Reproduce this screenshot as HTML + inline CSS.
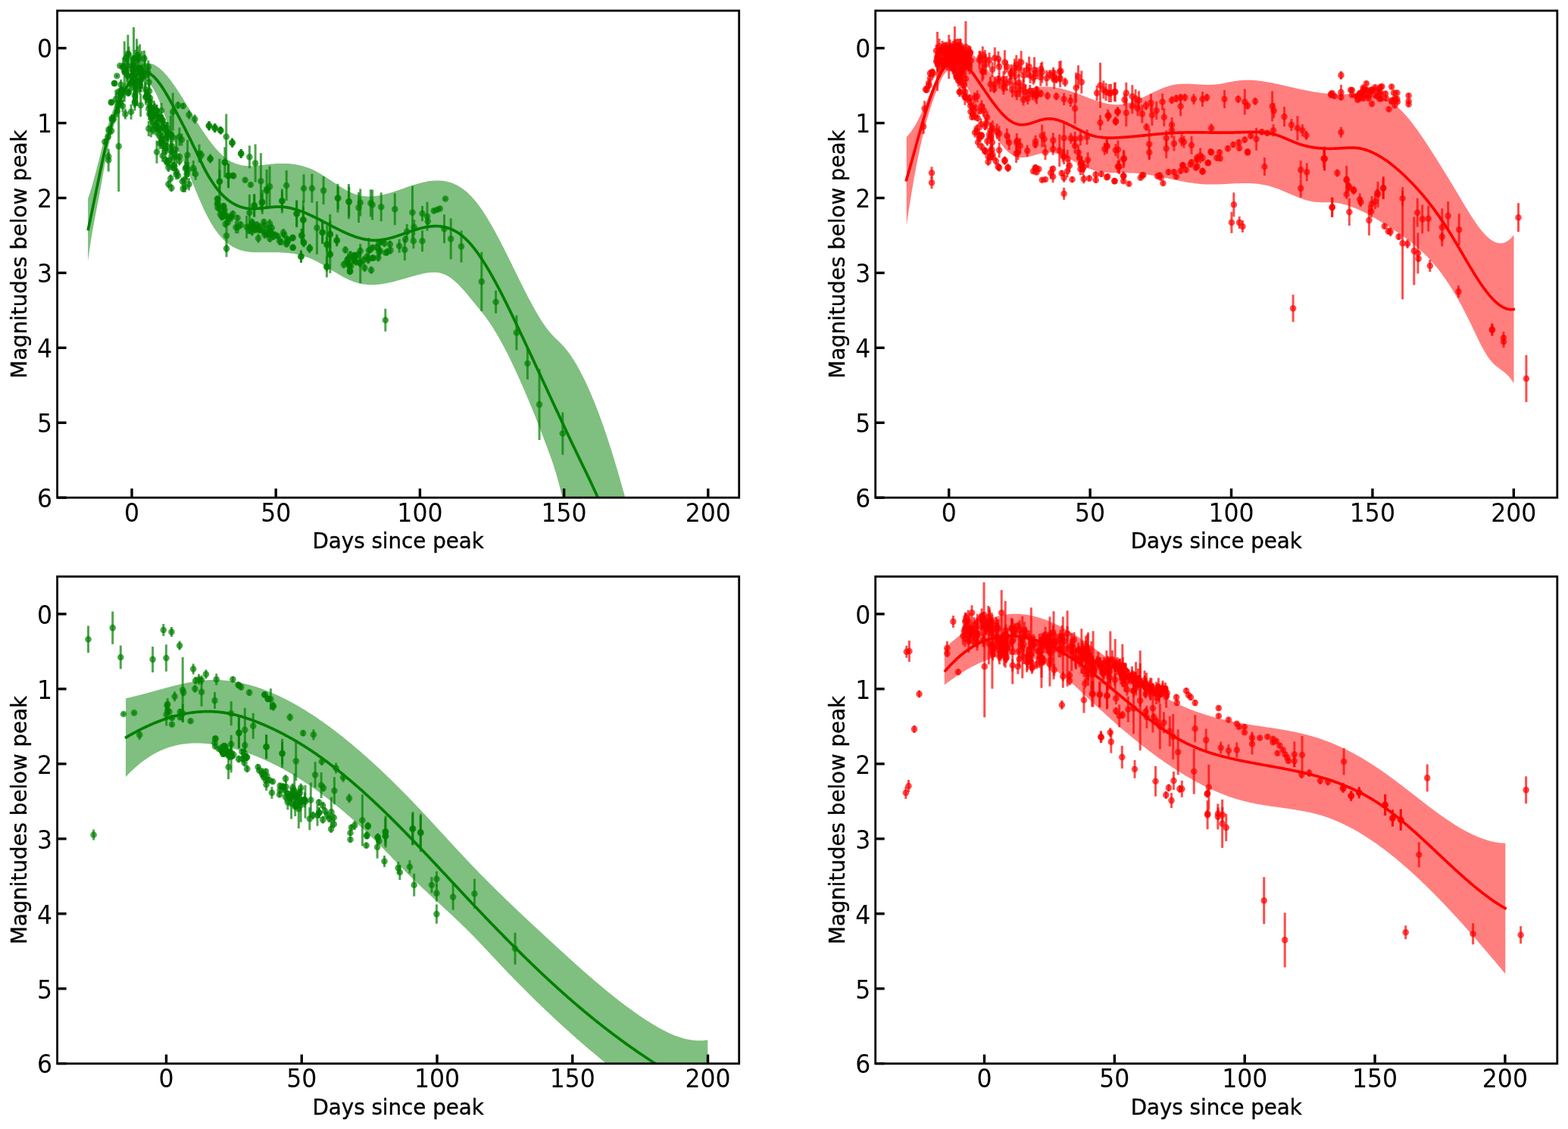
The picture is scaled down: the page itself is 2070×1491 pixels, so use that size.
<!DOCTYPE html>
<html><head><meta charset="utf-8"><title>Light curves</title>
<style>html,body{margin:0;padding:0;background:#fff;}svg{display:block;}text{font-family:"DejaVu Sans","Liberation Sans",sans-serif;fill:#000;}.eg{stroke:#008000;stroke-width:3;stroke-opacity:.7}.er{stroke:#f00;stroke-width:3;stroke-opacity:.7}.mg{fill:#008000;fill-opacity:.7}.mr{fill:#f00;fill-opacity:.7}</style>
</head><body>
<svg width="2070" height="1491" viewBox="0 0 2070 1491">
<rect width="100%" height="100%" fill="#fff"/>
<defs>
<clipPath id="c1"><rect x="75.6" y="14.1" width="900.1" height="643.1"/></clipPath>
<clipPath id="c2"><rect x="1155.7" y="14.1" width="900.1" height="643.1"/></clipPath>
<clipPath id="c3"><rect x="75.6" y="761.4" width="900.1" height="643.2"/></clipPath>
<clipPath id="c4"><rect x="1155.7" y="761.4" width="900.1" height="643.2"/></clipPath>
</defs>
<g clip-path="url(#c1)">
<path d="M116.1,262.3 L117.6,258.04 L119.1,253.45 L120.6,248.58 L122.1,243.45 L123.6,238.11 L125.1,232.57 L126.6,226.87 L128.1,221.05 L129.6,215.13 L131.1,209.15 L132.6,203.13 L134.1,197.11 L135.6,191.15 L137.1,185.28 L138.6,179.55 L140.1,174.01 L141.6,168.71 L143.1,163.63 L144.6,158.76 L146.1,154.11 L147.6,149.66 L149.1,145.4 L150.6,141.33 L152.1,137.42 L153.6,133.68 L155.1,130.1 L156.6,126.67 L158.1,123.37 L159.6,120.2 L161.1,117.15 L162.6,114.22 L164.1,111.41 L165.6,108.72 L167.1,106.15 L168.6,103.71 L170.1,101.4 L171.6,99.21 L173.1,97.16 L174.6,95.25 L176.1,93.47 L177.6,91.82 L179.1,90.32 L180.6,88.97 L182.1,87.75 L183.6,86.69 L185.1,85.78 L186.6,85.01 L188.1,84.38 L189.6,83.9 L191.1,83.55 L192.6,83.34 L194.1,83.26 L195.6,83.3 L197.1,83.47 L198.6,83.77 L200.1,84.18 L201.6,84.72 L203.1,85.36 L204.6,86.12 L206.1,86.98 L207.6,87.95 L209.1,89.02 L210.6,90.19 L212.1,91.45 L213.6,92.81 L215.1,94.26 L216.6,95.78 L218.1,97.4 L219.6,99.08 L221.1,100.85 L222.6,102.68 L224.1,104.58 L225.6,106.54 L227.1,108.56 L228.6,110.64 L230.1,112.77 L231.6,114.96 L233.1,117.18 L234.6,119.45 L236.1,121.76 L237.6,124.1 L239.1,126.47 L240.6,128.87 L242.1,131.3 L243.6,133.74 L245.1,136.21 L246.6,138.68 L248.1,141.17 L249.6,143.67 L251.1,146.16 L252.6,148.66 L254.1,151.15 L255.6,153.63 L257.1,156.11 L258.6,158.56 L260.1,161 L261.6,163.42 L263.1,165.81 L264.6,168.17 L266.1,170.51 L267.6,172.8 L269.1,175.06 L270.6,177.28 L272.1,179.46 L273.6,181.6 L275.1,183.69 L276.6,185.74 L278.1,187.74 L279.6,189.69 L281.1,191.58 L282.6,193.43 L284.1,195.21 L285.6,196.94 L287.1,198.62 L288.6,200.23 L290.1,201.77 L291.6,203.25 L293.1,204.67 L294.6,206.01 L296.1,207.29 L297.6,208.49 L299.1,209.62 L300.6,210.67 L302.1,211.65 L303.6,212.55 L305.1,213.39 L306.6,214.16 L308.1,214.87 L309.6,215.51 L311.1,216.09 L312.6,216.62 L314.1,217.09 L315.6,217.5 L317.1,217.87 L318.6,218.18 L320.1,218.45 L321.6,218.67 L323.1,218.86 L324.6,219 L326.1,219.11 L327.6,219.18 L329.1,219.21 L330.6,219.22 L332.1,219.2 L333.6,219.15 L335.1,219.08 L336.6,218.98 L338.1,218.87 L339.6,218.74 L341.1,218.6 L342.6,218.44 L344.1,218.28 L345.6,218.1 L347.1,217.92 L348.6,217.74 L350.1,217.55 L351.6,217.37 L353.1,217.19 L354.6,217.01 L356.1,216.85 L357.6,216.69 L359.1,216.55 L360.6,216.42 L362.1,216.3 L363.6,216.19 L365.1,216.1 L366.6,216.03 L368.1,215.97 L369.6,215.92 L371.1,215.9 L372.6,215.89 L374.1,215.89 L375.6,215.92 L377.1,215.96 L378.6,216.03 L380.1,216.11 L381.6,216.22 L383.1,216.35 L384.6,216.5 L386.1,216.67 L387.6,216.86 L389.1,217.08 L390.6,217.32 L392.1,217.59 L393.6,217.88 L395.1,218.2 L396.6,218.55 L398.1,218.92 L399.6,219.32 L401.1,219.75 L402.6,220.21 L404.1,220.7 L405.6,221.22 L407.1,221.77 L408.6,222.35 L410.1,222.96 L411.6,223.61 L413.1,224.28 L414.6,225 L416.1,225.74 L417.6,226.52 L419.1,227.33 L420.6,228.17 L422.1,229.03 L423.6,229.92 L425.1,230.83 L426.6,231.76 L428.1,232.7 L429.6,233.66 L431.1,234.63 L432.6,235.62 L434.1,236.61 L435.6,237.6 L437.1,238.6 L438.6,239.6 L440.1,240.6 L441.6,241.59 L443.1,242.58 L444.6,243.56 L446.1,244.53 L447.6,245.49 L449.1,246.44 L450.6,247.37 L452.1,248.27 L453.6,249.16 L455.1,250.02 L456.6,250.86 L458.1,251.67 L459.6,252.45 L461.1,253.19 L462.6,253.9 L464.1,254.57 L465.6,255.21 L467.1,255.8 L468.6,256.35 L470.1,256.85 L471.6,257.3 L473.1,257.71 L474.6,258.07 L476.1,258.38 L477.6,258.65 L479.1,258.88 L480.6,259.07 L482.1,259.22 L483.6,259.33 L485.1,259.4 L486.6,259.43 L488.1,259.43 L489.6,259.39 L491.1,259.33 L492.6,259.22 L494.1,259.09 L495.6,258.93 L497.1,258.74 L498.6,258.52 L500.1,258.28 L501.6,258.01 L503.1,257.72 L504.6,257.4 L506.1,257.07 L507.6,256.71 L509.1,256.33 L510.6,255.94 L512.1,255.53 L513.6,255.1 L515.1,254.66 L516.6,254.21 L518.1,253.74 L519.6,253.26 L521.1,252.77 L522.6,252.28 L524.1,251.77 L525.6,251.26 L527.1,250.75 L528.6,250.23 L530.1,249.7 L531.6,249.18 L533.1,248.65 L534.6,248.13 L536.1,247.61 L537.6,247.09 L539.1,246.57 L540.6,246.06 L542.1,245.56 L543.6,245.06 L545.1,244.58 L546.6,244.1 L548.1,243.63 L549.6,243.18 L551.1,242.74 L552.6,242.31 L554.1,241.9 L555.6,241.51 L557.1,241.13 L558.6,240.78 L560.1,240.44 L561.6,240.13 L563.1,239.84 L564.6,239.57 L566.1,239.33 L567.6,239.11 L569.1,238.93 L570.6,238.77 L572.1,238.64 L573.6,238.54 L575.1,238.47 L576.6,238.44 L578.1,238.44 L579.6,238.48 L581.1,238.55 L582.6,238.66 L584.1,238.81 L585.6,239 L587.1,239.23 L588.6,239.51 L590.1,239.83 L591.6,240.19 L593.1,240.6 L594.6,241.06 L596.1,241.56 L597.6,242.12 L599.1,242.72 L600.6,243.38 L602.1,244.09 L603.6,244.85 L605.1,245.67 L606.6,246.55 L608.1,247.49 L609.6,248.48 L611.1,249.53 L612.6,250.65 L614.1,251.82 L615.6,253.07 L617.1,254.37 L618.6,255.74 L620.1,257.18 L621.6,258.69 L623.1,260.26 L624.6,261.91 L626.1,263.63 L627.6,265.42 L629.1,267.28 L630.6,269.21 L632.1,271.21 L633.6,273.28 L635.1,275.4 L636.6,277.59 L638.1,279.84 L639.6,282.15 L641.1,284.5 L642.6,286.92 L644.1,289.38 L645.6,291.89 L647.1,294.45 L648.6,297.05 L650.1,299.69 L651.6,302.38 L653.1,305.1 L654.6,307.86 L656.1,310.65 L657.6,313.48 L659.1,316.33 L660.6,319.21 L662.1,322.12 L663.6,325.05 L665.1,328 L666.6,330.97 L668.1,333.96 L669.6,336.97 L671.1,339.98 L672.6,343.01 L674.1,346.05 L675.6,349.09 L677.1,352.14 L678.6,355.19 L680.1,358.25 L681.6,361.3 L683.1,364.34 L684.6,367.38 L686.1,370.42 L687.6,373.44 L689.1,376.45 L690.6,379.45 L692.1,382.43 L693.6,385.39 L695.1,388.33 L696.6,391.25 L698.1,394.13 L699.6,396.99 L701.1,399.81 L702.6,402.59 L704.1,405.33 L705.6,408.03 L707.1,410.68 L708.6,413.28 L710.1,415.83 L711.6,418.33 L713.1,420.76 L714.6,423.14 L716.1,425.44 L717.6,427.69 L719.1,429.86 L720.6,431.95 L722.1,433.97 L723.6,435.91 L725.1,437.77 L726.6,439.54 L728.1,441.23 L729.6,442.85 L731.1,444.4 L732.6,445.91 L734.1,447.4 L735.6,448.86 L737.1,450.32 L738.6,451.8 L740.1,453.3 L741.6,454.84 L743.1,456.43 L744.6,458.09 L746.1,459.83 L747.6,461.65 L749.1,463.55 L750.6,465.54 L752.1,467.6 L753.6,469.74 L755.1,471.95 L756.6,474.25 L758.1,476.62 L759.6,479.08 L761.1,481.61 L762.6,484.21 L764.1,486.89 L765.6,489.65 L767.1,492.49 L768.6,495.4 L770.1,498.38 L771.6,501.44 L773.1,504.58 L774.6,507.79 L776.1,511.07 L777.6,514.42 L779.1,517.85 L780.6,521.35 L782.1,524.92 L783.6,528.57 L785.1,532.29 L786.6,536.07 L788.1,539.93 L789.6,543.86 L791.1,547.86 L792.6,551.93 L794.1,556.06 L795.6,560.27 L797.1,564.55 L798.6,568.89 L800.1,573.3 L801.6,577.78 L803.1,582.32 L804.6,586.94 L806.1,591.61 L807.6,596.36 L809.1,601.17 L810.6,606.05 L812.1,610.99 L813.6,615.99 L815.1,621.06 L816.6,626.19 L818.1,631.39 L819.6,636.65 L821.1,641.97 L822.6,647.36 L824.1,652.81 L825.6,658.32 L827.1,663.89 L828.6,669.52 L830,674.83 L745,670.41 L744.6,668.4 L743.1,661.13 L741.6,654.29 L740.1,647.83 L738.6,641.74 L737.1,635.98 L735.6,630.53 L734.1,625.35 L732.6,620.42 L731.1,615.71 L729.6,611.18 L728.1,606.82 L726.6,602.58 L725.1,598.45 L723.6,594.39 L722.1,590.37 L720.6,586.38 L719.1,582.41 L717.6,578.47 L716.1,574.55 L714.6,570.65 L713.1,566.78 L711.6,562.93 L710.1,559.1 L708.6,555.31 L707.1,551.53 L705.6,547.79 L704.1,544.07 L702.6,540.37 L701.1,536.7 L699.6,533.06 L698.1,529.45 L696.6,525.87 L695.1,522.31 L693.6,518.78 L692.1,515.28 L690.6,511.81 L689.1,508.37 L687.6,504.96 L686.1,501.58 L684.6,498.23 L683.1,494.91 L681.6,491.62 L680.1,488.37 L678.6,485.15 L677.1,481.96 L675.6,478.81 L674.1,475.7 L672.6,472.62 L671.1,469.58 L669.6,466.59 L668.1,463.64 L666.6,460.73 L665.1,457.86 L663.6,455.04 L662.1,452.26 L660.6,449.53 L659.1,446.85 L657.6,444.22 L656.1,441.64 L654.6,439.1 L653.1,436.63 L651.6,434.2 L650.1,431.83 L648.6,429.52 L647.1,427.26 L645.6,425.06 L644.1,422.93 L642.6,420.85 L641.1,418.82 L639.6,416.85 L638.1,414.91 L636.6,413.02 L635.1,411.14 L633.6,409.29 L632.1,407.45 L630.6,405.62 L629.1,403.78 L627.6,401.94 L626.1,400.09 L624.6,398.24 L623.1,396.39 L621.6,394.55 L620.1,392.72 L618.6,390.9 L617.1,389.11 L615.6,387.33 L614.1,385.58 L612.6,383.85 L611.1,382.16 L609.6,380.51 L608.1,378.89 L606.6,377.32 L605.1,375.79 L603.6,374.32 L602.1,372.9 L600.6,371.54 L599.1,370.24 L597.6,369.01 L596.1,367.84 L594.6,366.75 L593.1,365.73 L591.6,364.8 L590.1,363.95 L588.6,363.18 L587.1,362.5 L585.6,361.9 L584.1,361.38 L582.6,360.94 L581.1,360.56 L579.6,360.26 L578.1,360.02 L576.6,359.84 L575.1,359.72 L573.6,359.65 L572.1,359.64 L570.6,359.68 L569.1,359.76 L567.6,359.89 L566.1,360.06 L564.6,360.26 L563.1,360.49 L561.6,360.76 L560.1,361.05 L558.6,361.37 L557.1,361.7 L555.6,362.06 L554.1,362.42 L552.6,362.8 L551.1,363.19 L549.6,363.58 L548.1,363.99 L546.6,364.4 L545.1,364.82 L543.6,365.24 L542.1,365.66 L540.6,366.09 L539.1,366.52 L537.6,366.95 L536.1,367.39 L534.6,367.82 L533.1,368.25 L531.6,368.68 L530.1,369.1 L528.6,369.53 L527.1,369.94 L525.6,370.35 L524.1,370.76 L522.6,371.15 L521.1,371.54 L519.6,371.92 L518.1,372.29 L516.6,372.64 L515.1,372.99 L513.6,373.32 L512.1,373.63 L510.6,373.94 L509.1,374.22 L507.6,374.49 L506.1,374.74 L504.6,374.97 L503.1,375.19 L501.6,375.38 L500.1,375.55 L498.6,375.7 L497.1,375.83 L495.6,375.93 L494.1,376.01 L492.6,376.06 L491.1,376.09 L489.6,376.08 L488.1,376.05 L486.6,375.99 L485.1,375.9 L483.6,375.78 L482.1,375.62 L480.6,375.43 L479.1,375.21 L477.6,374.96 L476.1,374.66 L474.6,374.33 L473.1,373.97 L471.6,373.56 L470.1,373.12 L468.6,372.63 L467.1,372.11 L465.6,371.55 L464.1,370.96 L462.6,370.33 L461.1,369.67 L459.6,368.98 L458.1,368.26 L456.6,367.52 L455.1,366.75 L453.6,365.96 L452.1,365.15 L450.6,364.32 L449.1,363.47 L447.6,362.61 L446.1,361.74 L444.6,360.85 L443.1,359.95 L441.6,359.05 L440.1,358.14 L438.6,357.23 L437.1,356.31 L435.6,355.39 L434.1,354.48 L432.6,353.56 L431.1,352.66 L429.6,351.75 L428.1,350.86 L426.6,349.98 L425.1,349.11 L423.6,348.25 L422.1,347.41 L420.6,346.58 L419.1,345.78 L417.6,345 L416.1,344.24 L414.6,343.5 L413.1,342.79 L411.6,342.11 L410.1,341.46 L408.6,340.84 L407.1,340.25 L405.6,339.7 L404.1,339.17 L402.6,338.67 L401.1,338.2 L399.6,337.75 L398.1,337.34 L396.6,336.95 L395.1,336.58 L393.6,336.24 L392.1,335.92 L390.6,335.62 L389.1,335.35 L387.6,335.09 L386.1,334.86 L384.6,334.65 L383.1,334.45 L381.6,334.27 L380.1,334.11 L378.6,333.97 L377.1,333.84 L375.6,333.73 L374.1,333.63 L372.6,333.54 L371.1,333.47 L369.6,333.4 L368.1,333.35 L366.6,333.31 L365.1,333.28 L363.6,333.25 L362.1,333.23 L360.6,333.22 L359.1,333.22 L357.6,333.22 L356.1,333.23 L354.6,333.24 L353.1,333.25 L351.6,333.26 L350.1,333.28 L348.6,333.3 L347.1,333.31 L345.6,333.33 L344.1,333.34 L342.6,333.34 L341.1,333.34 L339.6,333.33 L338.1,333.3 L336.6,333.26 L335.1,333.2 L333.6,333.12 L332.1,333.01 L330.6,332.88 L329.1,332.72 L327.6,332.54 L326.1,332.32 L324.6,332.06 L323.1,331.77 L321.6,331.44 L320.1,331.06 L318.6,330.65 L317.1,330.18 L315.6,329.67 L314.1,329.1 L312.6,328.48 L311.1,327.8 L309.6,327.07 L308.1,326.27 L306.6,325.41 L305.1,324.48 L303.6,323.49 L302.1,322.42 L300.6,321.28 L299.1,320.06 L297.6,318.77 L296.1,317.39 L294.6,315.94 L293.1,314.39 L291.6,312.76 L290.1,311.04 L288.6,309.23 L287.1,307.32 L285.6,305.31 L284.1,303.21 L282.6,301 L281.1,298.68 L279.6,296.26 L278.1,293.74 L276.6,291.1 L275.1,288.35 L273.6,285.5 L272.1,282.54 L270.6,279.48 L269.1,276.32 L267.6,273.05 L266.1,269.7 L264.6,266.28 L263.1,262.79 L261.6,259.25 L260.1,255.67 L258.6,252.06 L257.1,248.43 L255.6,244.79 L254.1,241.15 L252.6,237.53 L251.1,233.94 L249.6,230.38 L248.1,226.87 L246.6,223.42 L245.1,220.05 L243.6,216.75 L242.1,213.5 L240.6,210.29 L239.1,207.09 L237.6,203.87 L236.1,200.61 L234.6,197.28 L233.1,193.86 L231.6,190.32 L230.1,186.63 L228.6,182.81 L227.1,178.87 L225.6,174.84 L224.1,170.73 L222.6,166.58 L221.1,162.4 L219.6,158.22 L218.1,154.06 L216.6,149.94 L215.1,145.88 L213.6,141.9 L212.1,138.04 L210.6,134.31 L209.1,130.73 L207.6,127.32 L206.1,124.11 L204.6,121.13 L203.1,118.38 L201.6,115.89 L200.1,113.65 L198.6,111.66 L197.1,109.92 L195.6,108.43 L194.1,107.19 L192.6,106.2 L191.1,105.46 L189.6,104.97 L188.1,104.73 L186.6,104.74 L185.1,104.99 L183.6,105.5 L182.1,106.25 L180.6,107.24 L179.1,108.46 L177.6,109.91 L176.1,111.56 L174.6,113.42 L173.1,115.47 L171.6,117.71 L170.1,120.12 L168.6,122.7 L167.1,125.43 L165.6,128.31 L164.1,131.33 L162.6,134.48 L161.1,137.74 L159.6,141.11 L158.1,144.61 L156.6,148.26 L155.1,152.1 L153.6,156.16 L152.1,160.47 L150.6,165.06 L149.1,169.97 L147.6,175.24 L146.1,180.88 L144.6,186.93 L143.1,193.44 L141.6,200.42 L140.1,207.91 L138.6,215.92 L137.1,224.3 L135.6,232.86 L134.1,241.43 L132.6,249.81 L131.1,257.86 L129.6,265.64 L128.1,273.28 L126.6,280.92 L125.1,288.67 L123.6,296.67 L122.1,305.04 L120.6,313.92 L119.1,323.43 L117.6,333.69 L116.1,344.84 Z" fill="#008000" fill-opacity="0.5"/>
<path class="eg" d="M158.4,85.4V88.4"/><circle class="mg" cx="158.4" cy="86.9" r="4.3"/><path class="eg" d="M154.4,98.8V101.8"/><circle class="mg" cx="154.4" cy="100.3" r="4.3"/><path class="eg" d="M151.2,108.6V111.6"/><circle class="mg" cx="151.2" cy="110.1" r="4.3"/><path class="eg" d="M146.8,133.6V136.6"/><circle class="mg" cx="146.8" cy="135.1" r="4.3"/><path class="eg" d="M168.9,45.9V95.9"/><circle class="mg" cx="168.9" cy="70.9" r="4.3"/><path class="eg" d="M164.3,54.5V134.5"/><circle class="mg" cx="164.3" cy="94.5" r="4.3"/><path class="eg" d="M166.0,72.1V82.1"/><circle class="mg" cx="166.0" cy="77.1" r="4.3"/><path class="eg" d="M176.5,36.1V134.1"/><circle class="mg" cx="176.5" cy="85.1" r="4.3"/><path class="eg" d="M180.5,51.2V131.2"/><circle class="mg" cx="180.5" cy="91.2" r="4.3"/><path class="eg" d="M184.5,58.6V124.6"/><circle class="mg" cx="184.5" cy="91.6" r="4.3"/><path class="eg" d="M187.4,67.3V117.3"/><circle class="mg" cx="187.4" cy="92.3" r="4.3"/><path class="eg" d="M191.4,72.3V128.3"/><circle class="mg" cx="191.4" cy="100.3" r="4.3"/><path class="eg" d="M183.0,85.1V95.1"/><circle class="mg" cx="183.0" cy="90.1" r="4.3"/><path class="eg" d="M185.2,105.3V121.3"/><circle class="mg" cx="185.2" cy="113.3" r="4.3"/><path class="eg" d="M192.5,119.8V135.8"/><circle class="mg" cx="192.5" cy="127.8" r="4.3"/><path class="eg" d="M194.6,120.4V132.4"/><circle class="mg" cx="194.6" cy="126.4" r="4.3"/><path class="eg" d="M170.0,117.0V127.0"/><circle class="mg" cx="170.0" cy="122.0" r="4.3"/><path class="eg" d="M160.6,114.1V124.1"/><circle class="mg" cx="160.6" cy="119.1" r="4.3"/><path class="eg" d="M178.0,126.3V142.3"/><circle class="mg" cx="178.0" cy="134.3" r="4.3"/><path class="eg" d="M197.5,130.0V150.0"/><circle class="mg" cx="197.5" cy="140.0" r="4.3"/><path class="eg" d="M203.3,133.0V157.0"/><circle class="mg" cx="203.3" cy="145.0" r="4.3"/><path class="eg" d="M165.7,88.0V98.0"/><circle class="mg" cx="165.7" cy="93.0" r="4.3"/><path class="eg" d="M174.0,80.0V120.0"/><circle class="mg" cx="174.0" cy="100.0" r="4.3"/><path class="eg" d="M178.0,83.0V133.0"/><circle class="mg" cx="178.0" cy="108.0" r="4.3"/><path class="eg" d="M181.0,96.0V140.0"/><circle class="mg" cx="181.0" cy="118.0" r="4.3"/><path class="eg" d="M186.0,86.0V122.0"/><circle class="mg" cx="186.0" cy="104.0" r="4.3"/><path class="eg" d="M188.0,86.0V106.0"/><circle class="mg" cx="188.0" cy="96.0" r="4.3"/><path class="eg" d="M172.0,98.0V122.0"/><circle class="mg" cx="172.0" cy="110.0" r="4.3"/><path class="eg" d="M176.0,84.0V104.0"/><circle class="mg" cx="176.0" cy="94.0" r="4.3"/><path class="eg" d="M150.9,107.0V113.0"/><circle class="mg" cx="150.9" cy="110.0" r="4.3"/><path class="eg" d="M147.1,132.1V138.1"/><circle class="mg" cx="147.1" cy="135.1" r="4.3"/><path class="eg" d="M160.6,113.7V123.7"/><circle class="mg" cx="160.6" cy="118.7" r="4.3"/><path class="eg" d="M169.3,117.6V127.6"/><circle class="mg" cx="169.3" cy="122.6" r="4.3"/><path class="eg" d="M154.8,138.7V154.7"/><circle class="mg" cx="154.8" cy="146.7" r="4.3"/><path class="eg" d="M165.4,143.6V157.6"/><circle class="mg" cx="165.4" cy="150.6" r="4.3"/><path class="eg" d="M173.1,137.7V157.7"/><circle class="mg" cx="173.1" cy="147.7" r="4.3"/><path class="eg" d="M178.0,114.4V138.4"/><circle class="mg" cx="178.0" cy="126.4" r="4.3"/><path class="eg" d="M178.0,126.1V146.1"/><circle class="mg" cx="178.0" cy="136.1" r="4.3"/><path class="eg" d="M185.7,124.0V154.0"/><circle class="mg" cx="185.7" cy="139.0" r="4.3"/><path class="eg" d="M192.5,118.4V138.4"/><circle class="mg" cx="192.5" cy="128.4" r="4.3"/><path class="eg" d="M195.4,119.4V135.4"/><circle class="mg" cx="195.4" cy="127.4" r="4.3"/><path class="eg" d="M204.1,135.9V147.9"/><circle class="mg" cx="204.1" cy="141.9" r="4.3"/><path class="eg" d="M196.3,133.8V153.8"/><circle class="mg" cx="196.3" cy="143.8" r="4.3"/><path class="eg" d="M197.3,142.6V158.6"/><circle class="mg" cx="197.3" cy="150.6" r="4.3"/><path class="eg" d="M203.1,148.5V158.5"/><circle class="mg" cx="203.1" cy="153.5" r="4.3"/><path class="eg" d="M211.8,149.4V161.4"/><circle class="mg" cx="211.8" cy="155.4" r="4.3"/><path class="eg" d="M216.6,158.1V170.1"/><circle class="mg" cx="216.6" cy="164.1" r="4.3"/><path class="eg" d="M207.0,154.2V170.2"/><circle class="mg" cx="207.0" cy="162.2" r="4.3"/><path class="eg" d="M196.3,159.9V179.9"/><circle class="mg" cx="196.3" cy="169.9" r="4.3"/><path class="eg" d="M202.1,165.8V177.8"/><circle class="mg" cx="202.1" cy="171.8" r="4.3"/><path class="eg" d="M207.9,162.0V174.0"/><circle class="mg" cx="207.9" cy="168.0" r="4.3"/><path class="eg" d="M207.9,169.7V181.7"/><circle class="mg" cx="207.9" cy="175.7" r="4.3"/><path class="eg" d="M211.8,173.5V189.5"/><circle class="mg" cx="211.8" cy="181.5" r="4.3"/><path class="eg" d="M210.8,181.2V197.2"/><circle class="mg" cx="210.8" cy="189.2" r="4.3"/><path class="eg" d="M215.7,187.1V199.1"/><circle class="mg" cx="215.7" cy="193.1" r="4.3"/><path class="eg" d="M220.5,188.1V200.1"/><circle class="mg" cx="220.5" cy="194.1" r="4.3"/><path class="eg" d="M207.0,185.8V215.8"/><circle class="mg" cx="207.0" cy="200.8" r="4.3"/><path class="eg" d="M214.7,197.7V213.7"/><circle class="mg" cx="214.7" cy="205.7" r="4.3"/><path class="eg" d="M218.6,205.4V217.4"/><circle class="mg" cx="218.6" cy="211.4" r="4.3"/><path class="eg" d="M220.5,208.3V220.3"/><circle class="mg" cx="220.5" cy="214.3" r="4.3"/><path class="eg" d="M222.4,215.1V227.1"/><circle class="mg" cx="222.4" cy="221.1" r="4.3"/><path class="eg" d="M228.2,216.1V226.1"/><circle class="mg" cx="228.2" cy="221.1" r="4.3"/><path class="eg" d="M233.0,221.9V231.9"/><circle class="mg" cx="233.0" cy="226.9" r="4.3"/><path class="eg" d="M235.0,226.7V236.7"/><circle class="mg" cx="235.0" cy="231.7" r="4.3"/><path class="eg" d="M225.3,230.6V240.6"/><circle class="mg" cx="225.3" cy="235.6" r="4.3"/><path class="eg" d="M222.4,238.3V248.3"/><circle class="mg" cx="222.4" cy="243.3" r="4.3"/><path class="eg" d="M226.3,243.2V253.2"/><circle class="mg" cx="226.3" cy="248.2" r="4.3"/><path class="eg" d="M240.8,234.5V244.5"/><circle class="mg" cx="240.8" cy="239.5" r="4.3"/><path class="eg" d="M241.7,244.1V254.1"/><circle class="mg" cx="241.7" cy="249.1" r="4.3"/><path class="eg" d="M221.4,161.7V191.7"/><circle class="mg" cx="221.4" cy="176.7" r="4.3"/><path class="eg" d="M225.3,152.6V202.6"/><circle class="mg" cx="225.3" cy="177.6" r="4.3"/><path class="eg" d="M236.9,168.5V192.5"/><circle class="mg" cx="236.9" cy="180.5" r="4.3"/><path class="eg" d="M239.8,176.4V192.4"/><circle class="mg" cx="239.8" cy="184.4" r="4.3"/><path class="eg" d="M236.9,206.4V218.4"/><circle class="mg" cx="236.9" cy="212.4" r="4.3"/><path class="eg" d="M247.5,184.7V224.7"/><circle class="mg" cx="247.5" cy="204.7" r="4.3"/><path class="eg" d="M245.6,206.1V236.1"/><circle class="mg" cx="245.6" cy="221.1" r="4.3"/><path class="eg" d="M248.5,214.0V234.0"/><circle class="mg" cx="248.5" cy="224.0" r="4.3"/><path class="eg" d="M255.3,212.1V232.1"/><circle class="mg" cx="255.3" cy="222.1" r="4.3"/><path class="eg" d="M258.2,221.8V237.8"/><circle class="mg" cx="258.2" cy="229.8" r="4.3"/><path class="eg" d="M246.6,221.8V237.8"/><circle class="mg" cx="246.6" cy="229.8" r="4.3"/><path class="eg" d="M249.5,235.3V251.3"/><circle class="mg" cx="249.5" cy="243.3" r="4.3"/><path class="eg" d="M228.2,122.7V172.7"/><circle class="mg" cx="228.2" cy="147.7" r="4.3"/><path class="eg" d="M235.0,134.0V144.0"/><circle class="mg" cx="235.0" cy="139.0" r="4.3"/><path class="eg" d="M241.7,136.0V144.0"/><circle class="mg" cx="241.7" cy="140.0" r="4.3"/><path class="eg" d="M249.5,145.5V157.5"/><circle class="mg" cx="249.5" cy="151.5" r="4.3"/><path class="eg" d="M257.2,151.3V163.3"/><circle class="mg" cx="257.2" cy="157.3" r="4.3"/><path class="eg" d="M275.6,160.0V172.0"/><circle class="mg" cx="275.6" cy="166.0" r="4.3"/><path class="eg" d="M283.3,162.9V174.9"/><circle class="mg" cx="283.3" cy="168.9" r="4.3"/><path class="eg" d="M291.0,166.8V176.8"/><circle class="mg" cx="291.0" cy="171.8" r="4.3"/><path class="eg" d="M298.7,150.5V210.5"/><circle class="mg" cx="298.7" cy="180.5" r="4.3"/><path class="eg" d="M306.5,182.3V194.3"/><circle class="mg" cx="306.5" cy="188.3" r="4.3"/><path class="eg" d="M318.1,196.8V208.8"/><circle class="mg" cx="318.1" cy="202.8" r="4.3"/><path class="eg" d="M263.0,190.8V214.8"/><circle class="mg" cx="263.0" cy="202.8" r="4.3"/><path class="eg" d="M265.9,198.7V210.7"/><circle class="mg" cx="265.9" cy="204.7" r="4.3"/><path class="eg" d="M277.5,203.5V215.5"/><circle class="mg" cx="277.5" cy="209.5" r="4.3"/><path class="eg" d="M296.8,194.3V234.3"/><circle class="mg" cx="296.8" cy="214.3" r="4.3"/><path class="eg" d="M290.0,224.5V254.5"/><circle class="mg" cx="290.0" cy="239.5" r="4.3"/><path class="eg" d="M301.6,215.7V247.7"/><circle class="mg" cx="301.6" cy="231.7" r="4.3"/><path class="eg" d="M307.4,228.7V234.7"/><circle class="mg" cx="307.4" cy="231.7" r="4.3"/><path class="eg" d="M138.4,183.3V191.3"/><circle class="mg" cx="138.4" cy="187.3" r="4.3"/><path class="eg" d="M143.2,200.6V212.6"/><circle class="mg" cx="143.2" cy="206.6" r="4.3"/><path class="eg" d="M143.2,196.4V226.4"/><circle class="mg" cx="143.2" cy="211.4" r="4.3"/><path class="eg" d="M156.7,133.1V253.1"/><circle class="mg" cx="156.7" cy="193.1" r="4.3"/><path class="eg" d="M147.1,167.8V177.8"/><circle class="mg" cx="147.1" cy="172.8" r="4.3"/><path class="eg" d="M150.0,152.3V162.3"/><circle class="mg" cx="150.0" cy="157.3" r="4.3"/><path class="eg" d="M158.0,132.0V138.0"/><circle class="mg" cx="158.0" cy="135.0" r="4.3"/><path class="eg" d="M162.0,132.0V148.0"/><circle class="mg" cx="162.0" cy="140.0" r="4.3"/><path class="eg" d="M213.0,136.0V156.0"/><circle class="mg" cx="213.0" cy="146.0" r="4.3"/><path class="eg" d="M226.0,185.0V215.0"/><circle class="mg" cx="226.0" cy="200.0" r="4.3"/><path class="eg" d="M230.0,200.0V216.0"/><circle class="mg" cx="230.0" cy="208.0" r="4.3"/><path class="eg" d="M212.0,160.0V180.0"/><circle class="mg" cx="212.0" cy="170.0" r="4.3"/><path class="eg" d="M218.0,173.0V193.0"/><circle class="mg" cx="218.0" cy="183.0" r="4.3"/><path class="eg" d="M276.3,159.9V172.5"/><circle class="mg" cx="276.3" cy="166.2" r="4.3"/><path class="eg" d="M284.0,163.1V175.1"/><circle class="mg" cx="284.0" cy="169.1" r="4.3"/><path class="eg" d="M291.4,167.5V177.5"/><circle class="mg" cx="291.4" cy="172.5" r="4.3"/><path class="eg" d="M306.7,182.9V194.9"/><circle class="mg" cx="306.7" cy="188.9" r="4.3"/><path class="eg" d="M318.3,196.9V208.9"/><circle class="mg" cx="318.3" cy="202.9" r="4.3"/><path class="eg" d="M329.4,192.3V222.3"/><circle class="mg" cx="329.4" cy="207.3" r="4.3"/><path class="eg" d="M337.1,190.5V240.5"/><circle class="mg" cx="337.1" cy="215.5" r="4.3"/><path class="eg" d="M277.7,204.7V214.7"/><circle class="mg" cx="277.7" cy="209.7" r="4.3"/><path class="eg" d="M296.9,210.5V218.5"/><circle class="mg" cx="296.9" cy="214.5" r="4.3"/><path class="eg" d="M289.8,209.7V269.7"/><circle class="mg" cx="289.8" cy="239.7" r="4.3"/><path class="eg" d="M301.4,216.4V248.4"/><circle class="mg" cx="301.4" cy="232.4" r="4.3"/><path class="eg" d="M308.2,229.4V235.4"/><circle class="mg" cx="308.2" cy="232.4" r="4.3"/><path class="eg" d="M323.6,234.7V240.7"/><circle class="mg" cx="323.6" cy="237.7" r="4.3"/><path class="eg" d="M330.9,241.0V247.0"/><circle class="mg" cx="330.9" cy="244.0" r="4.3"/><path class="eg" d="M344.4,202.2V276.2"/><circle class="mg" cx="344.4" cy="239.2" r="4.3"/><path class="eg" d="M352.1,223.8V275.8"/><circle class="mg" cx="352.1" cy="249.8" r="4.3"/><path class="eg" d="M356.0,219.4V273.4"/><circle class="mg" cx="356.0" cy="246.4" r="4.3"/><path class="eg" d="M378.2,225.0V265.0"/><circle class="mg" cx="378.2" cy="245.0" r="4.3"/><path class="eg" d="M372.4,252.3V278.3"/><circle class="mg" cx="372.4" cy="265.3" r="4.3"/><path class="eg" d="M287.4,259.3V267.3"/><circle class="mg" cx="287.4" cy="263.3" r="4.3"/><path class="eg" d="M287.4,265.1V273.1"/><circle class="mg" cx="287.4" cy="269.1" r="4.3"/><path class="eg" d="M295.1,268.0V276.0"/><circle class="mg" cx="295.1" cy="272.0" r="4.3"/><path class="eg" d="M335.7,256.1V286.1"/><circle class="mg" cx="335.7" cy="271.1" r="4.3"/><path class="eg" d="M345.8,255.2V279.2"/><circle class="mg" cx="345.8" cy="267.2" r="4.3"/><path class="eg" d="M286.9,258.6V266.6"/><circle class="mg" cx="286.9" cy="262.6" r="4.3"/><path class="eg" d="M286.9,265.3V273.3"/><circle class="mg" cx="286.9" cy="269.3" r="4.3"/><path class="eg" d="M287.4,270.2V278.2"/><circle class="mg" cx="287.4" cy="274.2" r="4.3"/><path class="eg" d="M295.1,268.2V276.2"/><circle class="mg" cx="295.1" cy="272.2" r="4.3"/><path class="eg" d="M290.8,278.9V286.9"/><circle class="mg" cx="290.8" cy="282.9" r="4.3"/><path class="eg" d="M295.6,275.0V283.0"/><circle class="mg" cx="295.6" cy="279.0" r="4.3"/><path class="eg" d="M299.0,280.8V288.8"/><circle class="mg" cx="299.0" cy="284.8" r="4.3"/><path class="eg" d="M301.9,284.6V292.6"/><circle class="mg" cx="301.9" cy="288.6" r="4.3"/><path class="eg" d="M305.7,280.7V292.7"/><circle class="mg" cx="305.7" cy="286.7" r="4.3"/><path class="eg" d="M300.9,289.5V297.5"/><circle class="mg" cx="300.9" cy="293.5" r="4.3"/><path class="eg" d="M299.0,283.4V339.4"/><circle class="mg" cx="299.0" cy="311.4" r="4.3"/><path class="eg" d="M299.0,323.3V333.3"/><circle class="mg" cx="299.0" cy="328.3" r="4.3"/><path class="eg" d="M311.5,292.2V308.2"/><circle class="mg" cx="311.5" cy="300.2" r="4.3"/><path class="eg" d="M314.0,292.2V308.2"/><circle class="mg" cx="314.0" cy="300.2" r="4.3"/><path class="eg" d="M325.6,284.8V314.8"/><circle class="mg" cx="325.6" cy="299.8" r="4.3"/><path class="eg" d="M329.4,256.9V304.9"/><circle class="mg" cx="329.4" cy="280.9" r="4.3"/><path class="eg" d="M328.9,299.1V309.1"/><circle class="mg" cx="328.9" cy="304.1" r="4.3"/><path class="eg" d="M332.8,288.5V298.5"/><circle class="mg" cx="332.8" cy="293.5" r="4.3"/><path class="eg" d="M335.7,295.2V305.2"/><circle class="mg" cx="335.7" cy="300.2" r="4.3"/><path class="eg" d="M337.6,298.1V308.1"/><circle class="mg" cx="337.6" cy="303.1" r="4.3"/><path class="eg" d="M341.5,297.7V307.7"/><circle class="mg" cx="341.5" cy="302.7" r="4.3"/><path class="eg" d="M341.0,308.7V320.7"/><circle class="mg" cx="341.0" cy="314.7" r="4.3"/><path class="eg" d="M335.7,256.7V286.7"/><circle class="mg" cx="335.7" cy="271.7" r="4.3"/><path class="eg" d="M346.3,250.9V282.9"/><circle class="mg" cx="346.3" cy="266.9" r="4.3"/><path class="eg" d="M348.3,289.0V297.0"/><circle class="mg" cx="348.3" cy="293.0" r="4.3"/><path class="eg" d="M348.7,293.3V301.3"/><circle class="mg" cx="348.7" cy="297.3" r="4.3"/><path class="eg" d="M348.3,301.6V309.6"/><circle class="mg" cx="348.3" cy="305.6" r="4.3"/><path class="eg" d="M356.0,289.4V301.4"/><circle class="mg" cx="356.0" cy="295.4" r="4.3"/><path class="eg" d="M352.1,248.0V256.0"/><circle class="mg" cx="352.1" cy="252.0" r="4.3"/><path class="eg" d="M355.0,304.0V312.0"/><circle class="mg" cx="355.0" cy="308.0" r="4.3"/><path class="eg" d="M358.9,304.9V312.9"/><circle class="mg" cx="358.9" cy="308.9" r="4.3"/><path class="eg" d="M362.8,305.9V313.9"/><circle class="mg" cx="362.8" cy="309.9" r="4.3"/><path class="eg" d="M366.6,307.8V315.8"/><circle class="mg" cx="366.6" cy="311.8" r="4.3"/><path class="eg" d="M360.8,308.8V316.8"/><circle class="mg" cx="360.8" cy="312.8" r="4.3"/><path class="eg" d="M357.0,301.1V309.1"/><circle class="mg" cx="357.0" cy="305.1" r="4.3"/><path class="eg" d="M372.4,249.5V281.5"/><circle class="mg" cx="372.4" cy="265.5" r="4.3"/><path class="eg" d="M375.3,306.4V314.4"/><circle class="mg" cx="375.3" cy="310.4" r="4.3"/><path class="eg" d="M379.2,311.7V319.7"/><circle class="mg" cx="379.2" cy="315.7" r="4.3"/><path class="eg" d="M371.0,315.6V323.6"/><circle class="mg" cx="371.0" cy="319.6" r="4.3"/><path class="eg" d="M378.2,318.5V326.5"/><circle class="mg" cx="378.2" cy="322.5" r="4.3"/><path class="eg" d="M386.4,310.3V318.3"/><circle class="mg" cx="386.4" cy="314.3" r="4.3"/><path class="eg" d="M386.9,322.8V330.8"/><circle class="mg" cx="386.9" cy="326.8" r="4.3"/><path class="eg" d="M391.7,264.4V300.4"/><circle class="mg" cx="391.7" cy="282.4" r="4.3"/><path class="eg" d="M401.0,230.2V267.2"/><circle class="mg" cx="401.0" cy="248.7" r="4.3"/><path class="eg" d="M411.9,229.7V267.7"/><circle class="mg" cx="411.9" cy="248.7" r="4.3"/><path class="eg" d="M427.1,233.1V270.1"/><circle class="mg" cx="427.1" cy="251.6" r="4.3"/><path class="eg" d="M445.9,242.7V280.7"/><circle class="mg" cx="445.9" cy="261.7" r="4.3"/><path class="eg" d="M460.4,243.1V289.1"/><circle class="mg" cx="460.4" cy="266.1" r="4.3"/><path class="eg" d="M475.7,249.5V285.5"/><circle class="mg" cx="475.7" cy="267.5" r="4.3"/><path class="eg" d="M473.5,254.1V294.1"/><circle class="mg" cx="473.5" cy="274.1" r="4.3"/><path class="eg" d="M489.4,250.3V286.3"/><circle class="mg" cx="489.4" cy="268.3" r="4.3"/><path class="eg" d="M491.6,250.4V290.4"/><circle class="mg" cx="491.6" cy="270.4" r="4.3"/><path class="eg" d="M503.2,254.3V292.3"/><circle class="mg" cx="503.2" cy="273.3" r="4.3"/><path class="eg" d="M521.3,255.2V297.2"/><circle class="mg" cx="521.3" cy="276.2" r="4.3"/><path class="eg" d="M544.5,245.6V315.6"/><circle class="mg" cx="544.5" cy="280.6" r="4.3"/><path class="eg" d="M557.5,272.0V292.0"/><circle class="mg" cx="557.5" cy="282.0" r="4.3"/><path class="eg" d="M564.0,266.7V304.7"/><circle class="mg" cx="564.0" cy="285.7" r="4.3"/><path class="eg" d="M572.8,275.4V281.4"/><circle class="mg" cx="572.8" cy="278.4" r="4.3"/><path class="eg" d="M577.1,274.0V280.0"/><circle class="mg" cx="577.1" cy="277.0" r="4.3"/><path class="eg" d="M580.7,272.5V278.5"/><circle class="mg" cx="580.7" cy="275.5" r="4.3"/><path class="eg" d="M588.0,260.5V264.5"/><circle class="mg" cx="588.0" cy="262.5" r="4.3"/><path class="eg" d="M564.8,287.2V297.2"/><circle class="mg" cx="564.8" cy="292.2" r="4.3"/><path class="eg" d="M546.7,290.1V310.1"/><circle class="mg" cx="546.7" cy="300.1" r="4.3"/><path class="eg" d="M537.2,295.9V315.9"/><circle class="mg" cx="537.2" cy="305.9" r="4.3"/><path class="eg" d="M535.1,311.1V321.1"/><circle class="mg" cx="535.1" cy="316.1" r="4.3"/><path class="eg" d="M545.9,308.3V328.3"/><circle class="mg" cx="545.9" cy="318.3" r="4.3"/><path class="eg" d="M557.5,304.3V332.3"/><circle class="mg" cx="557.5" cy="318.3" r="4.3"/><path class="eg" d="M586.5,283.3V321.3"/><circle class="mg" cx="586.5" cy="302.3" r="4.3"/><path class="eg" d="M595.2,288.4V342.4"/><circle class="mg" cx="595.2" cy="315.4" r="4.3"/><path class="eg" d="M609.0,304.5V346.5"/><circle class="mg" cx="609.0" cy="325.5" r="4.3"/><path class="eg" d="M635.8,332.9V410.9"/><circle class="mg" cx="635.8" cy="371.9" r="4.3"/><path class="eg" d="M654.6,383.7V413.7"/><circle class="mg" cx="654.6" cy="398.7" r="4.3"/><path class="eg" d="M527.1,315.8V333.8"/><circle class="mg" cx="527.1" cy="324.8" r="4.3"/><path class="eg" d="M534.3,315.9V343.9"/><circle class="mg" cx="534.3" cy="329.9" r="4.3"/><path class="eg" d="M514.8,317.6V327.6"/><circle class="mg" cx="514.8" cy="322.6" r="4.3"/><path class="eg" d="M515.5,325.6V335.6"/><circle class="mg" cx="515.5" cy="330.6" r="4.3"/><path class="eg" d="M511.2,327.8V337.8"/><circle class="mg" cx="511.2" cy="332.8" r="4.3"/><path class="eg" d="M507.5,316.2V326.2"/><circle class="mg" cx="507.5" cy="321.2" r="4.3"/><path class="eg" d="M500.3,324.8V340.8"/><circle class="mg" cx="500.3" cy="332.8" r="4.3"/><path class="eg" d="M500.3,316.2V326.2"/><circle class="mg" cx="500.3" cy="321.2" r="4.3"/><path class="eg" d="M491.6,323.0V331.0"/><circle class="mg" cx="491.6" cy="327.0" r="4.3"/><path class="eg" d="M488.7,325.9V333.9"/><circle class="mg" cx="488.7" cy="329.9" r="4.3"/><path class="eg" d="M491.6,336.7V344.7"/><circle class="mg" cx="491.6" cy="340.7" r="4.3"/><path class="eg" d="M484.3,334.3V344.3"/><circle class="mg" cx="484.3" cy="339.3" r="4.3"/><path class="eg" d="M475.7,326.3V336.3"/><circle class="mg" cx="475.7" cy="331.3" r="4.3"/><path class="eg" d="M472.8,331.4V341.4"/><circle class="mg" cx="472.8" cy="336.4" r="4.3"/><path class="eg" d="M467.0,335.7V345.7"/><circle class="mg" cx="467.0" cy="340.7" r="4.3"/><path class="eg" d="M469.9,340.8V350.8"/><circle class="mg" cx="469.9" cy="345.8" r="4.3"/><path class="eg" d="M462.6,331.4V341.4"/><circle class="mg" cx="462.6" cy="336.4" r="4.3"/><path class="eg" d="M458.3,338.6V348.6"/><circle class="mg" cx="458.3" cy="343.6" r="4.3"/><path class="eg" d="M453.9,344.4V354.4"/><circle class="mg" cx="453.9" cy="349.4" r="4.3"/><path class="eg" d="M461.2,345.9V355.9"/><circle class="mg" cx="461.2" cy="350.9" r="4.3"/><path class="eg" d="M461.9,353.1V363.1"/><circle class="mg" cx="461.9" cy="358.1" r="4.3"/><path class="eg" d="M475.7,322.0V374.0"/><circle class="mg" cx="475.7" cy="348.0" r="4.3"/><path class="eg" d="M480.0,338.6V348.6"/><circle class="mg" cx="480.0" cy="343.6" r="4.3"/><path class="eg" d="M481.4,348.8V358.8"/><circle class="mg" cx="481.4" cy="353.8" r="4.3"/><path class="eg" d="M490.1,351.7V361.7"/><circle class="mg" cx="490.1" cy="356.7" r="4.3"/><path class="eg" d="M431.4,338.3V366.3"/><circle class="mg" cx="431.4" cy="352.3" r="4.3"/><path class="eg" d="M435.8,310.7V360.7"/><circle class="mg" cx="435.8" cy="335.7" r="4.3"/><path class="eg" d="M431.4,312.6V332.6"/><circle class="mg" cx="431.4" cy="322.6" r="4.3"/><path class="eg" d="M435.8,291.6V327.6"/><circle class="mg" cx="435.8" cy="309.6" r="4.3"/><path class="eg" d="M425.7,291.7V321.7"/><circle class="mg" cx="425.7" cy="306.7" r="4.3"/><path class="eg" d="M418.4,265.9V335.9"/><circle class="mg" cx="418.4" cy="300.9" r="4.3"/><path class="eg" d="M400.3,265.0V315.0"/><circle class="mg" cx="400.3" cy="290.0" r="4.3"/><path class="eg" d="M391.6,265.0V299.0"/><circle class="mg" cx="391.6" cy="282.0" r="4.3"/><path class="eg" d="M398.1,302.0V320.0"/><circle class="mg" cx="398.1" cy="311.0" r="4.3"/><path class="eg" d="M401.0,315.4V325.4"/><circle class="mg" cx="401.0" cy="320.4" r="4.3"/><path class="eg" d="M386.5,309.9V317.9"/><circle class="mg" cx="386.5" cy="313.9" r="4.3"/><path class="eg" d="M386.5,323.0V331.0"/><circle class="mg" cx="386.5" cy="327.0" r="4.3"/><path class="eg" d="M380.7,313.5V321.5"/><circle class="mg" cx="380.7" cy="317.5" r="4.3"/><path class="eg" d="M409.0,322.7V332.7"/><circle class="mg" cx="409.0" cy="327.7" r="4.3"/><path class="eg" d="M397.4,330.6V346.6"/><circle class="mg" cx="397.4" cy="338.6" r="4.3"/><path class="eg" d="M444.5,309.5V325.5"/><circle class="mg" cx="444.5" cy="317.5" r="4.3"/><path class="eg" d="M400.9,314.5V326.5"/><circle class="mg" cx="400.9" cy="320.5" r="4.3"/><path class="eg" d="M397.5,330.9V346.9"/><circle class="mg" cx="397.5" cy="338.9" r="4.3"/><path class="eg" d="M408.6,322.3V334.3"/><circle class="mg" cx="408.6" cy="328.3" r="4.3"/><path class="eg" d="M425.6,292.0V322.0"/><circle class="mg" cx="425.6" cy="307.0" r="4.3"/><path class="eg" d="M431.8,297.4V349.4"/><circle class="mg" cx="431.8" cy="323.4" r="4.3"/><path class="eg" d="M431.4,346.4V358.4"/><circle class="mg" cx="431.4" cy="352.4" r="4.3"/><path class="eg" d="M435.7,282.9V334.9"/><circle class="mg" cx="435.7" cy="308.9" r="4.3"/><path class="eg" d="M435.7,331.0V341.0"/><circle class="mg" cx="435.7" cy="336.0" r="4.3"/><path class="eg" d="M444.9,310.6V324.6"/><circle class="mg" cx="444.9" cy="317.6" r="4.3"/><path class="eg" d="M446.3,246.6V276.6"/><circle class="mg" cx="446.3" cy="261.6" r="4.3"/><path class="eg" d="M460.8,246.4V286.4"/><circle class="mg" cx="460.8" cy="266.4" r="4.3"/><path class="eg" d="M398.5,301.9V319.9"/><circle class="mg" cx="398.5" cy="310.9" r="4.3"/><path class="eg" d="M400.4,272.6V308.6"/><circle class="mg" cx="400.4" cy="290.6" r="4.3"/><path class="eg" d="M459.4,337.8V345.8"/><circle class="mg" cx="459.4" cy="341.8" r="4.3"/><path class="eg" d="M463.2,347.4V355.4"/><circle class="mg" cx="463.2" cy="351.4" r="4.3"/><path class="eg" d="M462.3,354.2V362.2"/><circle class="mg" cx="462.3" cy="358.2" r="4.3"/><path class="eg" d="M468.1,333.0V341.0"/><circle class="mg" cx="468.1" cy="337.0" r="4.3"/><path class="eg" d="M468.1,340.7V348.7"/><circle class="mg" cx="468.1" cy="344.7" r="4.3"/><path class="eg" d="M681.9,416.4V462.4"/><circle class="mg" cx="681.9" cy="439.4" r="4.3"/><path class="eg" d="M696.4,459.0V501.0"/><circle class="mg" cx="696.4" cy="480.0" r="4.3"/><path class="eg" d="M712.0,487.1V581.1"/><circle class="mg" cx="712.0" cy="534.1" r="4.3"/><path class="eg" d="M742.8,544.5V600.5"/><circle class="mg" cx="742.8" cy="572.5" r="4.3"/><path class="eg" d="M508.8,407.7V437.7"/><circle class="mg" cx="508.8" cy="422.7" r="4.3"/><path class="eg" d="M196.5,97.6V119.4"/><circle class="mg" cx="196.5" cy="108.5" r="4.3"/><path class="eg" d="M167.7,88.0V108.1"/><circle class="mg" cx="167.7" cy="98.0" r="4.3"/><path class="eg" d="M170.1,61.6V83.2"/><circle class="mg" cx="170.1" cy="72.4" r="4.3"/><path class="eg" d="M185.1,97.0V117.6"/><circle class="mg" cx="185.1" cy="107.3" r="4.3"/><path class="eg" d="M192.2,108.9V127.9"/><circle class="mg" cx="192.2" cy="118.4" r="4.3"/><path class="eg" d="M195.8,79.7V97.1"/><circle class="mg" cx="195.8" cy="88.4" r="4.3"/><path class="eg" d="M181.9,61.1V84.1"/><circle class="mg" cx="181.9" cy="72.6" r="4.3"/><path class="eg" d="M182.5,79.9V100.6"/><circle class="mg" cx="182.5" cy="90.3" r="4.3"/><path class="eg" d="M173.5,75.3V98.2"/><circle class="mg" cx="173.5" cy="86.8" r="4.3"/><path class="eg" d="M173.5,84.2V98.4"/><circle class="mg" cx="173.5" cy="91.3" r="4.3"/><path class="eg" d="M162.7,76.0V99.1"/><circle class="mg" cx="162.7" cy="87.6" r="4.3"/><path class="eg" d="M167.5,76.6V95.7"/><circle class="mg" cx="167.5" cy="86.1" r="4.3"/><path class="eg" d="M178.7,65.8V88.0"/><circle class="mg" cx="178.7" cy="76.9" r="4.3"/><path class="eg" d="M175.7,72.9V83.0"/><circle class="mg" cx="175.7" cy="78.0" r="4.3"/><path class="eg" d="M183.3,71.5V82.3"/><circle class="mg" cx="183.3" cy="76.9" r="4.3"/><path class="eg" d="M190.5,66.7V87.8"/><circle class="mg" cx="190.5" cy="77.3" r="4.3"/><path class="eg" d="M162.5,82.8V96.4"/><circle class="mg" cx="162.5" cy="89.6" r="4.3"/><path class="eg" d="M197.1,110.9V129.5"/><circle class="mg" cx="197.1" cy="120.2" r="4.3"/><path class="eg" d="M178.6,105.5V124.6"/><circle class="mg" cx="178.6" cy="115.0" r="4.3"/><path class="eg" d="M195.2,87.6V102.4"/><circle class="mg" cx="195.2" cy="95.0" r="4.3"/><path class="eg" d="M180.5,101.9V117.6"/><circle class="mg" cx="180.5" cy="109.7" r="4.3"/><path class="eg" d="M188.5,90.6V107.6"/><circle class="mg" cx="188.5" cy="99.1" r="4.3"/><path class="eg" d="M175.9,96.6V114.1"/><circle class="mg" cx="175.9" cy="105.3" r="4.3"/><path class="eg" d="M198.0,124.7V143.8"/><circle class="mg" cx="198.0" cy="134.2" r="4.3"/><path class="eg" d="M168.3,94.2V105.8"/><circle class="mg" cx="168.3" cy="100.0" r="4.3"/><path class="eg" d="M199.4,131.3V181.3"/><circle class="mg" cx="199.4" cy="156.3" r="4.3"/><path class="eg" d="M232.7,179.3V232.3"/><circle class="mg" cx="232.7" cy="205.8" r="4.3"/><path class="eg" d="M243.5,232.6V243.1"/><circle class="mg" cx="243.5" cy="237.8" r="4.3"/><path class="eg" d="M227.2,188.4V197.2"/><circle class="mg" cx="227.2" cy="192.8" r="4.3"/><path class="eg" d="M215.2,182.1V194.5"/><circle class="mg" cx="215.2" cy="188.3" r="4.3"/><path class="eg" d="M236.9,202.6V211.4"/><circle class="mg" cx="236.9" cy="207.0" r="4.3"/><path class="eg" d="M204.2,143.4V151.4"/><circle class="mg" cx="204.2" cy="147.4" r="4.3"/><path class="eg" d="M222.7,170.8V181.0"/><circle class="mg" cx="222.7" cy="175.9" r="4.3"/><path class="eg" d="M220.4,160.7V178.0"/><circle class="mg" cx="220.4" cy="169.3" r="4.3"/><path class="eg" d="M218.3,163.7V177.5"/><circle class="mg" cx="218.3" cy="170.6" r="4.3"/><path class="eg" d="M209.0,150.4V160.7"/><circle class="mg" cx="209.0" cy="155.6" r="4.3"/><path class="eg" d="M206.4,163.9V173.0"/><circle class="mg" cx="206.4" cy="168.4" r="4.3"/><path class="eg" d="M198.9,140.9V157.6"/><circle class="mg" cx="198.9" cy="149.2" r="4.3"/><path class="eg" d="M213.4,181.0V196.5"/><circle class="mg" cx="213.4" cy="188.8" r="4.3"/><path class="eg" d="M218.7,187.4V204.6"/><circle class="mg" cx="218.7" cy="196.0" r="4.3"/><path class="eg" d="M227.6,191.7V209.5"/><circle class="mg" cx="227.6" cy="200.6" r="4.3"/><path class="eg" d="M206.5,141.5V150.9"/><circle class="mg" cx="206.5" cy="146.2" r="4.3"/><path class="eg" d="M244.8,213.8V231.5"/><circle class="mg" cx="244.8" cy="222.6" r="4.3"/><path class="eg" d="M232.2,193.7V201.8"/><circle class="mg" cx="232.2" cy="197.8" r="4.3"/><path class="eg" d="M198.1,125.1V134.1"/><circle class="mg" cx="198.1" cy="129.6" r="4.3"/><path class="eg" d="M232.7,223.2V237.2"/><circle class="mg" cx="232.7" cy="230.2" r="4.3"/><path class="eg" d="M215.4,160.5V176.1"/><circle class="mg" cx="215.4" cy="168.3" r="4.3"/><path class="eg" d="M204.3,142.6V156.7"/><circle class="mg" cx="204.3" cy="149.7" r="4.3"/><path class="eg" d="M213.9,174.7V185.4"/><circle class="mg" cx="213.9" cy="180.0" r="4.3"/><path class="eg" d="M209.2,145.6V162.1"/><circle class="mg" cx="209.2" cy="153.8" r="4.3"/><path class="eg" d="M223.8,203.6V219.4"/><circle class="mg" cx="223.8" cy="211.5" r="4.3"/><path class="eg" d="M207.0,137.9V154.3"/><circle class="mg" cx="207.0" cy="146.1" r="4.3"/><path class="eg" d="M225.8,173.1V184.2"/><circle class="mg" cx="225.8" cy="178.7" r="4.3"/><path class="eg" d="M229.9,212.7V226.0"/><circle class="mg" cx="229.9" cy="219.4" r="4.3"/><path class="eg" d="M205.3,157.4V173.5"/><circle class="mg" cx="205.3" cy="165.4" r="4.3"/><path class="eg" d="M228.0,174.3V188.0"/><circle class="mg" cx="228.0" cy="181.1" r="4.3"/><path class="eg" d="M209.8,162.8V177.0"/><circle class="mg" cx="209.8" cy="169.9" r="4.3"/><path class="eg" d="M213.7,151.2V164.1"/><circle class="mg" cx="213.7" cy="157.7" r="4.3"/><path class="eg" d="M201.5,152.6V169.2"/><circle class="mg" cx="201.5" cy="160.9" r="4.3"/><path class="eg" d="M228.2,213.9V223.6"/><circle class="mg" cx="228.2" cy="218.8" r="4.3"/><path class="eg" d="M199.4,136.0V147.5"/><circle class="mg" cx="199.4" cy="141.7" r="4.3"/><path class="eg" d="M244.3,239.8V254.1"/><circle class="mg" cx="244.3" cy="247.0" r="4.3"/><path class="eg" d="M218.3,194.4V204.8"/><circle class="mg" cx="218.3" cy="199.6" r="4.3"/><path class="eg" d="M221.3,176.1V187.2"/><circle class="mg" cx="221.3" cy="181.6" r="4.3"/><path class="eg" d="M214.8,151.5V166.0"/><circle class="mg" cx="214.8" cy="158.7" r="4.3"/><path class="eg" d="M157.5,132.9V143.5"/><circle class="mg" cx="157.5" cy="138.2" r="4.3"/><path class="eg" d="M157.0,117.8V123.9"/><circle class="mg" cx="157.0" cy="120.9" r="4.3"/><path class="eg" d="M142.7,177.5V183.6"/><circle class="mg" cx="142.7" cy="180.6" r="4.3"/><path class="eg" d="M148.0,153.4V162.4"/><circle class="mg" cx="148.0" cy="157.9" r="4.3"/><path class="eg" d="M159.0,120.1V126.4"/><circle class="mg" cx="159.0" cy="123.2" r="4.3"/><path class="eg" d="M143.4,166.5V176.3"/><circle class="mg" cx="143.4" cy="171.4" r="4.3"/><path class="eg" d="M152.9,118.6V143.3"/><circle class="mg" cx="152.9" cy="131.0" r="4.3"/><path class="eg" d="M147.7,151.1V161.6"/><circle class="mg" cx="147.7" cy="156.3" r="4.3"/><path class="eg" d="M156.8,118.9V131.7"/><circle class="mg" cx="156.8" cy="125.3" r="4.3"/><path class="eg" d="M159.6,105.1V118.7"/><circle class="mg" cx="159.6" cy="111.9" r="4.3"/><path class="eg" d="M297.6,291.2V300.5"/><circle class="mg" cx="297.6" cy="295.9" r="4.3"/><path class="eg" d="M304.3,282.2V289.8"/><circle class="mg" cx="304.3" cy="286.0" r="4.3"/><path class="eg" d="M292.6,279.7V291.4"/><circle class="mg" cx="292.6" cy="285.6" r="4.3"/><path class="eg" d="M307.4,277.8V287.2"/><circle class="mg" cx="307.4" cy="282.5" r="4.3"/><path class="eg" d="M349.3,304.1V315.3"/><circle class="mg" cx="349.3" cy="309.7" r="4.3"/><path class="eg" d="M369.0,312.1V323.8"/><circle class="mg" cx="369.0" cy="318.0" r="4.3"/><path class="eg" d="M317.8,292.0V301.7"/><circle class="mg" cx="317.8" cy="296.9" r="4.3"/><path class="eg" d="M378.7,316.1V324.4"/><circle class="mg" cx="378.7" cy="320.3" r="4.3"/><path class="eg" d="M358.8,295.9V306.1"/><circle class="mg" cx="358.8" cy="301.0" r="4.3"/><path class="eg" d="M289.7,270.7V280.5"/><circle class="mg" cx="289.7" cy="275.6" r="4.3"/><path class="eg" d="M293.7,282.1V290.7"/><circle class="mg" cx="293.7" cy="286.4" r="4.3"/><path class="eg" d="M353.7,298.3V304.9"/><circle class="mg" cx="353.7" cy="301.6" r="4.3"/><path class="eg" d="M295.0,282.0V288.9"/><circle class="mg" cx="295.0" cy="285.4" r="4.3"/><path class="eg" d="M343.6,299.3V308.2"/><circle class="mg" cx="343.6" cy="303.7" r="4.3"/><path class="eg" d="M296.4,272.9V280.5"/><circle class="mg" cx="296.4" cy="276.7" r="4.3"/><path class="eg" d="M352.3,305.7V313.6"/><circle class="mg" cx="352.3" cy="309.7" r="4.3"/><path class="eg" d="M356.3,310.7V319.9"/><circle class="mg" cx="356.3" cy="315.3" r="4.3"/><path class="eg" d="M333.9,298.5V306.1"/><circle class="mg" cx="333.9" cy="302.3" r="4.3"/><path class="eg" d="M374.1,302.0V312.3"/><circle class="mg" cx="374.1" cy="307.2" r="4.3"/><path class="eg" d="M313.6,284.1V291.7"/><circle class="mg" cx="313.6" cy="287.9" r="4.3"/><path class="eg" d="M332.7,299.9V311.3"/><circle class="mg" cx="332.7" cy="305.6" r="4.3"/><path class="eg" d="M333.7,291.1V301.6"/><circle class="mg" cx="333.7" cy="296.3" r="4.3"/><path class="eg" d="M330.4,294.4V302.6"/><circle class="mg" cx="330.4" cy="298.5" r="4.3"/><path class="eg" d="M339.1,292.4V301.0"/><circle class="mg" cx="339.1" cy="296.7" r="4.3"/><path class="eg" d="M342.4,294.9V303.0"/><circle class="mg" cx="342.4" cy="299.0" r="4.3"/><path class="eg" d="M501.7,325.6V337.1"/><circle class="mg" cx="501.7" cy="331.3" r="4.3"/><path class="eg" d="M459.7,335.5V361.5"/><circle class="mg" cx="459.7" cy="348.5" r="4.3"/><path class="eg" d="M497.2,321.9V331.2"/><circle class="mg" cx="497.2" cy="326.6" r="4.3"/><path class="eg" d="M466.4,338.5V347.6"/><circle class="mg" cx="466.4" cy="343.0" r="4.3"/><path class="eg" d="M467.9,333.6V344.9"/><circle class="mg" cx="467.9" cy="339.3" r="4.3"/><path class="eg" d="M455.9,325.3V334.7"/><circle class="mg" cx="455.9" cy="330.0" r="4.3"/><path class="eg" d="M499.3,335.1V345.5"/><circle class="mg" cx="499.3" cy="340.3" r="4.3"/><path class="eg" d="M467.2,334.0V344.3"/><circle class="mg" cx="467.2" cy="339.1" r="4.3"/><path class="eg" d="M474.9,341.2V352.4"/><circle class="mg" cx="474.9" cy="346.8" r="4.3"/><path class="eg" d="M459.0,342.1V351.5"/><circle class="mg" cx="459.0" cy="346.8" r="4.3"/><path class="eg" d="M486.9,314.0V347.4"/><circle class="mg" cx="486.9" cy="330.7" r="4.3"/><path class="eg" d="M503.5,315.9V322.4"/><circle class="mg" cx="503.5" cy="319.1" r="4.3"/><path class="eg" d="M492.8,337.2V344.1"/><circle class="mg" cx="492.8" cy="340.6" r="4.3"/><path class="eg" d="M486.0,337.2V348.3"/><circle class="mg" cx="486.0" cy="342.8" r="4.3"/><path class="eg" d="M509.1,330.7V336.8"/><circle class="mg" cx="509.1" cy="333.7" r="4.3"/>
<path d="M116.1,304.28 L117.6,297.28 L119.1,290.19 L120.6,283.05 L122.1,275.86 L123.6,268.63 L125.1,261.38 L126.6,254.12 L128.1,246.86 L129.6,239.62 L131.1,232.41 L132.6,225.24 L134.1,218.14 L135.6,211.14 L137.1,204.29 L138.6,197.63 L140.1,191.22 L141.6,185.07 L143.1,179.2 L144.6,173.59 L146.1,168.24 L147.6,163.13 L149.1,158.26 L150.6,153.62 L152.1,149.19 L153.6,144.97 L155.1,140.96 L156.6,137.14 L158.1,133.5 L159.6,130.04 L161.1,126.74 L162.6,123.6 L164.1,120.63 L165.6,117.82 L167.1,115.17 L168.6,112.68 L170.1,110.36 L171.6,108.2 L173.1,106.21 L174.6,104.38 L176.1,102.72 L177.6,101.22 L179.1,99.89 L180.6,98.73 L182.1,97.73 L183.6,96.9 L185.1,96.24 L186.6,95.75 L188.1,95.43 L189.6,95.27 L191.1,95.28 L192.6,95.46 L194.1,95.81 L195.6,96.33 L197.1,97.02 L198.6,97.87 L200.1,98.89 L201.6,100.07 L203.1,101.4 L204.6,102.88 L206.1,104.49 L207.6,106.23 L209.1,108.09 L210.6,110.07 L212.1,112.15 L213.6,114.34 L215.1,116.62 L216.6,118.99 L218.1,121.43 L219.6,123.95 L221.1,126.54 L222.6,129.18 L224.1,131.87 L225.6,134.61 L227.1,137.38 L228.6,140.18 L230.1,143 L231.6,145.84 L233.1,148.69 L234.6,151.54 L236.1,154.42 L237.6,157.3 L239.1,160.19 L240.6,163.1 L242.1,166.02 L243.6,168.96 L245.1,171.92 L246.6,174.89 L248.1,177.87 L249.6,180.88 L251.1,183.9 L252.6,186.94 L254.1,190 L255.6,193.08 L257.1,196.18 L258.6,199.31 L260.1,202.45 L261.6,205.62 L263.1,208.79 L264.6,211.95 L266.1,215.07 L267.6,218.14 L269.1,221.15 L270.6,224.07 L272.1,226.89 L273.6,229.61 L275.1,232.24 L276.6,234.78 L278.1,237.22 L279.6,239.58 L281.1,241.84 L282.6,244.02 L284.1,246.11 L285.6,248.11 L287.1,250.03 L288.6,251.87 L290.1,253.63 L291.6,255.31 L293.1,256.91 L294.6,258.43 L296.1,259.87 L297.6,261.25 L299.1,262.55 L300.6,263.77 L302.1,264.93 L303.6,266.02 L305.1,267.04 L306.6,268 L308.1,268.89 L309.6,269.72 L311.1,270.49 L312.6,271.19 L314.1,271.84 L315.6,272.43 L317.1,272.96 L318.6,273.44 L320.1,273.87 L321.6,274.24 L323.1,274.56 L324.6,274.83 L326.1,275.06 L327.6,275.24 L329.1,275.38 L330.6,275.48 L332.1,275.55 L333.6,275.58 L335.1,275.58 L336.6,275.55 L338.1,275.5 L339.6,275.42 L341.1,275.33 L342.6,275.21 L344.1,275.08 L345.6,274.94 L347.1,274.79 L348.6,274.63 L350.1,274.46 L351.6,274.3 L353.1,274.13 L354.6,273.97 L356.1,273.82 L357.6,273.67 L359.1,273.53 L360.6,273.41 L362.1,273.3 L363.6,273.22 L365.1,273.15 L366.6,273.11 L368.1,273.1 L369.6,273.11 L371.1,273.16 L372.6,273.24 L374.1,273.36 L375.6,273.51 L377.1,273.7 L378.6,273.91 L380.1,274.16 L381.6,274.44 L383.1,274.75 L384.6,275.08 L386.1,275.45 L387.6,275.84 L389.1,276.25 L390.6,276.7 L392.1,277.16 L393.6,277.65 L395.1,278.16 L396.6,278.7 L398.1,279.25 L399.6,279.82 L401.1,280.42 L402.6,281.03 L404.1,281.66 L405.6,282.3 L407.1,282.96 L408.6,283.64 L410.1,284.32 L411.6,285.02 L413.1,285.74 L414.6,286.46 L416.1,287.2 L417.6,287.94 L419.1,288.69 L420.6,289.45 L422.1,290.22 L423.6,290.99 L425.1,291.76 L426.6,292.55 L428.1,293.33 L429.6,294.12 L431.1,294.9 L432.6,295.69 L434.1,296.48 L435.6,297.27 L437.1,298.05 L438.6,298.83 L440.1,299.61 L441.6,300.38 L443.1,301.15 L444.6,301.91 L446.1,302.66 L447.6,303.41 L449.1,304.14 L450.6,304.87 L452.1,305.58 L453.6,306.28 L455.1,306.97 L456.6,307.65 L458.1,308.31 L459.6,308.95 L461.1,309.58 L462.6,310.19 L464.1,310.78 L465.6,311.35 L467.1,311.91 L468.6,312.44 L470.1,312.95 L471.6,313.43 L473.1,313.9 L474.6,314.34 L476.1,314.75 L477.6,315.14 L479.1,315.5 L480.6,315.83 L482.1,316.13 L483.6,316.4 L485.1,316.64 L486.6,316.85 L488.1,317.03 L489.6,317.18 L491.1,317.28 L492.6,317.36 L494.1,317.4 L495.6,317.4 L497.1,317.36 L498.6,317.28 L500.1,317.17 L501.6,317.03 L503.1,316.85 L504.6,316.65 L506.1,316.41 L507.6,316.14 L509.1,315.85 L510.6,315.53 L512.1,315.19 L513.6,314.82 L515.1,314.44 L516.6,314.03 L518.1,313.61 L519.6,313.17 L521.1,312.71 L522.6,312.25 L524.1,311.77 L525.6,311.27 L527.1,310.77 L528.6,310.26 L530.1,309.75 L531.6,309.23 L533.1,308.71 L534.6,308.18 L536.1,307.66 L537.6,307.13 L539.1,306.61 L540.6,306.09 L542.1,305.58 L543.6,305.07 L545.1,304.57 L546.6,304.09 L548.1,303.61 L549.6,303.15 L551.1,302.7 L552.6,302.26 L554.1,301.84 L555.6,301.45 L557.1,301.07 L558.6,300.71 L560.1,300.37 L561.6,300.06 L563.1,299.78 L564.6,299.52 L566.1,299.29 L567.6,299.1 L569.1,298.93 L570.6,298.8 L572.1,298.7 L573.6,298.64 L575.1,298.61 L576.6,298.62 L578.1,298.68 L579.6,298.77 L581.1,298.9 L582.6,299.08 L584.1,299.3 L585.6,299.57 L587.1,299.89 L588.6,300.25 L590.1,300.66 L591.6,301.12 L593.1,301.64 L594.6,302.2 L596.1,302.82 L597.6,303.5 L599.1,304.23 L600.6,305.02 L602.1,305.87 L603.6,306.77 L605.1,307.74 L606.6,308.77 L608.1,309.87 L609.6,311.03 L611.1,312.25 L612.6,313.54 L614.1,314.9 L615.6,316.33 L617.1,317.83 L618.6,319.4 L620.1,321.03 L621.6,322.72 L623.1,324.48 L624.6,326.31 L626.1,328.19 L627.6,330.13 L629.1,332.13 L630.6,334.18 L632.1,336.29 L633.6,338.46 L635.1,340.68 L636.6,342.94 L638.1,345.26 L639.6,347.62 L641.1,350.04 L642.6,352.49 L644.1,354.99 L645.6,357.54 L647.1,360.12 L648.6,362.75 L650.1,365.41 L651.6,368.11 L653.1,370.85 L654.6,373.62 L656.1,376.42 L657.6,379.26 L659.1,382.12 L660.6,385.02 L662.1,387.94 L663.6,390.89 L665.1,393.86 L666.6,396.85 L668.1,399.87 L669.6,402.91 L671.1,405.97 L672.6,409.04 L674.1,412.14 L675.6,415.24 L677.1,418.36 L678.6,421.5 L680.1,424.64 L681.6,427.79 L683.1,430.96 L684.6,434.13 L686.1,437.3 L687.6,440.48 L689.1,443.67 L690.6,446.86 L692.1,450.05 L693.6,453.25 L695.1,456.45 L696.6,459.66 L698.1,462.87 L699.6,466.09 L701.1,469.31 L702.6,472.53 L704.1,475.75 L705.6,478.98 L707.1,482.21 L708.6,485.44 L710.1,488.67 L711.6,491.9 L713.1,495.13 L714.6,498.37 L716.1,501.6 L717.6,504.84 L719.1,508.08 L720.6,511.31 L722.1,514.55 L723.6,517.78 L725.1,521.02 L726.6,524.25 L728.1,527.48 L729.6,530.71 L731.1,533.94 L732.6,537.16 L734.1,540.38 L735.6,543.6 L737.1,546.82 L738.6,550.03 L740.1,553.24 L741.6,556.45 L743.1,559.65 L744.6,562.85 L746.1,566.04 L747.6,569.23 L749.1,572.42 L750.6,575.59 L752.1,578.77 L753.6,581.93 L755.1,585.09 L756.6,588.25 L758.1,591.39 L759.6,594.54 L761.1,597.67 L762.6,600.79 L764.1,603.91 L765.6,607.02 L767.1,610.13 L768.6,613.22 L770.1,616.32 L771.6,619.42 L773.1,622.52 L774.6,625.63 L776.1,628.76 L777.6,631.9 L779.1,635.07 L780.6,638.26 L782.1,641.47 L783.6,644.72 L785.1,648 L786.6,651.33 L788.1,654.69 L789.6,658.1 L791.1,661.57 L792.6,665.08 L794.1,668.65 L795.6,672.29 L797.1,675.99 L798.6,679.76 L800,683.34" fill="none" stroke="#008000" stroke-width="3.7" stroke-linejoin="round"/>
</g>
<g clip-path="url(#c2)">
<path d="M1196.7,180.82 L1198.2,179.41 L1199.7,177.8 L1201.2,176 L1202.7,174.02 L1204.2,171.87 L1205.7,169.55 L1207.2,167.08 L1208.7,164.48 L1210.2,161.73 L1211.7,158.87 L1213.2,155.89 L1214.7,152.81 L1216.2,149.64 L1217.7,146.39 L1219.2,143.06 L1220.7,139.67 L1222.2,136.23 L1223.7,132.74 L1225.2,129.22 L1226.7,125.68 L1228.2,122.13 L1229.7,118.58 L1231.2,115.04 L1232.7,111.53 L1234.2,108.06 L1235.7,104.64 L1237.2,101.28 L1238.7,97.99 L1240.2,94.79 L1241.7,91.69 L1243.2,88.7 L1244.7,85.84 L1246.2,83.11 L1247.7,80.53 L1249.2,78.11 L1250.7,75.86 L1252.2,73.79 L1253.7,71.92 L1255.2,70.26 L1256.7,68.82 L1258.2,67.59 L1259.7,66.56 L1261.2,65.72 L1262.7,65.08 L1264.2,64.61 L1265.7,64.32 L1267.2,64.2 L1268.7,64.23 L1270.2,64.41 L1271.7,64.74 L1273.2,65.21 L1274.7,65.8 L1276.2,66.51 L1277.7,67.33 L1279.2,68.26 L1280.7,69.29 L1282.2,70.41 L1283.7,71.62 L1285.2,72.9 L1286.7,74.24 L1288.2,75.65 L1289.7,77.11 L1291.2,78.62 L1292.7,80.17 L1294.2,81.76 L1295.7,83.37 L1297.2,85.01 L1298.7,86.68 L1300.2,88.35 L1301.7,90.03 L1303.2,91.72 L1304.7,93.41 L1306.2,95.08 L1307.7,96.75 L1309.2,98.39 L1310.7,100.02 L1312.2,101.61 L1313.7,103.17 L1315.2,104.69 L1316.7,106.16 L1318.2,107.58 L1319.7,108.95 L1321.2,110.25 L1322.7,111.49 L1324.2,112.65 L1325.7,113.74 L1327.2,114.74 L1328.7,115.66 L1330.2,116.48 L1331.7,117.2 L1333.2,117.81 L1334.7,118.33 L1336.2,118.74 L1337.7,119.07 L1339.2,119.31 L1340.7,119.47 L1342.2,119.55 L1343.7,119.57 L1345.2,119.53 L1346.7,119.43 L1348.2,119.28 L1349.7,119.08 L1351.2,118.85 L1352.7,118.58 L1354.2,118.29 L1355.7,117.98 L1357.2,117.65 L1358.7,117.31 L1360.2,116.97 L1361.7,116.63 L1363.2,116.3 L1364.7,115.99 L1366.2,115.69 L1367.7,115.42 L1369.2,115.18 L1370.7,114.98 L1372.2,114.81 L1373.7,114.67 L1375.2,114.56 L1376.7,114.49 L1378.2,114.45 L1379.7,114.43 L1381.2,114.45 L1382.7,114.49 L1384.2,114.57 L1385.7,114.67 L1387.2,114.79 L1388.7,114.94 L1390.2,115.12 L1391.7,115.32 L1393.2,115.55 L1394.7,115.8 L1396.2,116.07 L1397.7,116.36 L1399.2,116.68 L1400.7,117.01 L1402.2,117.36 L1403.7,117.74 L1405.2,118.13 L1406.7,118.54 L1408.2,118.96 L1409.7,119.4 L1411.2,119.86 L1412.7,120.33 L1414.2,120.82 L1415.7,121.32 L1417.2,121.83 L1418.7,122.35 L1420.2,122.89 L1421.7,123.43 L1423.2,123.99 L1424.7,124.55 L1426.2,125.11 L1427.7,125.69 L1429.2,126.26 L1430.7,126.84 L1432.2,127.41 L1433.7,127.99 L1435.2,128.57 L1436.7,129.14 L1438.2,129.7 L1439.7,130.26 L1441.2,130.81 L1442.7,131.36 L1444.2,131.89 L1445.7,132.41 L1447.2,132.91 L1448.7,133.41 L1450.2,133.88 L1451.7,134.34 L1453.2,134.78 L1454.7,135.2 L1456.2,135.6 L1457.7,135.98 L1459.2,136.33 L1460.7,136.66 L1462.2,136.96 L1463.7,137.23 L1465.2,137.47 L1466.7,137.68 L1468.2,137.86 L1469.7,138 L1471.2,138.11 L1472.7,138.19 L1474.2,138.22 L1475.7,138.22 L1477.2,138.17 L1478.7,138.09 L1480.2,137.96 L1481.7,137.78 L1483.2,137.56 L1484.7,137.3 L1486.2,136.99 L1487.7,136.64 L1489.2,136.26 L1490.7,135.84 L1492.2,135.38 L1493.7,134.89 L1495.2,134.37 L1496.7,133.83 L1498.2,133.25 L1499.7,132.65 L1501.2,132.03 L1502.7,131.39 L1504.2,130.73 L1505.7,130.06 L1507.2,129.37 L1508.7,128.66 L1510.2,127.95 L1511.7,127.22 L1513.2,126.49 L1514.7,125.76 L1516.2,125.02 L1517.7,124.28 L1519.2,123.54 L1520.7,122.81 L1522.2,122.08 L1523.7,121.36 L1525.2,120.64 L1526.7,119.94 L1528.2,119.25 L1529.7,118.57 L1531.2,117.91 L1532.7,117.27 L1534.2,116.65 L1535.7,116.05 L1537.2,115.48 L1538.7,114.94 L1540.2,114.42 L1541.7,113.93 L1543.2,113.48 L1544.7,113.05 L1546.2,112.67 L1547.7,112.32 L1549.2,112.02 L1550.7,111.75 L1552.2,111.51 L1553.7,111.31 L1555.2,111.14 L1556.7,110.99 L1558.2,110.88 L1559.7,110.79 L1561.2,110.73 L1562.7,110.69 L1564.2,110.67 L1565.7,110.67 L1567.2,110.68 L1568.7,110.72 L1570.2,110.76 L1571.7,110.82 L1573.2,110.89 L1574.7,110.96 L1576.2,111.04 L1577.7,111.13 L1579.2,111.22 L1580.7,111.31 L1582.2,111.41 L1583.7,111.49 L1585.2,111.58 L1586.7,111.66 L1588.2,111.73 L1589.7,111.79 L1591.2,111.84 L1592.7,111.88 L1594.2,111.91 L1595.7,111.91 L1597.2,111.9 L1598.7,111.87 L1600.2,111.82 L1601.7,111.75 L1603.2,111.64 L1604.7,111.52 L1606.2,111.36 L1607.7,111.18 L1609.2,110.97 L1610.7,110.74 L1612.2,110.5 L1613.7,110.23 L1615.2,109.96 L1616.7,109.67 L1618.2,109.38 L1619.7,109.09 L1621.2,108.79 L1622.7,108.49 L1624.2,108.2 L1625.7,107.91 L1627.2,107.63 L1628.7,107.37 L1630.2,107.12 L1631.7,106.88 L1633.2,106.67 L1634.7,106.48 L1636.2,106.32 L1637.7,106.17 L1639.2,106.06 L1640.7,105.96 L1642.2,105.89 L1643.7,105.83 L1645.2,105.8 L1646.7,105.79 L1648.2,105.8 L1649.7,105.83 L1651.2,105.87 L1652.7,105.94 L1654.2,106.02 L1655.7,106.12 L1657.2,106.23 L1658.7,106.36 L1660.2,106.51 L1661.7,106.67 L1663.2,106.84 L1664.7,107.03 L1666.2,107.23 L1667.7,107.45 L1669.2,107.67 L1670.7,107.91 L1672.2,108.16 L1673.7,108.42 L1675.2,108.69 L1676.7,108.96 L1678.2,109.25 L1679.7,109.54 L1681.2,109.85 L1682.7,110.16 L1684.2,110.47 L1685.7,110.79 L1687.2,111.12 L1688.7,111.45 L1690.2,111.79 L1691.7,112.13 L1693.2,112.47 L1694.7,112.81 L1696.2,113.16 L1697.7,113.51 L1699.2,113.86 L1700.7,114.21 L1702.2,114.56 L1703.7,114.9 L1705.2,115.25 L1706.7,115.6 L1708.2,115.94 L1709.7,116.28 L1711.2,116.62 L1712.7,116.95 L1714.2,117.28 L1715.7,117.61 L1717.2,117.93 L1718.7,118.25 L1720.2,118.56 L1721.7,118.87 L1723.2,119.18 L1724.7,119.47 L1726.2,119.77 L1727.7,120.05 L1729.2,120.33 L1730.7,120.61 L1732.2,120.88 L1733.7,121.14 L1735.2,121.39 L1736.7,121.63 L1738.2,121.87 L1739.7,122.1 L1741.2,122.32 L1742.7,122.53 L1744.2,122.73 L1745.7,122.93 L1747.2,123.11 L1748.7,123.28 L1750.2,123.45 L1751.7,123.6 L1753.2,123.74 L1754.7,123.87 L1756.2,123.99 L1757.7,124.1 L1759.2,124.2 L1760.7,124.28 L1762.2,124.36 L1763.7,124.42 L1765.2,124.46 L1766.7,124.5 L1768.2,124.52 L1769.7,124.52 L1771.2,124.52 L1772.7,124.5 L1774.2,124.47 L1775.7,124.43 L1777.2,124.39 L1778.7,124.34 L1780.2,124.29 L1781.7,124.23 L1783.2,124.18 L1784.7,124.13 L1786.2,124.08 L1787.7,124.03 L1789.2,123.99 L1790.7,123.95 L1792.2,123.93 L1793.7,123.92 L1795.2,123.91 L1796.7,123.93 L1798.2,123.95 L1799.7,124 L1801.2,124.06 L1802.7,124.14 L1804.2,124.25 L1805.7,124.38 L1807.2,124.53 L1808.7,124.71 L1810.2,124.92 L1811.7,125.15 L1813.2,125.42 L1814.7,125.72 L1816.2,126.06 L1817.7,126.43 L1819.2,126.84 L1820.7,127.28 L1822.2,127.77 L1823.7,128.3 L1825.2,128.88 L1826.7,129.5 L1828.2,130.17 L1829.7,130.88 L1831.2,131.65 L1832.7,132.47 L1834.2,133.34 L1835.7,134.26 L1837.2,135.25 L1838.7,136.29 L1840.2,137.39 L1841.7,138.55 L1843.2,139.77 L1844.7,141.06 L1846.2,142.4 L1847.7,143.8 L1849.2,145.26 L1850.7,146.77 L1852.2,148.33 L1853.7,149.94 L1855.2,151.6 L1856.7,153.31 L1858.2,155.07 L1859.7,156.86 L1861.2,158.7 L1862.7,160.59 L1864.2,162.5 L1865.7,164.46 L1867.2,166.45 L1868.7,168.48 L1870.2,170.53 L1871.7,172.62 L1873.2,174.74 L1874.7,176.88 L1876.2,179.05 L1877.7,181.24 L1879.2,183.46 L1880.7,185.69 L1882.2,187.95 L1883.7,190.22 L1885.2,192.5 L1886.7,194.8 L1888.2,197.11 L1889.7,199.44 L1891.2,201.78 L1892.7,204.13 L1894.2,206.49 L1895.7,208.87 L1897.2,211.25 L1898.7,213.64 L1900.2,216.05 L1901.7,218.46 L1903.2,220.89 L1904.7,223.32 L1906.2,225.76 L1907.7,228.21 L1909.2,230.66 L1910.7,233.12 L1912.2,235.59 L1913.7,238.07 L1915.2,240.55 L1916.7,243.03 L1918.2,245.52 L1919.7,248.02 L1921.2,250.51 L1922.7,253.02 L1924.2,255.52 L1925.7,258.03 L1927.2,260.54 L1928.7,263.05 L1930.2,265.56 L1931.7,268.06 L1933.2,270.56 L1934.7,273.05 L1936.2,275.52 L1937.7,277.97 L1939.2,280.4 L1940.7,282.8 L1942.2,285.16 L1943.7,287.49 L1945.2,289.77 L1946.7,292.01 L1948.2,294.2 L1949.7,296.34 L1951.2,298.42 L1952.7,300.43 L1954.2,302.38 L1955.7,304.26 L1957.2,306.06 L1958.7,307.79 L1960.2,309.43 L1961.7,310.98 L1963.2,312.45 L1964.7,313.81 L1966.2,315.08 L1967.7,316.24 L1969.2,317.3 L1970.7,318.24 L1972.2,319.06 L1973.7,319.76 L1975.2,320.34 L1976.7,320.79 L1978.2,321.11 L1979.7,321.29 L1981.2,321.32 L1982.7,321.21 L1984.2,320.95 L1985.7,320.54 L1987.2,319.96 L1988.7,319.23 L1990.2,318.32 L1991.7,317.25 L1993.2,316 L1994.7,314.57 L1996.2,312.96 L1997.7,311.16 L1998.5,310.12 L1998.5,506.34 L1997.7,505.04 L1996.2,502.76 L1994.7,500.69 L1993.2,498.8 L1991.7,497.08 L1990.2,495.5 L1988.7,494.05 L1987.2,492.7 L1985.7,491.45 L1984.2,490.25 L1982.7,489.11 L1981.2,487.99 L1979.7,486.89 L1978.2,485.77 L1976.7,484.62 L1975.2,483.42 L1973.7,482.15 L1972.2,480.79 L1970.7,479.32 L1969.2,477.72 L1967.7,475.98 L1966.2,474.07 L1964.7,471.99 L1963.2,469.75 L1961.7,467.37 L1960.2,464.85 L1958.7,462.22 L1957.2,459.48 L1955.7,456.65 L1954.2,453.73 L1952.7,450.74 L1951.2,447.69 L1949.7,444.59 L1948.2,441.46 L1946.7,438.31 L1945.2,435.14 L1943.7,431.98 L1942.2,428.83 L1940.7,425.71 L1939.2,422.63 L1937.7,419.59 L1936.2,416.59 L1934.7,413.64 L1933.2,410.73 L1931.7,407.86 L1930.2,405.04 L1928.7,402.26 L1927.2,399.53 L1925.7,396.83 L1924.2,394.18 L1922.7,391.58 L1921.2,389.02 L1919.7,386.5 L1918.2,384.02 L1916.7,381.58 L1915.2,379.19 L1913.7,376.84 L1912.2,374.54 L1910.7,372.27 L1909.2,370.05 L1907.7,367.87 L1906.2,365.74 L1904.7,363.64 L1903.2,361.59 L1901.7,359.58 L1900.2,357.61 L1898.7,355.68 L1897.2,353.79 L1895.7,351.95 L1894.2,350.14 L1892.7,348.38 L1891.2,346.65 L1889.7,344.96 L1888.2,343.3 L1886.7,341.68 L1885.2,340.09 L1883.7,338.54 L1882.2,337.02 L1880.7,335.53 L1879.2,334.07 L1877.7,332.64 L1876.2,331.23 L1874.7,329.86 L1873.2,328.51 L1871.7,327.19 L1870.2,325.9 L1868.7,324.63 L1867.2,323.38 L1865.7,322.16 L1864.2,320.95 L1862.7,319.77 L1861.2,318.61 L1859.7,317.46 L1858.2,316.34 L1856.7,315.23 L1855.2,314.13 L1853.7,313.05 L1852.2,311.99 L1850.7,310.94 L1849.2,309.9 L1847.7,308.88 L1846.2,307.86 L1844.7,306.85 L1843.2,305.86 L1841.7,304.87 L1840.2,303.89 L1838.7,302.91 L1837.2,301.94 L1835.7,300.98 L1834.2,300.01 L1832.7,299.05 L1831.2,298.1 L1829.7,297.15 L1828.2,296.2 L1826.7,295.25 L1825.2,294.32 L1823.7,293.39 L1822.2,292.46 L1820.7,291.54 L1819.2,290.63 L1817.7,289.73 L1816.2,288.84 L1814.7,287.96 L1813.2,287.08 L1811.7,286.22 L1810.2,285.37 L1808.7,284.53 L1807.2,283.71 L1805.7,282.9 L1804.2,282.1 L1802.7,281.31 L1801.2,280.54 L1799.7,279.79 L1798.2,279.05 L1796.7,278.33 L1795.2,277.63 L1793.7,276.94 L1792.2,276.27 L1790.7,275.63 L1789.2,275 L1787.7,274.39 L1786.2,273.8 L1784.7,273.23 L1783.2,272.69 L1781.7,272.17 L1780.2,271.67 L1778.7,271.19 L1777.2,270.74 L1775.7,270.32 L1774.2,269.91 L1772.7,269.54 L1771.2,269.19 L1769.7,268.87 L1768.2,268.58 L1766.7,268.31 L1765.2,268.08 L1763.7,267.87 L1762.2,267.7 L1760.7,267.55 L1759.2,267.44 L1757.7,267.36 L1756.2,267.3 L1754.7,267.26 L1753.2,267.23 L1751.7,267.22 L1750.2,267.22 L1748.7,267.22 L1747.2,267.22 L1745.7,267.21 L1744.2,267.19 L1742.7,267.16 L1741.2,267.1 L1739.7,267.03 L1738.2,266.93 L1736.7,266.79 L1735.2,266.62 L1733.7,266.41 L1732.2,266.16 L1730.7,265.87 L1729.2,265.55 L1727.7,265.19 L1726.2,264.81 L1724.7,264.39 L1723.2,263.95 L1721.7,263.48 L1720.2,262.99 L1718.7,262.47 L1717.2,261.93 L1715.7,261.38 L1714.2,260.8 L1712.7,260.21 L1711.2,259.61 L1709.7,259 L1708.2,258.37 L1706.7,257.74 L1705.2,257.1 L1703.7,256.45 L1702.2,255.8 L1700.7,255.15 L1699.2,254.5 L1697.7,253.86 L1696.2,253.21 L1694.7,252.58 L1693.2,251.94 L1691.7,251.32 L1690.2,250.71 L1688.7,250.11 L1687.2,249.53 L1685.7,248.96 L1684.2,248.41 L1682.7,247.88 L1681.2,247.37 L1679.7,246.88 L1678.2,246.42 L1676.7,245.99 L1675.2,245.58 L1673.7,245.2 L1672.2,244.85 L1670.7,244.52 L1669.2,244.21 L1667.7,243.93 L1666.2,243.67 L1664.7,243.43 L1663.2,243.21 L1661.7,243.02 L1660.2,242.84 L1658.7,242.69 L1657.2,242.55 L1655.7,242.43 L1654.2,242.32 L1652.7,242.24 L1651.2,242.16 L1649.7,242.11 L1648.2,242.06 L1646.7,242.03 L1645.2,242.02 L1643.7,242.01 L1642.2,242.01 L1640.7,242.03 L1639.2,242.05 L1637.7,242.09 L1636.2,242.13 L1634.7,242.18 L1633.2,242.23 L1631.7,242.29 L1630.2,242.36 L1628.7,242.43 L1627.2,242.5 L1625.7,242.58 L1624.2,242.66 L1622.7,242.74 L1621.2,242.82 L1619.7,242.9 L1618.2,242.98 L1616.7,243.06 L1615.2,243.13 L1613.7,243.21 L1612.2,243.28 L1610.7,243.34 L1609.2,243.4 L1607.7,243.45 L1606.2,243.5 L1604.7,243.54 L1603.2,243.57 L1601.7,243.59 L1600.2,243.6 L1598.7,243.6 L1597.2,243.59 L1595.7,243.57 L1594.2,243.54 L1592.7,243.49 L1591.2,243.43 L1589.7,243.35 L1588.2,243.26 L1586.7,243.15 L1585.2,243.03 L1583.7,242.9 L1582.2,242.75 L1580.7,242.59 L1579.2,242.42 L1577.7,242.23 L1576.2,242.04 L1574.7,241.83 L1573.2,241.62 L1571.7,241.39 L1570.2,241.16 L1568.7,240.91 L1567.2,240.66 L1565.7,240.4 L1564.2,240.13 L1562.7,239.86 L1561.2,239.58 L1559.7,239.3 L1558.2,239.01 L1556.7,238.71 L1555.2,238.41 L1553.7,238.11 L1552.2,237.8 L1550.7,237.49 L1549.2,237.18 L1547.7,236.86 L1546.2,236.55 L1544.7,236.23 L1543.2,235.92 L1541.7,235.6 L1540.2,235.28 L1538.7,234.97 L1537.2,234.66 L1535.7,234.35 L1534.2,234.04 L1532.7,233.73 L1531.2,233.43 L1529.7,233.13 L1528.2,232.84 L1526.7,232.55 L1525.2,232.27 L1523.7,231.99 L1522.2,231.72 L1520.7,231.46 L1519.2,231.2 L1517.7,230.95 L1516.2,230.71 L1514.7,230.48 L1513.2,230.26 L1511.7,230.05 L1510.2,229.85 L1508.7,229.66 L1507.2,229.48 L1505.7,229.31 L1504.2,229.16 L1502.7,229.02 L1501.2,228.89 L1499.7,228.77 L1498.2,228.67 L1496.7,228.59 L1495.2,228.52 L1493.7,228.46 L1492.2,228.42 L1490.7,228.39 L1489.2,228.37 L1487.7,228.35 L1486.2,228.35 L1484.7,228.35 L1483.2,228.35 L1481.7,228.36 L1480.2,228.37 L1478.7,228.37 L1477.2,228.38 L1475.7,228.38 L1474.2,228.38 L1472.7,228.37 L1471.2,228.35 L1469.7,228.32 L1468.2,228.28 L1466.7,228.23 L1465.2,228.17 L1463.7,228.09 L1462.2,227.99 L1460.7,227.87 L1459.2,227.74 L1457.7,227.58 L1456.2,227.4 L1454.7,227.2 L1453.2,226.97 L1451.7,226.71 L1450.2,226.43 L1448.7,226.11 L1447.2,225.76 L1445.7,225.38 L1444.2,224.97 L1442.7,224.51 L1441.2,224.02 L1439.7,223.5 L1438.2,222.93 L1436.7,222.33 L1435.2,221.7 L1433.7,221.03 L1432.2,220.35 L1430.7,219.64 L1429.2,218.91 L1427.7,218.16 L1426.2,217.39 L1424.7,216.62 L1423.2,215.83 L1421.7,215.04 L1420.2,214.25 L1418.7,213.45 L1417.2,212.66 L1415.7,211.87 L1414.2,211.09 L1412.7,210.32 L1411.2,209.56 L1409.7,208.82 L1408.2,208.09 L1406.7,207.39 L1405.2,206.72 L1403.7,206.07 L1402.2,205.45 L1400.7,204.86 L1399.2,204.31 L1397.7,203.8 L1396.2,203.33 L1394.7,202.91 L1393.2,202.53 L1391.7,202.2 L1390.2,201.92 L1388.7,201.7 L1387.2,201.54 L1385.7,201.44 L1384.2,201.4 L1382.7,201.43 L1381.2,201.52 L1379.7,201.68 L1378.2,201.9 L1376.7,202.16 L1375.2,202.46 L1373.7,202.81 L1372.2,203.18 L1370.7,203.57 L1369.2,203.99 L1367.7,204.41 L1366.2,204.84 L1364.7,205.27 L1363.2,205.69 L1361.7,206.09 L1360.2,206.48 L1358.7,206.83 L1357.2,207.15 L1355.7,207.44 L1354.2,207.67 L1352.7,207.86 L1351.2,207.98 L1349.7,208.04 L1348.2,208.03 L1346.7,207.94 L1345.2,207.77 L1343.7,207.5 L1342.2,207.14 L1340.7,206.67 L1339.2,206.09 L1337.7,205.4 L1336.2,204.59 L1334.7,203.64 L1333.2,202.56 L1331.7,201.34 L1330.2,199.98 L1328.7,198.49 L1327.2,196.88 L1325.7,195.17 L1324.2,193.36 L1322.7,191.48 L1321.2,189.53 L1319.7,187.52 L1318.2,185.48 L1316.7,183.4 L1315.2,181.3 L1313.7,179.17 L1312.2,177 L1310.7,174.81 L1309.2,172.59 L1307.7,170.33 L1306.2,168.03 L1304.7,165.7 L1303.2,163.33 L1301.7,160.91 L1300.2,158.45 L1298.7,155.95 L1297.2,153.4 L1295.7,150.81 L1294.2,148.16 L1292.7,145.46 L1291.2,142.71 L1289.7,139.9 L1288.2,137.04 L1286.7,134.15 L1285.2,131.23 L1283.7,128.3 L1282.2,125.39 L1280.7,122.5 L1279.2,119.65 L1277.7,116.85 L1276.2,114.12 L1274.7,111.49 L1273.2,108.95 L1271.7,106.53 L1270.2,104.24 L1268.7,102.11 L1267.2,100.13 L1265.7,98.34 L1264.2,96.74 L1262.7,95.35 L1261.2,94.19 L1259.7,93.27 L1258.2,92.61 L1256.7,92.22 L1255.2,92.12 L1253.7,92.32 L1252.2,92.84 L1250.7,93.7 L1249.2,94.91 L1247.7,96.48 L1246.2,98.44 L1244.7,100.79 L1243.2,103.55 L1241.7,106.71 L1240.2,110.18 L1238.7,113.88 L1237.2,117.7 L1235.7,121.61 L1234.2,125.64 L1232.7,129.78 L1231.2,134.07 L1229.7,138.51 L1228.2,143.12 L1226.7,147.91 L1225.2,152.91 L1223.7,158.13 L1222.2,163.58 L1220.7,169.28 L1219.2,175.24 L1217.7,181.48 L1216.2,187.99 L1214.7,194.78 L1213.2,201.84 L1211.7,209.18 L1210.2,216.79 L1208.7,224.68 L1207.2,232.85 L1205.7,241.29 L1204.2,250.01 L1202.7,259.02 L1201.2,268.3 L1199.7,277.87 L1198.2,287.71 L1196.7,297.84 Z" fill="#ff0000" fill-opacity="0.5"/>
<path class="er" d="M1237.5,42.0V120.0"/><circle class="mr" cx="1237.5" cy="81.0" r="4.3"/><path class="er" d="M1252.7,46.0V104.0"/><circle class="mr" cx="1252.7" cy="75.0" r="4.3"/><path class="er" d="M1260.4,35.0V105.0"/><circle class="mr" cx="1260.4" cy="70.0" r="4.3"/><path class="er" d="M1264.0,51.0V93.0"/><circle class="mr" cx="1264.0" cy="72.0" r="4.3"/><path class="er" d="M1274.9,28.0V96.0"/><circle class="mr" cx="1274.9" cy="62.0" r="4.3"/><path class="er" d="M1248.5,56.0V88.0"/><circle class="mr" cx="1248.5" cy="72.0" r="4.3"/><path class="er" d="M1236.0,59.0V75.0"/><circle class="mr" cx="1236.0" cy="67.0" r="4.3"/><path class="er" d="M1236.0,73.0V89.0"/><circle class="mr" cx="1236.0" cy="81.0" r="4.3"/><path class="er" d="M1240.0,51.0V71.0"/><circle class="mr" cx="1240.0" cy="61.0" r="4.3"/><path class="er" d="M1244.0,54.0V74.0"/><circle class="mr" cx="1244.0" cy="64.0" r="4.3"/><path class="er" d="M1246.0,60.0V80.0"/><circle class="mr" cx="1246.0" cy="70.0" r="4.3"/><path class="er" d="M1250.0,55.0V71.0"/><circle class="mr" cx="1250.0" cy="63.0" r="4.3"/><path class="er" d="M1250.0,70.0V86.0"/><circle class="mr" cx="1250.0" cy="78.0" r="4.3"/><path class="er" d="M1254.0,52.0V68.0"/><circle class="mr" cx="1254.0" cy="60.0" r="4.3"/><path class="er" d="M1256.0,58.0V78.0"/><circle class="mr" cx="1256.0" cy="68.0" r="4.3"/><path class="er" d="M1258.0,54.0V70.0"/><circle class="mr" cx="1258.0" cy="62.0" r="4.3"/><path class="er" d="M1262.0,52.0V68.0"/><circle class="mr" cx="1262.0" cy="60.0" r="4.3"/><path class="er" d="M1265.0,56.0V72.0"/><circle class="mr" cx="1265.0" cy="64.0" r="4.3"/><path class="er" d="M1268.0,52.0V68.0"/><circle class="mr" cx="1268.0" cy="60.0" r="4.3"/><path class="er" d="M1270.0,60.0V76.0"/><circle class="mr" cx="1270.0" cy="68.0" r="4.3"/><path class="er" d="M1272.0,67.0V83.0"/><circle class="mr" cx="1272.0" cy="75.0" r="4.3"/><path class="er" d="M1276.0,62.0V82.0"/><circle class="mr" cx="1276.0" cy="72.0" r="4.3"/><path class="er" d="M1279.0,60.0V76.0"/><circle class="mr" cx="1279.0" cy="68.0" r="4.3"/><path class="er" d="M1282.0,72.0V88.0"/><circle class="mr" cx="1282.0" cy="80.0" r="4.3"/><path class="er" d="M1262.0,72.0V88.0"/><circle class="mr" cx="1262.0" cy="80.0" r="4.3"/><path class="er" d="M1258.0,82.0V98.0"/><circle class="mr" cx="1258.0" cy="90.0" r="4.3"/><path class="er" d="M1266.0,78.0V94.0"/><circle class="mr" cx="1266.0" cy="86.0" r="4.3"/><path class="er" d="M1272.0,82.0V98.0"/><circle class="mr" cx="1272.0" cy="90.0" r="4.3"/><path class="er" d="M1244.0,76.0V92.0"/><circle class="mr" cx="1244.0" cy="84.0" r="4.3"/><path class="er" d="M1240.0,82.0V102.0"/><circle class="mr" cx="1240.0" cy="92.0" r="4.3"/><path class="er" d="M1232.0,91.0V103.0"/><circle class="mr" cx="1232.0" cy="97.0" r="4.3"/><path class="er" d="M1228.0,97.0V109.0"/><circle class="mr" cx="1228.0" cy="103.0" r="4.3"/><path class="er" d="M1226.0,104.0V116.0"/><circle class="mr" cx="1226.0" cy="110.0" r="4.3"/><path class="er" d="M1222.0,113.0V123.0"/><circle class="mr" cx="1222.0" cy="118.0" r="4.3"/><path class="er" d="M1270.0,92.0V108.0"/><circle class="mr" cx="1270.0" cy="100.0" r="4.3"/><path class="er" d="M1275.0,96.0V112.0"/><circle class="mr" cx="1275.0" cy="104.0" r="4.3"/><path class="er" d="M1262.0,90.0V106.0"/><circle class="mr" cx="1262.0" cy="98.0" r="4.3"/><path class="er" d="M1280.0,82.0V98.0"/><circle class="mr" cx="1280.0" cy="90.0" r="4.3"/><path class="er" d="M1242.0,62.0V86.0"/><circle class="mr" cx="1242.0" cy="74.0" r="4.3"/><path class="er" d="M1254.0,74.0V94.0"/><circle class="mr" cx="1254.0" cy="84.0" r="4.3"/><path class="er" d="M1266.0,64.0V88.0"/><circle class="mr" cx="1266.0" cy="76.0" r="4.3"/><path class="er" d="M1223.5,114.6V122.6"/><circle class="mr" cx="1223.5" cy="118.6" r="4.3"/><path class="er" d="M1227.8,91.8V101.8"/><circle class="mr" cx="1227.8" cy="96.8" r="4.3"/><path class="er" d="M1230.7,90.4V100.4"/><circle class="mr" cx="1230.7" cy="95.4" r="4.3"/><path class="er" d="M1226.4,107.8V117.8"/><circle class="mr" cx="1226.4" cy="112.8" r="4.3"/><path class="er" d="M1220.6,133.2V153.2"/><circle class="mr" cx="1220.6" cy="143.2" r="4.3"/><path class="er" d="M1219.1,157.1V177.1"/><circle class="mr" cx="1219.1" cy="167.1" r="4.3"/><path class="er" d="M1230.0,220.3V236.3"/><circle class="mr" cx="1230.0" cy="228.3" r="4.3"/><path class="er" d="M1230.0,233.3V249.3"/><circle class="mr" cx="1230.0" cy="241.3" r="4.3"/><path class="er" d="M1293.0,67.4V91.4"/><circle class="mr" cx="1293.0" cy="79.4" r="4.3"/><path class="er" d="M1300.3,66.0V90.0"/><circle class="mr" cx="1300.3" cy="78.0" r="4.3"/><path class="er" d="M1306.1,69.4V89.4"/><circle class="mr" cx="1306.1" cy="79.4" r="4.3"/><path class="er" d="M1313.3,62.5V90.5"/><circle class="mr" cx="1313.3" cy="76.5" r="4.3"/><path class="er" d="M1319.1,78.1V98.1"/><circle class="mr" cx="1319.1" cy="88.1" r="4.3"/><path class="er" d="M1326.4,66.3V98.3"/><circle class="mr" cx="1326.4" cy="82.3" r="4.3"/><path class="er" d="M1329.3,80.1V96.1"/><circle class="mr" cx="1329.3" cy="88.1" r="4.3"/><path class="er" d="M1339.4,77.6V101.6"/><circle class="mr" cx="1339.4" cy="89.6" r="4.3"/><path class="er" d="M1345.2,77.6V101.6"/><circle class="mr" cx="1345.2" cy="89.6" r="4.3"/><path class="er" d="M1348.1,67.3V97.3"/><circle class="mr" cx="1348.1" cy="82.3" r="4.3"/><path class="er" d="M1355.4,82.5V102.5"/><circle class="mr" cx="1355.4" cy="92.5" r="4.3"/><path class="er" d="M1365.5,75.5V109.5"/><circle class="mr" cx="1365.5" cy="92.5" r="4.3"/><path class="er" d="M1368.4,88.8V104.8"/><circle class="mr" cx="1368.4" cy="96.8" r="4.3"/><path class="er" d="M1375.7,81.4V109.4"/><circle class="mr" cx="1375.7" cy="95.4" r="4.3"/><path class="er" d="M1385.8,92.3V104.3"/><circle class="mr" cx="1385.8" cy="98.3" r="4.3"/><path class="er" d="M1390.1,95.2V107.2"/><circle class="mr" cx="1390.1" cy="101.2" r="4.3"/><path class="er" d="M1394.5,98.1V110.1"/><circle class="mr" cx="1394.5" cy="104.1" r="4.3"/><path class="er" d="M1400.3,79.9V107.9"/><circle class="mr" cx="1400.3" cy="93.9" r="4.3"/><path class="er" d="M1406.1,102.4V114.4"/><circle class="mr" cx="1406.1" cy="108.4" r="4.3"/><path class="er" d="M1423.5,86.2V116.2"/><circle class="mr" cx="1423.5" cy="101.2" r="4.3"/><path class="er" d="M1427.8,93.4V123.4"/><circle class="mr" cx="1427.8" cy="108.4" r="4.3"/><path class="er" d="M1452.5,82.8V142.8"/><circle class="mr" cx="1452.5" cy="112.8" r="4.3"/><path class="er" d="M1448.1,112.9V132.9"/><circle class="mr" cx="1448.1" cy="122.9" r="4.3"/><path class="er" d="M1456.8,106.6V130.6"/><circle class="mr" cx="1456.8" cy="118.6" r="4.3"/><path class="er" d="M1464.1,110.9V134.9"/><circle class="mr" cx="1464.1" cy="122.9" r="4.3"/><path class="er" d="M1471.3,109.4V133.4"/><circle class="mr" cx="1471.3" cy="121.4" r="4.3"/><path class="er" d="M1298.0,85.0V105.0"/><circle class="mr" cx="1298.0" cy="95.0" r="4.3"/><path class="er" d="M1310.0,82.0V102.0"/><circle class="mr" cx="1310.0" cy="92.0" r="4.3"/><path class="er" d="M1335.0,85.0V105.0"/><circle class="mr" cx="1335.0" cy="95.0" r="4.3"/><path class="er" d="M1360.0,90.0V110.0"/><circle class="mr" cx="1360.0" cy="100.0" r="4.3"/><path class="er" d="M1307.5,101.3V121.3"/><circle class="mr" cx="1307.5" cy="111.3" r="4.3"/><path class="er" d="M1313.3,101.3V121.3"/><circle class="mr" cx="1313.3" cy="111.3" r="4.3"/><path class="er" d="M1319.1,97.0V117.0"/><circle class="mr" cx="1319.1" cy="107.0" r="4.3"/><path class="er" d="M1324.9,101.3V121.3"/><circle class="mr" cx="1324.9" cy="111.3" r="4.3"/><path class="er" d="M1329.0,100.0V120.0"/><circle class="mr" cx="1329.0" cy="110.0" r="4.3"/><path class="er" d="M1333.6,97.0V117.0"/><circle class="mr" cx="1333.6" cy="107.0" r="4.3"/><path class="er" d="M1336.5,108.6V128.6"/><circle class="mr" cx="1336.5" cy="118.6" r="4.3"/><path class="er" d="M1340.9,102.8V122.8"/><circle class="mr" cx="1340.9" cy="112.8" r="4.3"/><path class="er" d="M1346.7,108.6V128.6"/><circle class="mr" cx="1346.7" cy="118.6" r="4.3"/><path class="er" d="M1351.0,104.2V124.2"/><circle class="mr" cx="1351.0" cy="114.2" r="4.3"/><path class="er" d="M1353.9,111.4V131.4"/><circle class="mr" cx="1353.9" cy="121.4" r="4.3"/><path class="er" d="M1359.7,112.0V128.0"/><circle class="mr" cx="1359.7" cy="120.0" r="4.3"/><path class="er" d="M1356.8,122.1V138.1"/><circle class="mr" cx="1356.8" cy="130.1" r="4.3"/><path class="er" d="M1351.0,123.6V139.6"/><circle class="mr" cx="1351.0" cy="131.6" r="4.3"/><path class="er" d="M1342.3,116.3V132.3"/><circle class="mr" cx="1342.3" cy="124.3" r="4.3"/><path class="er" d="M1368.4,113.6V123.6"/><circle class="mr" cx="1368.4" cy="118.6" r="4.3"/><path class="er" d="M1374.2,118.6V128.6"/><circle class="mr" cx="1374.2" cy="123.6" r="4.3"/><path class="er" d="M1382.9,121.5V131.5"/><circle class="mr" cx="1382.9" cy="126.5" r="4.3"/><path class="er" d="M1394.5,122.2V132.2"/><circle class="mr" cx="1394.5" cy="127.2" r="4.3"/><path class="er" d="M1404.6,122.9V138.9"/><circle class="mr" cx="1404.6" cy="130.9" r="4.3"/><path class="er" d="M1413.3,125.0V141.0"/><circle class="mr" cx="1413.3" cy="133.0" r="4.3"/><path class="er" d="M1419.1,123.2V163.2"/><circle class="mr" cx="1419.1" cy="143.2" r="4.3"/><path class="er" d="M1420.6,95.7V135.7"/><circle class="mr" cx="1420.6" cy="115.7" r="4.3"/><path class="er" d="M1452.5,152.0V172.0"/><circle class="mr" cx="1452.5" cy="162.0" r="4.3"/><path class="er" d="M1462.6,144.6V160.6"/><circle class="mr" cx="1462.6" cy="152.6" r="4.3"/><path class="er" d="M1472.8,153.9V165.9"/><circle class="mr" cx="1472.8" cy="159.9" r="4.3"/><path class="er" d="M1475.7,141.5V153.5"/><circle class="mr" cx="1475.7" cy="147.5" r="4.3"/><path class="er" d="M1262.6,95.2V107.2"/><circle class="mr" cx="1262.6" cy="101.2" r="4.3"/><path class="er" d="M1267.0,101.0V113.0"/><circle class="mr" cx="1267.0" cy="107.0" r="4.3"/><path class="er" d="M1271.3,106.8V118.8"/><circle class="mr" cx="1271.3" cy="112.8" r="4.3"/><path class="er" d="M1274.2,115.4V127.4"/><circle class="mr" cx="1274.2" cy="121.4" r="4.3"/><path class="er" d="M1272.8,119.8V131.8"/><circle class="mr" cx="1272.8" cy="125.8" r="4.3"/><path class="er" d="M1277.1,124.1V136.1"/><circle class="mr" cx="1277.1" cy="130.1" r="4.3"/><path class="er" d="M1281.4,129.9V141.9"/><circle class="mr" cx="1281.4" cy="135.9" r="4.3"/><path class="er" d="M1281.4,141.5V153.5"/><circle class="mr" cx="1281.4" cy="147.5" r="4.3"/><path class="er" d="M1284.3,144.4V156.4"/><circle class="mr" cx="1284.3" cy="150.4" r="4.3"/><path class="er" d="M1287.2,147.3V159.3"/><circle class="mr" cx="1287.2" cy="153.3" r="4.3"/><path class="er" d="M1290.1,119.2V135.2"/><circle class="mr" cx="1290.1" cy="127.2" r="4.3"/><path class="er" d="M1290.1,164.3V174.3"/><circle class="mr" cx="1290.1" cy="169.3" r="4.3"/><path class="er" d="M1290.1,168.6V178.6"/><circle class="mr" cx="1290.1" cy="173.6" r="4.3"/><path class="er" d="M1293.0,177.3V187.3"/><circle class="mr" cx="1293.0" cy="182.3" r="4.3"/><path class="er" d="M1295.9,174.4V184.4"/><circle class="mr" cx="1295.9" cy="179.4" r="4.3"/><path class="er" d="M1295.9,132.3V148.3"/><circle class="mr" cx="1295.9" cy="140.3" r="4.3"/><path class="er" d="M1298.8,138.1V154.1"/><circle class="mr" cx="1298.8" cy="146.1" r="4.3"/><path class="er" d="M1303.2,146.8V162.8"/><circle class="mr" cx="1303.2" cy="154.8" r="4.3"/><path class="er" d="M1295.9,188.9V198.9"/><circle class="mr" cx="1295.9" cy="193.9" r="4.3"/><path class="er" d="M1300.3,194.7V204.7"/><circle class="mr" cx="1300.3" cy="199.7" r="4.3"/><path class="er" d="M1304.6,202.0V212.0"/><circle class="mr" cx="1304.6" cy="207.0" r="4.3"/><path class="er" d="M1307.5,202.0V212.0"/><circle class="mr" cx="1307.5" cy="207.0" r="4.3"/><path class="er" d="M1310.4,199.1V209.1"/><circle class="mr" cx="1310.4" cy="204.1" r="4.3"/><path class="er" d="M1314.8,207.8V217.8"/><circle class="mr" cx="1314.8" cy="212.8" r="4.3"/><path class="er" d="M1319.1,216.4V226.4"/><circle class="mr" cx="1319.1" cy="221.4" r="4.3"/><path class="er" d="M1326.4,207.8V217.8"/><circle class="mr" cx="1326.4" cy="212.8" r="4.3"/><path class="er" d="M1330.7,216.4V226.4"/><circle class="mr" cx="1330.7" cy="221.4" r="4.3"/><path class="er" d="M1307.5,162.2V182.2"/><circle class="mr" cx="1307.5" cy="172.2" r="4.3"/><path class="er" d="M1310.4,159.3V179.3"/><circle class="mr" cx="1310.4" cy="169.3" r="4.3"/><path class="er" d="M1316.2,163.6V183.6"/><circle class="mr" cx="1316.2" cy="173.6" r="4.3"/><path class="er" d="M1319.1,166.5V186.5"/><circle class="mr" cx="1319.1" cy="176.5" r="4.3"/><path class="er" d="M1319.1,188.3V208.3"/><circle class="mr" cx="1319.1" cy="198.3" r="4.3"/><path class="er" d="M1329.3,169.4V189.4"/><circle class="mr" cx="1329.3" cy="179.4" r="4.3"/><path class="er" d="M1332.2,178.1V198.1"/><circle class="mr" cx="1332.2" cy="188.1" r="4.3"/><path class="er" d="M1342.3,176.1V200.1"/><circle class="mr" cx="1342.3" cy="188.1" r="4.3"/><path class="er" d="M1346.7,182.5V202.5"/><circle class="mr" cx="1346.7" cy="192.5" r="4.3"/><path class="er" d="M1343.8,191.2V211.2"/><circle class="mr" cx="1343.8" cy="201.2" r="4.3"/><path class="er" d="M1367.0,178.7V194.7"/><circle class="mr" cx="1367.0" cy="186.7" r="4.3"/><path class="er" d="M1375.7,164.4V194.4"/><circle class="mr" cx="1375.7" cy="179.4" r="4.3"/><path class="er" d="M1378.6,173.8V193.8"/><circle class="mr" cx="1378.6" cy="183.8" r="4.3"/><path class="er" d="M1380.0,191.2V211.2"/><circle class="mr" cx="1380.0" cy="201.2" r="4.3"/><path class="er" d="M1390.1,188.8V204.8"/><circle class="mr" cx="1390.1" cy="196.8" r="4.3"/><path class="er" d="M1404.6,162.3V202.3"/><circle class="mr" cx="1404.6" cy="182.3" r="4.3"/><path class="er" d="M1404.6,197.0V217.0"/><circle class="mr" cx="1404.6" cy="207.0" r="4.3"/><path class="er" d="M1419.1,173.8V193.8"/><circle class="mr" cx="1419.1" cy="183.8" r="4.3"/><path class="er" d="M1426.4,172.3V192.3"/><circle class="mr" cx="1426.4" cy="182.3" r="4.3"/><path class="er" d="M1435.1,170.9V190.9"/><circle class="mr" cx="1435.1" cy="180.9" r="4.3"/><path class="er" d="M1419.1,182.5V202.5"/><circle class="mr" cx="1419.1" cy="192.5" r="4.3"/><path class="er" d="M1423.5,191.2V211.2"/><circle class="mr" cx="1423.5" cy="201.2" r="4.3"/><path class="er" d="M1424.9,198.4V218.4"/><circle class="mr" cx="1424.9" cy="208.4" r="4.3"/><path class="er" d="M1426.4,207.1V227.1"/><circle class="mr" cx="1426.4" cy="217.1" r="4.3"/><path class="er" d="M1429.3,214.9V230.9"/><circle class="mr" cx="1429.3" cy="222.9" r="4.3"/><path class="er" d="M1458.3,188.8V204.8"/><circle class="mr" cx="1458.3" cy="196.8" r="4.3"/><path class="er" d="M1461.2,184.5V200.5"/><circle class="mr" cx="1461.2" cy="192.5" r="4.3"/><path class="er" d="M1472.8,190.3V206.3"/><circle class="mr" cx="1472.8" cy="198.3" r="4.3"/><path class="er" d="M1475.7,212.0V228.0"/><circle class="mr" cx="1475.7" cy="220.0" r="4.3"/><path class="er" d="M1367.0,217.4V225.4"/><circle class="mr" cx="1367.0" cy="221.4" r="4.3"/><path class="er" d="M1390.1,218.9V226.9"/><circle class="mr" cx="1390.1" cy="222.9" r="4.3"/><path class="er" d="M1401.7,224.7V232.7"/><circle class="mr" cx="1401.7" cy="228.7" r="4.3"/><path class="er" d="M1404.6,247.8V263.8"/><circle class="mr" cx="1404.6" cy="255.8" r="4.3"/><path class="er" d="M1367.0,218.7V224.7"/><circle class="mr" cx="1367.0" cy="221.7" r="4.3"/><path class="er" d="M1364.1,223.1V229.1"/><circle class="mr" cx="1364.1" cy="226.1" r="4.3"/><path class="er" d="M1371.3,220.2V226.2"/><circle class="mr" cx="1371.3" cy="223.2" r="4.3"/><path class="er" d="M1368.4,224.5V230.5"/><circle class="mr" cx="1368.4" cy="227.5" r="4.3"/><path class="er" d="M1375.7,234.7V240.7"/><circle class="mr" cx="1375.7" cy="237.7" r="4.3"/><path class="er" d="M1380.0,234.0V240.0"/><circle class="mr" cx="1380.0" cy="237.0" r="4.3"/><path class="er" d="M1387.2,220.3V236.3"/><circle class="mr" cx="1387.2" cy="228.3" r="4.3"/><path class="er" d="M1390.1,225.3V241.3"/><circle class="mr" cx="1390.1" cy="233.3" r="4.3"/><path class="er" d="M1404.6,228.8V240.8"/><circle class="mr" cx="1404.6" cy="234.8" r="4.3"/><path class="er" d="M1415.5,233.0V241.0"/><circle class="mr" cx="1415.5" cy="237.0" r="4.3"/><path class="er" d="M1411.9,210.8V226.8"/><circle class="mr" cx="1411.9" cy="218.8" r="4.3"/><path class="er" d="M1409.0,218.1V234.1"/><circle class="mr" cx="1409.0" cy="226.1" r="4.3"/><path class="er" d="M1426.4,215.2V231.2"/><circle class="mr" cx="1426.4" cy="223.2" r="4.3"/><path class="er" d="M1430.7,230.2V242.2"/><circle class="mr" cx="1430.7" cy="236.2" r="4.3"/><path class="er" d="M1438.0,231.5V239.5"/><circle class="mr" cx="1438.0" cy="235.5" r="4.3"/><path class="er" d="M1446.7,226.4V234.4"/><circle class="mr" cx="1446.7" cy="230.4" r="4.3"/><path class="er" d="M1446.7,233.7V241.7"/><circle class="mr" cx="1446.7" cy="237.7" r="4.3"/><path class="er" d="M1453.9,225.7V233.7"/><circle class="mr" cx="1453.9" cy="229.7" r="4.3"/><path class="er" d="M1461.2,230.1V238.1"/><circle class="mr" cx="1461.2" cy="234.1" r="4.3"/><path class="er" d="M1471.3,235.1V243.1"/><circle class="mr" cx="1471.3" cy="239.1" r="4.3"/><path class="er" d="M1326.4,206.6V216.6"/><circle class="mr" cx="1326.4" cy="211.6" r="4.3"/><path class="er" d="M1330.7,216.7V226.7"/><circle class="mr" cx="1330.7" cy="221.7" r="4.3"/><path class="er" d="M1317.7,215.3V225.3"/><circle class="mr" cx="1317.7" cy="220.3" r="4.3"/><path class="er" d="M1304.6,208.8V218.8"/><circle class="mr" cx="1304.6" cy="213.8" r="4.3"/><path class="er" d="M1310.4,202.2V212.2"/><circle class="mr" cx="1310.4" cy="207.2" r="4.3"/><path class="er" d="M1341.6,190.9V214.9"/><circle class="mr" cx="1341.6" cy="202.9" r="4.3"/><path class="er" d="M1403.2,197.8V213.8"/><circle class="mr" cx="1403.2" cy="205.8" r="4.3"/><path class="er" d="M1427.8,206.5V222.5"/><circle class="mr" cx="1427.8" cy="214.5" r="4.3"/><path class="er" d="M1430.7,212.3V228.3"/><circle class="mr" cx="1430.7" cy="220.3" r="4.3"/><path class="er" d="M1477.1,212.3V228.3"/><circle class="mr" cx="1477.1" cy="220.3" r="4.3"/><path class="er" d="M1460.0,109.8V133.0"/><circle class="mr" cx="1460.0" cy="121.4" r="4.3"/><path class="er" d="M1466.5,110.9V134.9"/><circle class="mr" cx="1466.5" cy="122.9" r="4.3"/><path class="er" d="M1472.3,108.4V134.4"/><circle class="mr" cx="1472.3" cy="121.4" r="4.3"/><path class="er" d="M1486.8,108.9V136.9"/><circle class="mr" cx="1486.8" cy="122.9" r="4.3"/><path class="er" d="M1484.6,123.6V139.6"/><circle class="mr" cx="1484.6" cy="131.6" r="4.3"/><path class="er" d="M1494.8,112.2V142.2"/><circle class="mr" cx="1494.8" cy="127.2" r="4.3"/><path class="er" d="M1499.1,118.1V142.1"/><circle class="mr" cx="1499.1" cy="130.1" r="4.3"/><path class="er" d="M1503.5,120.3V144.3"/><circle class="mr" cx="1503.5" cy="132.3" r="4.3"/><path class="er" d="M1463.6,147.3V159.3"/><circle class="mr" cx="1463.6" cy="153.3" r="4.3"/><path class="er" d="M1475.2,141.5V153.5"/><circle class="mr" cx="1475.2" cy="147.5" r="4.3"/><path class="er" d="M1473.0,157.6V163.6"/><circle class="mr" cx="1473.0" cy="160.6" r="4.3"/><path class="er" d="M1486.8,131.0V167.0"/><circle class="mr" cx="1486.8" cy="149.0" r="4.3"/><path class="er" d="M1494.8,130.3V150.3"/><circle class="mr" cx="1494.8" cy="140.3" r="4.3"/><path class="er" d="M1502.0,133.2V153.2"/><circle class="mr" cx="1502.0" cy="143.2" r="4.3"/><path class="er" d="M1507.8,138.4V162.4"/><circle class="mr" cx="1507.8" cy="150.4" r="4.3"/><path class="er" d="M1512.9,133.6V145.6"/><circle class="mr" cx="1512.9" cy="139.6" r="4.3"/><path class="er" d="M1519.4,123.9V147.9"/><circle class="mr" cx="1519.4" cy="135.9" r="4.3"/><path class="er" d="M1520.9,137.9V165.9"/><circle class="mr" cx="1520.9" cy="151.9" r="4.3"/><path class="er" d="M1526.7,134.1V158.1"/><circle class="mr" cx="1526.7" cy="146.1" r="4.3"/><path class="er" d="M1534.6,123.5V145.5"/><circle class="mr" cx="1534.6" cy="134.5" r="4.3"/><path class="er" d="M1536.8,142.8V166.8"/><circle class="mr" cx="1536.8" cy="154.8" r="4.3"/><path class="er" d="M1513.6,162.8V172.8"/><circle class="mr" cx="1513.6" cy="167.8" r="4.3"/><path class="er" d="M1547.0,127.3V137.3"/><circle class="mr" cx="1547.0" cy="132.3" r="4.3"/><path class="er" d="M1552.8,125.1V135.1"/><circle class="mr" cx="1552.8" cy="130.1" r="4.3"/><path class="er" d="M1558.6,123.7V133.7"/><circle class="mr" cx="1558.6" cy="128.7" r="4.3"/><path class="er" d="M1564.3,123.7V133.7"/><circle class="mr" cx="1564.3" cy="128.7" r="4.3"/><path class="er" d="M1558.6,127.3V153.3"/><circle class="mr" cx="1558.6" cy="140.3" r="4.3"/><path class="er" d="M1575.9,123.9V137.9"/><circle class="mr" cx="1575.9" cy="130.9" r="4.3"/><path class="er" d="M1587.5,120.9V140.9"/><circle class="mr" cx="1587.5" cy="130.9" r="4.3"/><path class="er" d="M1593.3,123.7V133.7"/><circle class="mr" cx="1593.3" cy="128.7" r="4.3"/><path class="er" d="M1616.5,118.9V142.9"/><circle class="mr" cx="1616.5" cy="130.9" r="4.3"/><path class="er" d="M1634.6,125.9V135.9"/><circle class="mr" cx="1634.6" cy="130.9" r="4.3"/><path class="er" d="M1643.3,117.5V151.5"/><circle class="mr" cx="1643.3" cy="134.5" r="4.3"/><path class="er" d="M1647.0,134.6V144.6"/><circle class="mr" cx="1647.0" cy="139.6" r="4.3"/><path class="er" d="M1657.1,128.8V138.8"/><circle class="mr" cx="1657.1" cy="133.8" r="4.3"/><path class="er" d="M1679.6,120.3V160.3"/><circle class="mr" cx="1679.6" cy="140.3" r="4.3"/><path class="er" d="M1681.7,136.1V156.1"/><circle class="mr" cx="1681.7" cy="146.1" r="4.3"/><path class="er" d="M1695.5,141.1V167.1"/><circle class="mr" cx="1695.5" cy="154.1" r="4.3"/><path class="er" d="M1704.9,156.9V172.9"/><circle class="mr" cx="1704.9" cy="164.9" r="4.3"/><path class="er" d="M1712.9,153.3V185.3"/><circle class="mr" cx="1712.9" cy="169.3" r="4.3"/><path class="er" d="M1719.4,164.2V180.2"/><circle class="mr" cx="1719.4" cy="172.2" r="4.3"/><path class="er" d="M1724.5,172.7V184.7"/><circle class="mr" cx="1724.5" cy="178.7" r="4.3"/><path class="er" d="M1547.0,154.9V174.9"/><circle class="mr" cx="1547.0" cy="164.9" r="4.3"/><path class="er" d="M1547.0,162.2V182.2"/><circle class="mr" cx="1547.0" cy="172.2" r="4.3"/><path class="er" d="M1599.1,163.3V175.3"/><circle class="mr" cx="1599.1" cy="169.3" r="4.3"/><path class="er" d="M1681.0,164.2V180.2"/><circle class="mr" cx="1681.0" cy="172.2" r="4.3"/><path class="er" d="M1665.8,170.3V178.3"/><circle class="mr" cx="1665.8" cy="174.3" r="4.3"/><path class="er" d="M1673.0,171.8V179.8"/><circle class="mr" cx="1673.0" cy="175.8" r="4.3"/><path class="er" d="M1757.1,119.3V129.3"/><circle class="mr" cx="1757.1" cy="124.3" r="4.3"/><path class="er" d="M1539.7,172.3V192.3"/><circle class="mr" cx="1539.7" cy="182.3" r="4.3"/><path class="er" d="M1539.7,183.1V209.1"/><circle class="mr" cx="1539.7" cy="196.1" r="4.3"/><path class="er" d="M1549.9,179.6V199.6"/><circle class="mr" cx="1549.9" cy="189.6" r="4.3"/><path class="er" d="M1560.0,177.2V193.2"/><circle class="mr" cx="1560.0" cy="185.2" r="4.3"/><path class="er" d="M1562.9,179.4V195.4"/><circle class="mr" cx="1562.9" cy="187.4" r="4.3"/><path class="er" d="M1573.0,179.7V203.7"/><circle class="mr" cx="1573.0" cy="191.7" r="4.3"/><path class="er" d="M1584.6,195.5V215.5"/><circle class="mr" cx="1584.6" cy="205.5" r="4.3"/><path class="er" d="M1580.3,203.4V213.4"/><circle class="mr" cx="1580.3" cy="208.4" r="4.3"/><path class="er" d="M1587.5,203.4V213.4"/><circle class="mr" cx="1587.5" cy="208.4" r="4.3"/><path class="er" d="M1594.8,210.9V218.9"/><circle class="mr" cx="1594.8" cy="214.9" r="4.3"/><path class="er" d="M1598.4,196.4V204.4"/><circle class="mr" cx="1598.4" cy="200.4" r="4.3"/><path class="er" d="M1606.4,204.4V212.4"/><circle class="mr" cx="1606.4" cy="208.4" r="4.3"/><path class="er" d="M1610.0,197.2V205.2"/><circle class="mr" cx="1610.0" cy="201.2" r="4.3"/><path class="er" d="M1610.7,205.1V213.1"/><circle class="mr" cx="1610.7" cy="209.1" r="4.3"/><path class="er" d="M1620.9,192.1V200.1"/><circle class="mr" cx="1620.9" cy="196.1" r="4.3"/><path class="er" d="M1628.1,187.0V195.0"/><circle class="mr" cx="1628.1" cy="191.0" r="4.3"/><path class="er" d="M1635.4,184.1V192.1"/><circle class="mr" cx="1635.4" cy="188.1" r="4.3"/><path class="er" d="M1636.1,191.4V199.4"/><circle class="mr" cx="1636.1" cy="195.4" r="4.3"/><path class="er" d="M1643.3,180.5V188.5"/><circle class="mr" cx="1643.3" cy="184.5" r="4.3"/><path class="er" d="M1647.0,196.4V204.4"/><circle class="mr" cx="1647.0" cy="200.4" r="4.3"/><path class="er" d="M1651.3,175.4V183.4"/><circle class="mr" cx="1651.3" cy="179.4" r="4.3"/><path class="er" d="M1658.6,168.8V198.8"/><circle class="mr" cx="1658.6" cy="183.8" r="4.3"/><path class="er" d="M1669.4,208.0V232.0"/><circle class="mr" cx="1669.4" cy="220.0" r="4.3"/><path class="er" d="M1748.4,194.9V224.9"/><circle class="mr" cx="1748.4" cy="209.9" r="4.3"/><path class="er" d="M1717.2,212.3V236.3"/><circle class="mr" cx="1717.2" cy="224.3" r="4.3"/><path class="er" d="M1725.2,215.2V239.2"/><circle class="mr" cx="1725.2" cy="227.2" r="4.3"/><path class="er" d="M1573.0,210.2V218.2"/><circle class="mr" cx="1573.0" cy="214.2" r="4.3"/><path class="er" d="M1561.4,214.6V222.6"/><circle class="mr" cx="1561.4" cy="218.6" r="4.3"/><path class="er" d="M1565.8,220.3V228.3"/><circle class="mr" cx="1565.8" cy="224.3" r="4.3"/><path class="er" d="M1571.6,213.1V221.1"/><circle class="mr" cx="1571.6" cy="217.1" r="4.3"/><path class="er" d="M1578.8,217.4V225.4"/><circle class="mr" cx="1578.8" cy="221.4" r="4.3"/><path class="er" d="M1587.5,221.8V229.8"/><circle class="mr" cx="1587.5" cy="225.8" r="4.3"/><path class="er" d="M1558.6,221.8V229.8"/><circle class="mr" cx="1558.6" cy="225.8" r="4.3"/><path class="er" d="M1549.9,223.2V231.2"/><circle class="mr" cx="1549.9" cy="227.2" r="4.3"/><path class="er" d="M1542.6,223.2V231.2"/><circle class="mr" cx="1542.6" cy="227.2" r="4.3"/><path class="er" d="M1531.0,227.6V235.6"/><circle class="mr" cx="1531.0" cy="231.6" r="4.3"/><path class="er" d="M1507.8,227.6V235.6"/><circle class="mr" cx="1507.8" cy="231.6" r="4.3"/><path class="er" d="M1517.2,170.3V210.3"/><circle class="mr" cx="1517.2" cy="190.3" r="4.3"/><path class="er" d="M1517.2,191.2V211.2"/><circle class="mr" cx="1517.2" cy="201.2" r="4.3"/><path class="er" d="M1475.9,185.5V209.5"/><circle class="mr" cx="1475.9" cy="197.5" r="4.3"/><path class="er" d="M1483.2,197.9V221.9"/><circle class="mr" cx="1483.2" cy="209.9" r="4.3"/><path class="er" d="M1477.4,210.0V230.0"/><circle class="mr" cx="1477.4" cy="220.0" r="4.3"/><path class="er" d="M1461.4,183.2V203.2"/><circle class="mr" cx="1461.4" cy="193.2" r="4.3"/><path class="er" d="M1483.2,226.3V238.3"/><circle class="mr" cx="1483.2" cy="232.3" r="4.3"/><path class="er" d="M1462.2,229.0V237.0"/><circle class="mr" cx="1462.2" cy="233.0" r="4.3"/><path class="er" d="M1471.6,236.1V242.1"/><circle class="mr" cx="1471.6" cy="239.1" r="4.3"/><path class="er" d="M1483.2,236.1V242.1"/><circle class="mr" cx="1483.2" cy="239.1" r="4.3"/><path class="er" d="M1490.4,239.8V245.8"/><circle class="mr" cx="1490.4" cy="242.8" r="4.3"/><path class="er" d="M1483.2,229.6V235.6"/><circle class="mr" cx="1483.2" cy="232.6" r="4.3"/><path class="er" d="M1483.9,199.4V219.4"/><circle class="mr" cx="1483.9" cy="209.4" r="4.3"/><path class="er" d="M1505.7,231.8V237.8"/><circle class="mr" cx="1505.7" cy="234.8" r="4.3"/><path class="er" d="M1509.3,228.2V234.2"/><circle class="mr" cx="1509.3" cy="231.2" r="4.3"/><path class="er" d="M1528.1,229.6V235.6"/><circle class="mr" cx="1528.1" cy="232.6" r="4.3"/><path class="er" d="M1535.4,239.0V245.0"/><circle class="mr" cx="1535.4" cy="242.0" r="4.3"/><path class="er" d="M1532.5,231.8V237.8"/><circle class="mr" cx="1532.5" cy="234.8" r="4.3"/><path class="er" d="M1552.8,230.3V236.3"/><circle class="mr" cx="1552.8" cy="233.3" r="4.3"/><path class="er" d="M1561.4,214.1V222.1"/><circle class="mr" cx="1561.4" cy="218.1" r="4.3"/><path class="er" d="M1580.3,206.9V214.9"/><circle class="mr" cx="1580.3" cy="210.9" r="4.3"/><path class="er" d="M1580.3,215.6V223.6"/><circle class="mr" cx="1580.3" cy="219.6" r="4.3"/><path class="er" d="M1587.5,222.8V230.8"/><circle class="mr" cx="1587.5" cy="226.8" r="4.3"/><path class="er" d="M1594.8,212.2V218.2"/><circle class="mr" cx="1594.8" cy="215.2" r="4.3"/><path class="er" d="M1599.1,198.4V204.4"/><circle class="mr" cx="1599.1" cy="201.4" r="4.3"/><path class="er" d="M1647.0,198.4V204.4"/><circle class="mr" cx="1647.0" cy="201.4" r="4.3"/><path class="er" d="M1628.8,254.3V286.3"/><circle class="mr" cx="1628.8" cy="270.3" r="4.3"/><path class="er" d="M1625.9,279.9V307.9"/><circle class="mr" cx="1625.9" cy="293.9" r="4.3"/><path class="er" d="M1636.1,285.9V301.9"/><circle class="mr" cx="1636.1" cy="293.9" r="4.3"/><path class="er" d="M1640.4,291.0V307.0"/><circle class="mr" cx="1640.4" cy="299.0" r="4.3"/><path class="er" d="M1707.1,389.2V425.2"/><circle class="mr" cx="1707.1" cy="407.2" r="4.3"/><path class="er" d="M1717.2,236.6V260.6"/><circle class="mr" cx="1717.2" cy="248.6" r="4.3"/><path class="er" d="M1747.7,197.4V221.4"/><circle class="mr" cx="1747.7" cy="209.4" r="4.3"/><path class="er" d="M1758.6,260.9V286.9"/><circle class="mr" cx="1758.6" cy="273.9" r="4.3"/><path class="er" d="M1770.4,93.9V104.9"/><circle class="mr" cx="1770.4" cy="99.4" r="4.3"/><path class="er" d="M1758.8,120.3V126.3"/><circle class="mr" cx="1758.8" cy="123.3" r="4.3"/><path class="er" d="M1761.7,124.0V130.0"/><circle class="mr" cx="1761.7" cy="127.0" r="4.3"/><path class="er" d="M1757.4,122.5V128.5"/><circle class="mr" cx="1757.4" cy="125.5" r="4.3"/><path class="er" d="M1770.4,111.9V131.9"/><circle class="mr" cx="1770.4" cy="121.9" r="4.3"/><path class="er" d="M1770.4,124.4V132.4"/><circle class="mr" cx="1770.4" cy="128.4" r="4.3"/><path class="er" d="M1784.9,116.0V122.0"/><circle class="mr" cx="1784.9" cy="119.0" r="4.3"/><path class="er" d="M1784.9,122.5V128.5"/><circle class="mr" cx="1784.9" cy="125.5" r="4.3"/><path class="er" d="M1790.7,124.0V130.0"/><circle class="mr" cx="1790.7" cy="127.0" r="4.3"/><path class="er" d="M1795.1,126.9V132.9"/><circle class="mr" cx="1795.1" cy="129.9" r="4.3"/><path class="er" d="M1799.4,122.5V128.5"/><circle class="mr" cx="1799.4" cy="125.5" r="4.3"/><path class="er" d="M1803.8,107.3V113.3"/><circle class="mr" cx="1803.8" cy="110.3" r="4.3"/><path class="er" d="M1803.8,115.3V121.3"/><circle class="mr" cx="1803.8" cy="118.3" r="4.3"/><path class="er" d="M1808.1,122.5V128.5"/><circle class="mr" cx="1808.1" cy="125.5" r="4.3"/><path class="er" d="M1812.5,116.7V122.7"/><circle class="mr" cx="1812.5" cy="119.7" r="4.3"/><path class="er" d="M1815.4,112.4V118.4"/><circle class="mr" cx="1815.4" cy="115.4" r="4.3"/><path class="er" d="M1818.3,124.0V130.0"/><circle class="mr" cx="1818.3" cy="127.0" r="4.3"/><path class="er" d="M1819.0,118.2V124.2"/><circle class="mr" cx="1819.0" cy="121.2" r="4.3"/><path class="er" d="M1811.0,134.1V140.1"/><circle class="mr" cx="1811.0" cy="137.1" r="4.3"/><path class="er" d="M1806.7,126.9V132.9"/><circle class="mr" cx="1806.7" cy="129.9" r="4.3"/><path class="er" d="M1829.9,126.9V132.9"/><circle class="mr" cx="1829.9" cy="129.9" r="4.3"/><path class="er" d="M1837.1,111.6V117.6"/><circle class="mr" cx="1837.1" cy="114.6" r="4.3"/><path class="er" d="M1840.0,119.6V125.6"/><circle class="mr" cx="1840.0" cy="122.6" r="4.3"/><path class="er" d="M1844.3,119.6V125.6"/><circle class="mr" cx="1844.3" cy="122.6" r="4.3"/><path class="er" d="M1844.3,127.6V133.6"/><circle class="mr" cx="1844.3" cy="130.6" r="4.3"/><path class="er" d="M1837.1,131.2V137.2"/><circle class="mr" cx="1837.1" cy="134.2" r="4.3"/><path class="er" d="M1841.4,136.3V142.3"/><circle class="mr" cx="1841.4" cy="139.3" r="4.3"/><path class="er" d="M1833.5,141.3V147.3"/><circle class="mr" cx="1833.5" cy="144.3" r="4.3"/><path class="er" d="M1859.6,123.2V129.2"/><circle class="mr" cx="1859.6" cy="126.2" r="4.3"/><path class="er" d="M1859.6,130.5V136.5"/><circle class="mr" cx="1859.6" cy="133.5" r="4.3"/><path class="er" d="M1859.6,134.8V140.8"/><circle class="mr" cx="1859.6" cy="137.8" r="4.3"/><path class="er" d="M1770.4,167.8V181.8"/><circle class="mr" cx="1770.4" cy="174.8" r="4.3"/><path class="er" d="M1748.7,193.6V225.6"/><circle class="mr" cx="1748.7" cy="209.6" r="4.3"/><path class="er" d="M1765.4,223.4V233.4"/><circle class="mr" cx="1765.4" cy="228.4" r="4.3"/><path class="er" d="M1777.7,219.1V255.1"/><circle class="mr" cx="1777.7" cy="237.1" r="4.3"/><path class="er" d="M1780.6,240.8V250.8"/><circle class="mr" cx="1780.6" cy="245.8" r="4.3"/><path class="er" d="M1787.1,245.9V255.9"/><circle class="mr" cx="1787.1" cy="250.9" r="4.3"/><path class="er" d="M1826.2,234.7V262.7"/><circle class="mr" cx="1826.2" cy="248.7" r="4.3"/><path class="er" d="M1818.3,249.5V259.5"/><circle class="mr" cx="1818.3" cy="254.5" r="4.3"/><path class="er" d="M1851.6,252.0V272.0"/><circle class="mr" cx="1851.6" cy="262.0" r="4.3"/><path class="er" d="M1795.0,120.0V126.0"/><circle class="mr" cx="1795.0" cy="123.0" r="4.3"/><path class="er" d="M1823.0,122.0V128.0"/><circle class="mr" cx="1823.0" cy="125.0" r="4.3"/><path class="er" d="M1800.0,127.0V133.0"/><circle class="mr" cx="1800.0" cy="130.0" r="4.3"/><path class="er" d="M1758.8,260.5V286.5"/><circle class="mr" cx="1758.8" cy="273.5" r="4.3"/><path class="er" d="M1777.7,232.0V244.0"/><circle class="mr" cx="1777.7" cy="238.0" r="4.3"/><path class="er" d="M1780.6,241.4V253.4"/><circle class="mr" cx="1780.6" cy="247.4" r="4.3"/><path class="er" d="M1777.7,250.8V262.8"/><circle class="mr" cx="1777.7" cy="256.8" r="4.3"/><path class="er" d="M1781.3,262.0V298.0"/><circle class="mr" cx="1781.3" cy="280.0" r="4.3"/><path class="er" d="M1787.1,246.7V256.7"/><circle class="mr" cx="1787.1" cy="251.7" r="4.3"/><path class="er" d="M1795.1,255.3V271.3"/><circle class="mr" cx="1795.1" cy="263.3" r="4.3"/><path class="er" d="M1796.5,261.0V273.0"/><circle class="mr" cx="1796.5" cy="267.0" r="4.3"/><path class="er" d="M1807.4,270.9V310.9"/><circle class="mr" cx="1807.4" cy="290.9" r="4.3"/><path class="er" d="M1811.0,259.1V279.1"/><circle class="mr" cx="1811.0" cy="269.1" r="4.3"/><path class="er" d="M1810.3,271.3V287.3"/><circle class="mr" cx="1810.3" cy="279.3" r="4.3"/><path class="er" d="M1815.4,256.2V276.2"/><circle class="mr" cx="1815.4" cy="266.2" r="4.3"/><path class="er" d="M1819.0,239.8V273.8"/><circle class="mr" cx="1819.0" cy="256.8" r="4.3"/><path class="er" d="M1826.2,233.1V263.1"/><circle class="mr" cx="1826.2" cy="248.1" r="4.3"/><path class="er" d="M1827.7,294.8V302.8"/><circle class="mr" cx="1827.7" cy="298.8" r="4.3"/><path class="er" d="M1832.8,301.4V309.4"/><circle class="mr" cx="1832.8" cy="305.4" r="4.3"/><path class="er" d="M1835.7,300.1V312.1"/><circle class="mr" cx="1835.7" cy="306.1" r="4.3"/><path class="er" d="M1846.5,308.6V316.6"/><circle class="mr" cx="1846.5" cy="312.6" r="4.3"/><path class="er" d="M1851.6,247.3V395.3"/><circle class="mr" cx="1851.6" cy="321.3" r="4.3"/><path class="er" d="M1858.1,316.0V328.0"/><circle class="mr" cx="1858.1" cy="322.0" r="4.3"/><path class="er" d="M1866.8,286.4V376.4"/><circle class="mr" cx="1866.8" cy="331.4" r="4.3"/><path class="er" d="M1871.9,307.3V361.3"/><circle class="mr" cx="1871.9" cy="334.3" r="4.3"/><path class="er" d="M1872.6,337.6V345.6"/><circle class="mr" cx="1872.6" cy="341.6" r="4.3"/><path class="er" d="M1887.8,343.0V359.0"/><circle class="mr" cx="1887.8" cy="351.0" r="4.3"/><path class="er" d="M1871.2,261.7V299.7"/><circle class="mr" cx="1871.2" cy="280.7" r="4.3"/><path class="er" d="M1877.7,270.4V308.4"/><circle class="mr" cx="1877.7" cy="289.4" r="4.3"/><path class="er" d="M1885.7,271.7V305.7"/><circle class="mr" cx="1885.7" cy="288.7" r="4.3"/><path class="er" d="M1903.8,275.3V325.3"/><circle class="mr" cx="1903.8" cy="300.3" r="4.3"/><path class="er" d="M1903.8,306.6V318.6"/><circle class="mr" cx="1903.8" cy="312.6" r="4.3"/><path class="er" d="M1911.7,266.1V304.1"/><circle class="mr" cx="1911.7" cy="285.1" r="4.3"/><path class="er" d="M1926.2,282.2V324.2"/><circle class="mr" cx="1926.2" cy="303.2" r="4.3"/><path class="er" d="M1925.5,377.1V393.1"/><circle class="mr" cx="1925.5" cy="385.1" r="4.3"/><path class="er" d="M1969.7,427.1V443.1"/><circle class="mr" cx="1969.7" cy="435.1" r="4.3"/><path class="er" d="M1984.9,438.0V454.0"/><circle class="mr" cx="1984.9" cy="446.0" r="4.3"/><path class="er" d="M2004.5,268.2V306.2"/><circle class="mr" cx="2004.5" cy="287.2" r="4.3"/><path class="er" d="M1970.0,427.7V443.7"/><circle class="mr" cx="1970.0" cy="435.7" r="4.3"/><path class="er" d="M1985.0,443.2V459.2"/><circle class="mr" cx="1985.0" cy="451.2" r="4.3"/><path class="er" d="M2014.9,469.0V531.0"/><circle class="mr" cx="2014.9" cy="500.0" r="4.3"/><path class="er" d="M1260.0,74.9V92.4"/><circle class="mr" cx="1260.0" cy="83.7" r="4.3"/><path class="er" d="M1257.5,69.0V83.5"/><circle class="mr" cx="1257.5" cy="76.3" r="4.3"/><path class="er" d="M1272.5,62.6V100.3"/><circle class="mr" cx="1272.5" cy="81.5" r="4.3"/><path class="er" d="M1270.8,59.8V76.2"/><circle class="mr" cx="1270.8" cy="68.0" r="4.3"/><path class="er" d="M1271.4,61.1V92.6"/><circle class="mr" cx="1271.4" cy="76.9" r="4.3"/><path class="er" d="M1245.7,72.8V89.8"/><circle class="mr" cx="1245.7" cy="81.3" r="4.3"/><path class="er" d="M1268.8,63.4V79.3"/><circle class="mr" cx="1268.8" cy="71.3" r="4.3"/><path class="er" d="M1250.0,76.5V92.7"/><circle class="mr" cx="1250.0" cy="84.6" r="4.3"/><path class="er" d="M1259.9,86.4V95.2"/><circle class="mr" cx="1259.9" cy="90.8" r="4.3"/><path class="er" d="M1255.3,67.5V75.7"/><circle class="mr" cx="1255.3" cy="71.6" r="4.3"/><path class="er" d="M1273.8,75.2V91.9"/><circle class="mr" cx="1273.8" cy="83.5" r="4.3"/><path class="er" d="M1275.8,79.4V88.7"/><circle class="mr" cx="1275.8" cy="84.0" r="4.3"/><path class="er" d="M1260.2,51.9V71.2"/><circle class="mr" cx="1260.2" cy="61.6" r="4.3"/><path class="er" d="M1275.9,81.2V91.0"/><circle class="mr" cx="1275.9" cy="86.1" r="4.3"/><path class="er" d="M1240.6,62.6V72.3"/><circle class="mr" cx="1240.6" cy="67.4" r="4.3"/><path class="er" d="M1267.7,50.8V96.5"/><circle class="mr" cx="1267.7" cy="73.7" r="4.3"/><path class="er" d="M1258.4,57.0V66.6"/><circle class="mr" cx="1258.4" cy="61.8" r="4.3"/><path class="er" d="M1251.6,59.2V70.9"/><circle class="mr" cx="1251.6" cy="65.0" r="4.3"/><path class="er" d="M1274.6,70.7V82.3"/><circle class="mr" cx="1274.6" cy="76.5" r="4.3"/><path class="er" d="M1242.1,74.1V86.3"/><circle class="mr" cx="1242.1" cy="80.2" r="4.3"/><path class="er" d="M1237.0,67.7V85.5"/><circle class="mr" cx="1237.0" cy="76.6" r="4.3"/><path class="er" d="M1269.4,90.1V99.8"/><circle class="mr" cx="1269.4" cy="94.9" r="4.3"/><path class="er" d="M1248.8,71.2V86.7"/><circle class="mr" cx="1248.8" cy="78.9" r="4.3"/><path class="er" d="M1243.9,77.5V93.6"/><circle class="mr" cx="1243.9" cy="85.5" r="4.3"/><path class="er" d="M1261.1,66.6V75.9"/><circle class="mr" cx="1261.1" cy="71.3" r="4.3"/><path class="er" d="M1245.0,60.7V73.9"/><circle class="mr" cx="1245.0" cy="67.3" r="4.3"/><path class="er" d="M1248.9,58.9V71.2"/><circle class="mr" cx="1248.9" cy="65.1" r="4.3"/><path class="er" d="M1260.3,55.0V71.0"/><circle class="mr" cx="1260.3" cy="63.0" r="4.3"/><path class="er" d="M1244.0,62.2V73.9"/><circle class="mr" cx="1244.0" cy="68.1" r="4.3"/><path class="er" d="M1243.6,75.5V84.9"/><circle class="mr" cx="1243.6" cy="80.2" r="4.3"/><path class="er" d="M1278.1,73.6V84.2"/><circle class="mr" cx="1278.1" cy="78.9" r="4.3"/><path class="er" d="M1237.8,78.3V91.8"/><circle class="mr" cx="1237.8" cy="85.0" r="4.3"/><path class="er" d="M1237.7,69.4V78.7"/><circle class="mr" cx="1237.7" cy="74.1" r="4.3"/><path class="er" d="M1255.7,74.5V83.6"/><circle class="mr" cx="1255.7" cy="79.1" r="4.3"/><path class="er" d="M1268.8,73.0V85.5"/><circle class="mr" cx="1268.8" cy="79.2" r="4.3"/><path class="er" d="M1280.8,60.8V79.0"/><circle class="mr" cx="1280.8" cy="69.9" r="4.3"/><path class="er" d="M1268.8,83.7V100.8"/><circle class="mr" cx="1268.8" cy="92.3" r="4.3"/><path class="er" d="M1277.2,66.0V82.8"/><circle class="mr" cx="1277.2" cy="74.4" r="4.3"/><path class="er" d="M1238.3,78.1V88.9"/><circle class="mr" cx="1238.3" cy="83.5" r="4.3"/><path class="er" d="M1278.4,77.4V94.3"/><circle class="mr" cx="1278.4" cy="85.9" r="4.3"/><path class="er" d="M1252.1,76.2V89.8"/><circle class="mr" cx="1252.1" cy="83.0" r="4.3"/><path class="er" d="M1280.8,62.3V75.7"/><circle class="mr" cx="1280.8" cy="69.0" r="4.3"/><path class="er" d="M1256.2,75.7V89.8"/><circle class="mr" cx="1256.2" cy="82.8" r="4.3"/><path class="er" d="M1266.6,89.4V99.1"/><circle class="mr" cx="1266.6" cy="94.2" r="4.3"/><path class="er" d="M1265.3,51.5V72.4"/><circle class="mr" cx="1265.3" cy="62.0" r="4.3"/><path class="er" d="M1271.8,66.3V81.5"/><circle class="mr" cx="1271.8" cy="73.9" r="4.3"/><path class="er" d="M1258.6,86.5V96.6"/><circle class="mr" cx="1258.6" cy="91.5" r="4.3"/><path class="er" d="M1279.9,78.4V92.9"/><circle class="mr" cx="1279.9" cy="85.6" r="4.3"/><path class="er" d="M1246.4,55.5V66.4"/><circle class="mr" cx="1246.4" cy="60.9" r="4.3"/><path class="er" d="M1252.7,63.7V78.7"/><circle class="mr" cx="1252.7" cy="71.2" r="4.3"/><path class="er" d="M1399.6,91.4V115.2"/><circle class="mr" cx="1399.6" cy="103.3" r="4.3"/><path class="er" d="M1381.8,92.8V113.8"/><circle class="mr" cx="1381.8" cy="103.3" r="4.3"/><path class="er" d="M1364.1,93.6V111.7"/><circle class="mr" cx="1364.1" cy="102.7" r="4.3"/><path class="er" d="M1351.4,89.5V109.6"/><circle class="mr" cx="1351.4" cy="99.5" r="4.3"/><path class="er" d="M1339.8,89.9V111.4"/><circle class="mr" cx="1339.8" cy="100.7" r="4.3"/><path class="er" d="M1398.7,81.1V108.5"/><circle class="mr" cx="1398.7" cy="94.8" r="4.3"/><path class="er" d="M1293.9,66.9V84.9"/><circle class="mr" cx="1293.9" cy="75.9" r="4.3"/><path class="er" d="M1317.9,67.7V87.9"/><circle class="mr" cx="1317.9" cy="77.8" r="4.3"/><path class="er" d="M1373.8,90.2V113.8"/><circle class="mr" cx="1373.8" cy="102.0" r="4.3"/><path class="er" d="M1374.2,82.9V99.5"/><circle class="mr" cx="1374.2" cy="91.2" r="4.3"/><path class="er" d="M1334.5,90.1V105.1"/><circle class="mr" cx="1334.5" cy="97.6" r="4.3"/><path class="er" d="M1296.8,79.9V107.8"/><circle class="mr" cx="1296.8" cy="93.8" r="4.3"/><path class="er" d="M1301.3,71.0V98.8"/><circle class="mr" cx="1301.3" cy="84.9" r="4.3"/><path class="er" d="M1341.8,72.8V97.2"/><circle class="mr" cx="1341.8" cy="85.0" r="4.3"/><path class="er" d="M1297.3,61.2V83.7"/><circle class="mr" cx="1297.3" cy="72.5" r="4.3"/><path class="er" d="M1358.6,74.7V101.4"/><circle class="mr" cx="1358.6" cy="88.1" r="4.3"/><path class="er" d="M1391.7,93.2V117.4"/><circle class="mr" cx="1391.7" cy="105.3" r="4.3"/><path class="er" d="M1390.6,89.0V102.5"/><circle class="mr" cx="1390.6" cy="95.8" r="4.3"/><path class="er" d="M1363.2,116.2V132.5"/><circle class="mr" cx="1363.2" cy="124.4" r="4.3"/><path class="er" d="M1324.9,106.9V125.1"/><circle class="mr" cx="1324.9" cy="116.0" r="4.3"/><path class="er" d="M1366.7,120.9V129.1"/><circle class="mr" cx="1366.7" cy="125.0" r="4.3"/><path class="er" d="M1324.9,94.1V114.9"/><circle class="mr" cx="1324.9" cy="104.5" r="4.3"/><path class="er" d="M1367.1,119.0V134.8"/><circle class="mr" cx="1367.1" cy="126.9" r="4.3"/><path class="er" d="M1368.7,114.0V137.5"/><circle class="mr" cx="1368.7" cy="125.8" r="4.3"/><path class="er" d="M1368.8,114.6V131.2"/><circle class="mr" cx="1368.8" cy="122.9" r="4.3"/><path class="er" d="M1312.4,111.9V123.1"/><circle class="mr" cx="1312.4" cy="117.5" r="4.3"/><path class="er" d="M1345.2,98.0V120.5"/><circle class="mr" cx="1345.2" cy="109.2" r="4.3"/><path class="er" d="M1318.0,99.8V108.3"/><circle class="mr" cx="1318.0" cy="104.0" r="4.3"/><path class="er" d="M1273.9,118.3V138.8"/><circle class="mr" cx="1273.9" cy="128.6" r="4.3"/><path class="er" d="M1301.6,156.0V169.8"/><circle class="mr" cx="1301.6" cy="162.9" r="4.3"/><path class="er" d="M1284.7,135.5V149.9"/><circle class="mr" cx="1284.7" cy="142.7" r="4.3"/><path class="er" d="M1265.2,99.1V114.5"/><circle class="mr" cx="1265.2" cy="106.8" r="4.3"/><path class="er" d="M1292.6,174.1V184.0"/><circle class="mr" cx="1292.6" cy="179.1" r="4.3"/><path class="er" d="M1290.7,151.5V160.5"/><circle class="mr" cx="1290.7" cy="156.0" r="4.3"/><path class="er" d="M1287.1,168.4V181.5"/><circle class="mr" cx="1287.1" cy="175.0" r="4.3"/><path class="er" d="M1309.5,191.2V204.6"/><circle class="mr" cx="1309.5" cy="197.9" r="4.3"/><path class="er" d="M1281.2,134.7V144.7"/><circle class="mr" cx="1281.2" cy="139.7" r="4.3"/><path class="er" d="M1286.6,121.9V136.4"/><circle class="mr" cx="1286.6" cy="129.1" r="4.3"/><path class="er" d="M1287.7,136.5V148.3"/><circle class="mr" cx="1287.7" cy="142.4" r="4.3"/><path class="er" d="M1300.5,194.2V204.0"/><circle class="mr" cx="1300.5" cy="199.1" r="4.3"/><path class="er" d="M1267.1,117.3V125.3"/><circle class="mr" cx="1267.1" cy="121.3" r="4.3"/><path class="er" d="M1295.6,175.6V181.7"/><circle class="mr" cx="1295.6" cy="178.6" r="4.3"/><path class="er" d="M1307.6,192.2V206.0"/><circle class="mr" cx="1307.6" cy="199.1" r="4.3"/><path class="er" d="M1305.9,172.5V183.3"/><circle class="mr" cx="1305.9" cy="177.9" r="4.3"/><path class="er" d="M1308.2,161.5V196.4"/><circle class="mr" cx="1308.2" cy="179.0" r="4.3"/><path class="er" d="M1268.0,97.9V113.3"/><circle class="mr" cx="1268.0" cy="105.6" r="4.3"/><path class="er" d="M1280.3,124.2V134.5"/><circle class="mr" cx="1280.3" cy="129.3" r="4.3"/><path class="er" d="M1295.0,156.4V171.6"/><circle class="mr" cx="1295.0" cy="164.0" r="4.3"/><path class="er" d="M1272.8,104.7V120.3"/><circle class="mr" cx="1272.8" cy="112.5" r="4.3"/><path class="er" d="M1265.0,94.8V107.3"/><circle class="mr" cx="1265.0" cy="101.0" r="4.3"/><path class="er" d="M1292.9,143.8V149.9"/><circle class="mr" cx="1292.9" cy="146.9" r="4.3"/><path class="er" d="M1291.2,180.7V195.2"/><circle class="mr" cx="1291.2" cy="187.9" r="4.3"/><path class="er" d="M1309.9,181.1V194.7"/><circle class="mr" cx="1309.9" cy="187.9" r="4.3"/><path class="er" d="M1300.5,161.6V172.1"/><circle class="mr" cx="1300.5" cy="166.8" r="4.3"/><path class="er" d="M1266.8,115.1V128.1"/><circle class="mr" cx="1266.8" cy="121.6" r="4.3"/><path class="er" d="M1308.4,177.4V186.8"/><circle class="mr" cx="1308.4" cy="182.1" r="4.3"/><path class="er" d="M1303.5,180.4V192.4"/><circle class="mr" cx="1303.5" cy="186.4" r="4.3"/><path class="er" d="M1283.4,150.7V158.6"/><circle class="mr" cx="1283.4" cy="154.7" r="4.3"/><path class="er" d="M1390.3,175.6V195.3"/><circle class="mr" cx="1390.3" cy="185.4" r="4.3"/><path class="er" d="M1342.6,181.7V190.6"/><circle class="mr" cx="1342.6" cy="186.1" r="4.3"/><path class="er" d="M1398.7,177.4V220.0"/><circle class="mr" cx="1398.7" cy="198.7" r="4.3"/><path class="er" d="M1436.1,201.2V221.2"/><circle class="mr" cx="1436.1" cy="211.2" r="4.3"/><path class="er" d="M1356.2,191.4V206.8"/><circle class="mr" cx="1356.2" cy="199.1" r="4.3"/><path class="er" d="M1409.3,197.9V221.1"/><circle class="mr" cx="1409.3" cy="209.5" r="4.3"/><path class="er" d="M1366.8,185.3V195.9"/><circle class="mr" cx="1366.8" cy="190.6" r="4.3"/><path class="er" d="M1413.8,175.6V189.7"/><circle class="mr" cx="1413.8" cy="182.6" r="4.3"/><path class="er" d="M1811.6,115.0V122.1"/><circle class="mr" cx="1811.6" cy="118.5" r="4.3"/><path class="er" d="M1783.2,115.8V122.0"/><circle class="mr" cx="1783.2" cy="118.9" r="4.3"/><path class="er" d="M1820.3,114.4V121.0"/><circle class="mr" cx="1820.3" cy="117.7" r="4.3"/><path class="er" d="M1822.6,119.5V124.0"/><circle class="mr" cx="1822.6" cy="121.8" r="4.3"/><path class="er" d="M1809.7,117.5V124.8"/><circle class="mr" cx="1809.7" cy="121.2" r="4.3"/><path class="er" d="M1829.1,120.1V127.5"/><circle class="mr" cx="1829.1" cy="123.8" r="4.3"/><path class="er" d="M1798.6,118.3V124.0"/><circle class="mr" cx="1798.6" cy="121.1" r="4.3"/><path class="er" d="M1841.6,126.0V133.3"/><circle class="mr" cx="1841.6" cy="129.7" r="4.3"/><path class="er" d="M1804.2,116.7V122.6"/><circle class="mr" cx="1804.2" cy="119.6" r="4.3"/><path class="er" d="M1804.1,122.3V129.3"/><circle class="mr" cx="1804.1" cy="125.8" r="4.3"/><path class="er" d="M1840.6,130.2V135.5"/><circle class="mr" cx="1840.6" cy="132.9" r="4.3"/><path class="er" d="M1792.3,124.5V132.1"/><circle class="mr" cx="1792.3" cy="128.3" r="4.3"/><path class="er" d="M1837.4,130.2V134.3"/><circle class="mr" cx="1837.4" cy="132.3" r="4.3"/><path class="er" d="M1799.9,114.5V122.0"/><circle class="mr" cx="1799.9" cy="118.3" r="4.3"/><path class="er" d="M1794.9,122.4V127.4"/><circle class="mr" cx="1794.9" cy="124.9" r="4.3"/><path class="er" d="M1810.3,116.0V121.3"/><circle class="mr" cx="1810.3" cy="118.6" r="4.3"/><path class="er" d="M1792.3,129.3V134.5"/><circle class="mr" cx="1792.3" cy="131.9" r="4.3"/><path class="er" d="M1815.9,123.7V128.5"/><circle class="mr" cx="1815.9" cy="126.1" r="4.3"/><path class="er" d="M1844.8,132.0V137.1"/><circle class="mr" cx="1844.8" cy="134.5" r="4.3"/><path class="er" d="M1795.9,121.4V125.6"/><circle class="mr" cx="1795.9" cy="123.5" r="4.3"/><path class="er" d="M1822.4,112.2V117.2"/><circle class="mr" cx="1822.4" cy="114.7" r="4.3"/><path class="er" d="M1799.8,113.0V118.0"/><circle class="mr" cx="1799.8" cy="115.5" r="4.3"/><path class="er" d="M1821.0,127.2V133.8"/><circle class="mr" cx="1821.0" cy="130.5" r="4.3"/><path class="er" d="M1823.6,127.5V132.9"/><circle class="mr" cx="1823.6" cy="130.2" r="4.3"/><path class="er" d="M1824.3,111.3V117.4"/><circle class="mr" cx="1824.3" cy="114.3" r="4.3"/>
<path d="M1196,239.42 L1197.5,234.33 L1199,229.16 L1200.5,223.91 L1202,218.61 L1203.5,213.25 L1205,207.87 L1206.5,202.46 L1208,197.04 L1209.5,191.62 L1211,186.21 L1212.5,180.82 L1214,175.48 L1215.5,170.18 L1217,164.94 L1218.5,159.78 L1220,154.7 L1221.5,149.71 L1223,144.84 L1224.5,140.08 L1226,135.46 L1227.5,130.98 L1229,126.66 L1230.5,122.51 L1232,118.53 L1233.5,114.73 L1235,111.11 L1236.5,107.68 L1238,104.43 L1239.5,101.36 L1241,98.49 L1242.5,95.82 L1244,93.33 L1245.5,91.05 L1247,88.97 L1248.5,87.08 L1250,85.41 L1251.5,83.94 L1253,82.68 L1254.5,81.63 L1256,80.78 L1257.5,80.14 L1259,79.69 L1260.5,79.44 L1262,79.37 L1263.5,79.48 L1265,79.78 L1266.5,80.25 L1268,80.89 L1269.5,81.7 L1271,82.67 L1272.5,83.79 L1274,85.06 L1275.5,86.46 L1277,87.99 L1278.5,89.63 L1280,91.38 L1281.5,93.22 L1283,95.14 L1284.5,97.14 L1286,99.2 L1287.5,101.32 L1289,103.48 L1290.5,105.68 L1292,107.9 L1293.5,110.14 L1295,112.38 L1296.5,114.62 L1298,116.85 L1299.5,119.07 L1301,121.29 L1302.5,123.49 L1304,125.66 L1305.5,127.82 L1307,129.95 L1308.5,132.05 L1310,134.11 L1311.5,136.14 L1313,138.13 L1314.5,140.08 L1316,141.97 L1317.5,143.82 L1319,145.61 L1320.5,147.35 L1322,149.02 L1323.5,150.63 L1325,152.17 L1326.5,153.63 L1328,155.02 L1329.5,156.34 L1331,157.57 L1332.5,158.71 L1334,159.76 L1335.5,160.72 L1337,161.59 L1338.5,162.35 L1340,163.01 L1341.5,163.56 L1343,164 L1344.5,164.33 L1346,164.56 L1347.5,164.69 L1349,164.73 L1350.5,164.69 L1352,164.57 L1353.5,164.39 L1355,164.14 L1356.5,163.84 L1358,163.49 L1359.5,163.1 L1361,162.67 L1362.5,162.21 L1364,161.74 L1365.5,161.25 L1367,160.76 L1368.5,160.26 L1370,159.78 L1371.5,159.3 L1373,158.85 L1374.5,158.42 L1376,158.03 L1377.5,157.68 L1379,157.38 L1380.5,157.14 L1382,156.96 L1383.5,156.84 L1385,156.8 L1386.5,156.83 L1388,156.92 L1389.5,157.08 L1391,157.29 L1392.5,157.57 L1394,157.89 L1395.5,158.27 L1397,158.7 L1398.5,159.17 L1400,159.69 L1401.5,160.24 L1403,160.83 L1404.5,161.45 L1406,162.1 L1407.5,162.78 L1409,163.49 L1410.5,164.21 L1412,164.95 L1413.5,165.71 L1415,166.48 L1416.5,167.26 L1418,168.05 L1419.5,168.84 L1421,169.62 L1422.5,170.41 L1424,171.19 L1425.5,171.96 L1427,172.72 L1428.5,173.46 L1430,174.19 L1431.5,174.9 L1433,175.58 L1434.5,176.23 L1436,176.86 L1437.5,177.45 L1439,178.01 L1440.5,178.52 L1442,179 L1443.5,179.43 L1445,179.83 L1446.5,180.19 L1448,180.51 L1449.5,180.79 L1451,181.04 L1452.5,181.26 L1454,181.45 L1455.5,181.61 L1457,181.74 L1458.5,181.85 L1460,181.93 L1461.5,182 L1463,182.04 L1464.5,182.06 L1466,182.06 L1467.5,182.05 L1469,182.03 L1470.5,181.99 L1472,181.94 L1473.5,181.88 L1475,181.81 L1476.5,181.74 L1478,181.66 L1479.5,181.57 L1481,181.48 L1482.5,181.38 L1484,181.28 L1485.5,181.17 L1487,181.06 L1488.5,180.94 L1490,180.82 L1491.5,180.69 L1493,180.56 L1494.5,180.43 L1496,180.29 L1497.5,180.15 L1499,180.01 L1500.5,179.87 L1502,179.72 L1503.5,179.57 L1505,179.42 L1506.5,179.27 L1508,179.12 L1509.5,178.96 L1511,178.81 L1512.5,178.65 L1514,178.5 L1515.5,178.34 L1517,178.19 L1518.5,178.04 L1520,177.89 L1521.5,177.73 L1523,177.59 L1524.5,177.44 L1526,177.29 L1527.5,177.15 L1529,177.01 L1530.5,176.87 L1532,176.74 L1533.5,176.61 L1535,176.48 L1536.5,176.36 L1538,176.24 L1539.5,176.12 L1541,176.01 L1542.5,175.91 L1544,175.81 L1545.5,175.72 L1547,175.63 L1548.5,175.55 L1550,175.47 L1551.5,175.4 L1553,175.34 L1554.5,175.28 L1556,175.22 L1557.5,175.17 L1559,175.13 L1560.5,175.09 L1562,175.05 L1563.5,175.02 L1565,174.99 L1566.5,174.97 L1568,174.95 L1569.5,174.93 L1571,174.92 L1572.5,174.91 L1574,174.91 L1575.5,174.9 L1577,174.9 L1578.5,174.9 L1580,174.9 L1581.5,174.91 L1583,174.92 L1584.5,174.92 L1586,174.93 L1587.5,174.94 L1589,174.96 L1590.5,174.97 L1592,174.98 L1593.5,175 L1595,175.01 L1596.5,175.03 L1598,175.04 L1599.5,175.06 L1601,175.07 L1602.5,175.08 L1604,175.1 L1605.5,175.11 L1607,175.12 L1608.5,175.13 L1610,175.13 L1611.5,175.14 L1613,175.14 L1614.5,175.14 L1616,175.14 L1617.5,175.14 L1619,175.13 L1620.5,175.13 L1622,175.11 L1623.5,175.1 L1625,175.08 L1626.5,175.06 L1628,175.03 L1629.5,175 L1631,174.97 L1632.5,174.93 L1634,174.89 L1635.5,174.84 L1637,174.79 L1638.5,174.74 L1640,174.68 L1641.5,174.63 L1643,174.58 L1644.5,174.52 L1646,174.48 L1647.5,174.43 L1649,174.4 L1650.5,174.37 L1652,174.35 L1653.5,174.33 L1655,174.33 L1656.5,174.34 L1658,174.36 L1659.5,174.4 L1661,174.45 L1662.5,174.52 L1664,174.6 L1665.5,174.71 L1667,174.83 L1668.5,174.97 L1670,175.14 L1671.5,175.33 L1673,175.54 L1674.5,175.78 L1676,176.05 L1677.5,176.34 L1679,176.66 L1680.5,177.01 L1682,177.4 L1683.5,177.81 L1685,178.26 L1686.5,178.75 L1688,179.26 L1689.5,179.8 L1691,180.37 L1692.5,180.95 L1694,181.56 L1695.5,182.18 L1697,182.81 L1698.5,183.45 L1700,184.09 L1701.5,184.74 L1703,185.38 L1704.5,186.03 L1706,186.66 L1707.5,187.29 L1709,187.9 L1710.5,188.49 L1712,189.07 L1713.5,189.62 L1715,190.15 L1716.5,190.65 L1718,191.13 L1719.5,191.58 L1721,192.01 L1722.5,192.41 L1724,192.79 L1725.5,193.15 L1727,193.48 L1728.5,193.8 L1730,194.09 L1731.5,194.36 L1733,194.61 L1734.5,194.85 L1736,195.06 L1737.5,195.25 L1739,195.43 L1740.5,195.58 L1742,195.72 L1743.5,195.85 L1745,195.95 L1746.5,196.05 L1748,196.12 L1749.5,196.18 L1751,196.23 L1752.5,196.26 L1754,196.28 L1755.5,196.28 L1757,196.28 L1758.5,196.26 L1760,196.23 L1761.5,196.19 L1763,196.13 L1764.5,196.07 L1766,196 L1767.5,195.92 L1769,195.83 L1770.5,195.73 L1772,195.63 L1773.5,195.53 L1775,195.43 L1776.5,195.33 L1778,195.25 L1779.5,195.17 L1781,195.12 L1782.5,195.08 L1784,195.06 L1785.5,195.07 L1787,195.11 L1788.5,195.19 L1790,195.3 L1791.5,195.45 L1793,195.64 L1794.5,195.87 L1796,196.14 L1797.5,196.45 L1799,196.8 L1800.5,197.19 L1802,197.62 L1803.5,198.09 L1805,198.59 L1806.5,199.13 L1808,199.7 L1809.5,200.31 L1811,200.95 L1812.5,201.63 L1814,202.34 L1815.5,203.09 L1817,203.87 L1818.5,204.68 L1820,205.52 L1821.5,206.39 L1823,207.29 L1824.5,208.23 L1826,209.19 L1827.5,210.18 L1829,211.2 L1830.5,212.24 L1832,213.32 L1833.5,214.42 L1835,215.55 L1836.5,216.7 L1838,217.88 L1839.5,219.08 L1841,220.3 L1842.5,221.55 L1844,222.82 L1845.5,224.12 L1847,225.44 L1848.5,226.77 L1850,228.13 L1851.5,229.51 L1853,230.91 L1854.5,232.33 L1856,233.76 L1857.5,235.22 L1859,236.7 L1860.5,238.2 L1862,239.72 L1863.5,241.26 L1865,242.82 L1866.5,244.41 L1868,246.02 L1869.5,247.65 L1871,249.3 L1872.5,250.97 L1874,252.67 L1875.5,254.39 L1877,256.13 L1878.5,257.9 L1880,259.69 L1881.5,261.51 L1883,263.35 L1884.5,265.21 L1886,267.1 L1887.5,269.02 L1889,270.96 L1890.5,272.92 L1892,274.92 L1893.5,276.93 L1895,278.98 L1896.5,281.05 L1898,283.15 L1899.5,285.27 L1901,287.42 L1902.5,289.6 L1904,291.81 L1905.5,294.05 L1907,296.31 L1908.5,298.6 L1910,300.93 L1911.5,303.28 L1913,305.66 L1914.5,308.07 L1916,310.5 L1917.5,312.97 L1919,315.45 L1920.5,317.96 L1922,320.49 L1923.5,323.02 L1925,325.58 L1926.5,328.14 L1928,330.71 L1929.5,333.28 L1931,335.85 L1932.5,338.42 L1934,340.99 L1935.5,343.55 L1937,346.1 L1938.5,348.64 L1940,351.16 L1941.5,353.66 L1943,356.15 L1944.5,358.61 L1946,361.04 L1947.5,363.45 L1949,365.82 L1950.5,368.16 L1952,370.46 L1953.5,372.72 L1955,374.94 L1956.5,377.12 L1958,379.24 L1959.5,381.32 L1961,383.34 L1962.5,385.3 L1964,387.21 L1965.5,389.05 L1967,390.83 L1968.5,392.54 L1970,394.19 L1971.5,395.75 L1973,397.25 L1974.5,398.66 L1976,400 L1977.5,401.25 L1979,402.41 L1980.5,403.49 L1982,404.47 L1983.5,405.36 L1985,406.15 L1986.5,406.84 L1988,407.43 L1989.5,407.91 L1991,408.28 L1992.5,408.55 L1994,408.7 L1995.5,408.73 L1997,408.64 L1998.5,408.43 L1999.9,408.12" fill="none" stroke="#ff0000" stroke-width="3.7" stroke-linejoin="round"/>
</g>
<g clip-path="url(#c3)">
<path d="M166.1,922.19 L167.6,921.88 L169.1,921.56 L170.6,921.23 L172.1,920.89 L173.6,920.55 L175.1,920.2 L176.6,919.84 L178.1,919.48 L179.6,919.11 L181.1,918.74 L182.6,918.36 L184.1,917.97 L185.6,917.59 L187.1,917.2 L188.6,916.8 L190.1,916.4 L191.6,916 L193.1,915.6 L194.6,915.19 L196.1,914.78 L197.6,914.37 L199.1,913.96 L200.6,913.54 L202.1,913.13 L203.6,912.71 L205.1,912.3 L206.6,911.88 L208.1,911.47 L209.6,911.05 L211.1,910.64 L212.6,910.23 L214.1,909.82 L215.6,909.41 L217.1,909 L218.6,908.6 L220.1,908.19 L221.6,907.8 L223.1,907.4 L224.6,907.01 L226.1,906.62 L227.6,906.24 L229.1,905.86 L230.6,905.49 L232.1,905.12 L233.6,904.75 L235.1,904.4 L236.6,904.05 L238.1,903.7 L239.6,903.37 L241.1,903.03 L242.6,902.71 L244.1,902.4 L245.6,902.09 L247.1,901.79 L248.6,901.5 L250.1,901.22 L251.6,900.95 L253.1,900.68 L254.6,900.43 L256.1,900.19 L257.6,899.96 L259.1,899.74 L260.6,899.53 L262.1,899.33 L263.6,899.14 L265.1,898.97 L266.6,898.8 L268.1,898.65 L269.6,898.52 L271.1,898.39 L272.6,898.28 L274.1,898.19 L275.6,898.11 L277.1,898.04 L278.6,897.99 L280.1,897.95 L281.6,897.93 L283.1,897.92 L284.6,897.93 L286.1,897.95 L287.6,897.99 L289.1,898.04 L290.6,898.1 L292.1,898.18 L293.6,898.28 L295.1,898.39 L296.6,898.51 L298.1,898.65 L299.6,898.8 L301.1,898.96 L302.6,899.14 L304.1,899.33 L305.6,899.54 L307.1,899.76 L308.6,899.99 L310.1,900.23 L311.6,900.49 L313.1,900.77 L314.6,901.05 L316.1,901.35 L317.6,901.66 L319.1,901.98 L320.6,902.32 L322.1,902.67 L323.6,903.03 L325.1,903.41 L326.6,903.79 L328.1,904.19 L329.6,904.6 L331.1,905.03 L332.6,905.46 L334.1,905.91 L335.6,906.37 L337.1,906.84 L338.6,907.32 L340.1,907.81 L341.6,908.32 L343.1,908.84 L344.6,909.37 L346.1,909.9 L347.6,910.45 L349.1,911.02 L350.6,911.59 L352.1,912.17 L353.6,912.77 L355.1,913.37 L356.6,913.99 L358.1,914.61 L359.6,915.25 L361.1,915.9 L362.6,916.56 L364.1,917.23 L365.6,917.91 L367.1,918.6 L368.6,919.3 L370.1,920.01 L371.6,920.73 L373.1,921.46 L374.6,922.2 L376.1,922.95 L377.6,923.71 L379.1,924.48 L380.6,925.26 L382.1,926.05 L383.6,926.85 L385.1,927.66 L386.6,928.48 L388.1,929.31 L389.6,930.15 L391.1,931 L392.6,931.86 L394.1,932.72 L395.6,933.6 L397.1,934.49 L398.6,935.38 L400.1,936.29 L401.6,937.2 L403.1,938.12 L404.6,939.05 L406.1,939.99 L407.6,940.94 L409.1,941.9 L410.6,942.87 L412.1,943.85 L413.6,944.83 L415.1,945.82 L416.6,946.83 L418.1,947.84 L419.6,948.86 L421.1,949.88 L422.6,950.92 L424.1,951.96 L425.6,953.02 L427.1,954.08 L428.6,955.14 L430.1,956.22 L431.6,957.31 L433.1,958.4 L434.6,959.5 L436.1,960.61 L437.6,961.73 L439.1,962.85 L440.6,963.98 L442.1,965.12 L443.6,966.27 L445.1,967.43 L446.6,968.59 L448.1,969.76 L449.6,970.94 L451.1,972.12 L452.6,973.31 L454.1,974.51 L455.6,975.72 L457.1,976.93 L458.6,978.16 L460.1,979.38 L461.6,980.62 L463.1,981.86 L464.6,983.11 L466.1,984.37 L467.6,985.63 L469.1,986.9 L470.6,988.17 L472.1,989.45 L473.6,990.74 L475.1,992.04 L476.6,993.34 L478.1,994.65 L479.6,995.96 L481.1,997.29 L482.6,998.61 L484.1,999.95 L485.6,1001.28 L487.1,1002.63 L488.6,1003.98 L490.1,1005.34 L491.6,1006.7 L493.1,1008.07 L494.6,1009.45 L496.1,1010.83 L497.6,1012.21 L499.1,1013.61 L500.6,1015 L502.1,1016.41 L503.6,1017.82 L505.1,1019.23 L506.6,1020.66 L508.1,1022.08 L509.6,1023.51 L511.1,1024.95 L512.6,1026.4 L514.1,1027.85 L515.6,1029.3 L517.1,1030.76 L518.6,1032.23 L520.1,1033.7 L521.6,1035.18 L523.1,1036.67 L524.6,1038.16 L526.1,1039.65 L527.6,1041.15 L529.1,1042.66 L530.6,1044.17 L532.1,1045.69 L533.6,1047.21 L535.1,1048.74 L536.6,1050.27 L538.1,1051.81 L539.6,1053.36 L541.1,1054.91 L542.6,1056.47 L544.1,1058.03 L545.6,1059.6 L547.1,1061.17 L548.6,1062.75 L550.1,1064.33 L551.6,1065.91 L553.1,1067.5 L554.6,1069.09 L556.1,1070.69 L557.6,1072.29 L559.1,1073.89 L560.6,1075.5 L562.1,1077.11 L563.6,1078.72 L565.1,1080.34 L566.6,1081.95 L568.1,1083.57 L569.6,1085.19 L571.1,1086.82 L572.6,1088.44 L574.1,1090.07 L575.6,1091.7 L577.1,1093.33 L578.6,1094.96 L580.1,1096.59 L581.6,1098.22 L583.1,1099.85 L584.6,1101.48 L586.1,1103.11 L587.6,1104.74 L589.1,1106.37 L590.6,1108 L592.1,1109.63 L593.6,1111.26 L595.1,1112.89 L596.6,1114.51 L598.1,1116.14 L599.6,1117.76 L601.1,1119.38 L602.6,1121 L604.1,1122.62 L605.6,1124.23 L607.1,1125.84 L608.6,1127.45 L610.1,1129.06 L611.6,1130.66 L613.1,1132.26 L614.6,1133.85 L616.1,1135.44 L617.6,1137.03 L619.1,1138.61 L620.6,1140.19 L622.1,1141.77 L623.6,1143.34 L625.1,1144.9 L626.6,1146.46 L628.1,1148.02 L629.6,1149.57 L631.1,1151.11 L632.6,1152.65 L634.1,1154.19 L635.6,1155.72 L637.1,1157.25 L638.6,1158.77 L640.1,1160.29 L641.6,1161.8 L643.1,1163.31 L644.6,1164.82 L646.1,1166.32 L647.6,1167.82 L649.1,1169.31 L650.6,1170.8 L652.1,1172.28 L653.6,1173.77 L655.1,1175.24 L656.6,1176.72 L658.1,1178.19 L659.6,1179.66 L661.1,1181.12 L662.6,1182.58 L664.1,1184.04 L665.6,1185.49 L667.1,1186.94 L668.6,1188.39 L670.1,1189.83 L671.6,1191.28 L673.1,1192.72 L674.6,1194.15 L676.1,1195.59 L677.6,1197.02 L679.1,1198.44 L680.6,1199.87 L682.1,1201.29 L683.6,1202.72 L685.1,1204.13 L686.6,1205.55 L688.1,1206.97 L689.6,1208.38 L691.1,1209.79 L692.6,1211.2 L694.1,1212.6 L695.6,1214.01 L697.1,1215.41 L698.6,1216.81 L700.1,1218.21 L701.6,1219.61 L703.1,1221.01 L704.6,1222.4 L706.1,1223.8 L707.6,1225.19 L709.1,1226.58 L710.6,1227.97 L712.1,1229.36 L713.6,1230.75 L715.1,1232.14 L716.6,1233.53 L718.1,1234.92 L719.6,1236.3 L721.1,1237.69 L722.6,1239.07 L724.1,1240.46 L725.6,1241.84 L727.1,1243.22 L728.6,1244.61 L730.1,1245.99 L731.6,1247.37 L733.1,1248.75 L734.6,1250.13 L736.1,1251.51 L737.6,1252.88 L739.1,1254.26 L740.6,1255.63 L742.1,1257 L743.6,1258.37 L745.1,1259.74 L746.6,1261.11 L748.1,1262.48 L749.6,1263.84 L751.1,1265.2 L752.6,1266.56 L754.1,1267.91 L755.6,1269.27 L757.1,1270.62 L758.6,1271.97 L760.1,1273.31 L761.6,1274.66 L763.1,1276 L764.6,1277.33 L766.1,1278.67 L767.6,1280 L769.1,1281.32 L770.6,1282.65 L772.1,1283.97 L773.6,1285.28 L775.1,1286.6 L776.6,1287.91 L778.1,1289.21 L779.6,1290.51 L781.1,1291.81 L782.6,1293.1 L784.1,1294.39 L785.6,1295.67 L787.1,1296.95 L788.6,1298.23 L790.1,1299.49 L791.6,1300.76 L793.1,1302.02 L794.6,1303.27 L796.1,1304.52 L797.6,1305.77 L799.1,1307.01 L800.6,1308.24 L802.1,1309.47 L803.6,1310.69 L805.1,1311.91 L806.6,1313.12 L808.1,1314.32 L809.6,1315.52 L811.1,1316.71 L812.6,1317.9 L814.1,1319.08 L815.6,1320.25 L817.1,1321.41 L818.6,1322.57 L820.1,1323.73 L821.6,1324.87 L823.1,1326.01 L824.6,1327.14 L826.1,1328.27 L827.6,1329.39 L829.1,1330.5 L830.6,1331.6 L832.1,1332.69 L833.6,1333.78 L835.1,1334.86 L836.6,1335.93 L838.1,1337 L839.6,1338.05 L841.1,1339.1 L842.6,1340.14 L844.1,1341.17 L845.6,1342.19 L847.1,1343.21 L848.6,1344.21 L850.1,1345.21 L851.6,1346.19 L853.1,1347.17 L854.6,1348.14 L856.1,1349.1 L857.6,1350.05 L859.1,1350.99 L860.6,1351.92 L862.1,1352.84 L863.6,1353.74 L865.1,1354.63 L866.6,1355.51 L868.1,1356.38 L869.6,1357.23 L871.1,1358.07 L872.6,1358.89 L874.1,1359.7 L875.6,1360.49 L877.1,1361.27 L878.6,1362.03 L880.1,1362.77 L881.6,1363.49 L883.1,1364.19 L884.6,1364.88 L886.1,1365.54 L887.6,1366.19 L889.1,1366.81 L890.6,1367.41 L892.1,1368 L893.6,1368.56 L895.1,1369.09 L896.6,1369.61 L898.1,1370.1 L899.6,1370.56 L901.1,1371 L902.6,1371.42 L904.1,1371.81 L905.6,1372.18 L907.1,1372.51 L908.6,1372.82 L910.1,1373.11 L911.6,1373.36 L913.1,1373.59 L914.6,1373.78 L916.1,1373.95 L917.6,1374.09 L919.1,1374.19 L920.6,1374.27 L922.1,1374.31 L923.6,1374.32 L925.1,1374.3 L926.6,1374.24 L928.1,1374.15 L929.6,1374.03 L931.1,1373.87 L932.6,1373.68 L934.1,1373.45 L934.3,1373.41 L934.3,1499.94 L934,1499.76 L932.5,1498.84 L931,1497.91 L929.5,1496.99 L928,1496.06 L926.5,1495.13 L925,1494.19 L923.5,1493.25 L922,1492.31 L920.5,1491.36 L919,1490.41 L917.5,1489.46 L916,1488.51 L914.5,1487.55 L913,1486.59 L911.5,1485.62 L910,1484.65 L908.5,1483.68 L907,1482.71 L905.5,1481.73 L904,1480.75 L902.5,1479.76 L901,1478.77 L899.5,1477.78 L898,1476.79 L896.5,1475.79 L895,1474.79 L893.5,1473.78 L892,1472.78 L890.5,1471.76 L889,1470.75 L887.5,1469.73 L886,1468.71 L884.5,1467.69 L883,1466.66 L881.5,1465.63 L880,1464.59 L878.5,1463.55 L877,1462.51 L875.5,1461.47 L874,1460.42 L872.5,1459.37 L871,1458.31 L869.5,1457.25 L868,1456.19 L866.5,1455.12 L865,1454.05 L863.5,1452.98 L862,1451.91 L860.5,1450.83 L859,1449.74 L857.5,1448.66 L856,1447.57 L854.5,1446.47 L853,1445.38 L851.5,1444.28 L850,1443.17 L848.5,1442.07 L847,1440.96 L845.5,1439.84 L844,1438.72 L842.5,1437.6 L841,1436.48 L839.5,1435.35 L838,1434.22 L836.5,1433.08 L835,1431.94 L833.5,1430.8 L832,1429.66 L830.5,1428.51 L829,1427.35 L827.5,1426.2 L826,1425.04 L824.5,1423.87 L823,1422.71 L821.5,1421.54 L820,1420.36 L818.5,1419.18 L817,1418 L815.5,1416.82 L814,1415.63 L812.5,1414.44 L811,1413.24 L809.5,1412.04 L808,1410.84 L806.5,1409.63 L805,1408.42 L803.5,1407.2 L802,1405.99 L800.5,1404.77 L799,1403.54 L797.5,1402.31 L796,1401.08 L794.5,1399.84 L793,1398.6 L791.5,1397.36 L790,1396.11 L788.5,1394.86 L787,1393.61 L785.5,1392.35 L784,1391.09 L782.5,1389.82 L781,1388.55 L779.5,1387.28 L778,1386 L776.5,1384.72 L775,1383.43 L773.5,1382.15 L772,1380.85 L770.5,1379.56 L769,1378.26 L767.5,1376.96 L766,1375.65 L764.5,1374.34 L763,1373.02 L761.5,1371.7 L760,1370.38 L758.5,1369.06 L757,1367.73 L755.5,1366.39 L754,1365.06 L752.5,1363.71 L751,1362.37 L749.5,1361.02 L748,1359.67 L746.5,1358.31 L745,1356.95 L743.5,1355.59 L742,1354.22 L740.5,1352.85 L739,1351.47 L737.5,1350.09 L736,1348.71 L734.5,1347.32 L733,1345.93 L731.5,1344.53 L730,1343.13 L728.5,1341.73 L727,1340.32 L725.5,1338.91 L724,1337.5 L722.5,1336.08 L721,1334.65 L719.5,1333.23 L718,1331.8 L716.5,1330.36 L715,1328.92 L713.5,1327.48 L712,1326.03 L710.5,1324.58 L709,1323.13 L707.5,1321.67 L706,1320.21 L704.5,1318.74 L703,1317.27 L701.5,1315.8 L700,1314.32 L698.5,1312.84 L697,1311.35 L695.5,1309.86 L694,1308.36 L692.5,1306.87 L691,1305.36 L689.5,1303.86 L688,1302.35 L686.5,1300.83 L685,1299.31 L683.5,1297.79 L682,1296.26 L680.5,1294.73 L679,1293.2 L677.5,1291.66 L676,1290.11 L674.5,1288.57 L673,1287.02 L671.5,1285.46 L670,1283.9 L668.5,1282.34 L667,1280.77 L665.5,1279.2 L664,1277.62 L662.5,1276.04 L661,1274.46 L659.5,1272.87 L658,1271.27 L656.5,1269.68 L655,1268.08 L653.5,1266.47 L652,1264.87 L650.5,1263.26 L649,1261.66 L647.5,1260.05 L646,1258.44 L644.5,1256.83 L643,1255.23 L641.5,1253.63 L640,1252.03 L638.5,1250.43 L637,1248.84 L635.5,1247.25 L634,1245.67 L632.5,1244.09 L631,1242.52 L629.5,1240.96 L628,1239.41 L626.5,1237.86 L625,1236.32 L623.5,1234.8 L622,1233.28 L620.5,1231.77 L619,1230.27 L617.5,1228.78 L616,1227.3 L614.5,1225.82 L613,1224.35 L611.5,1222.89 L610,1221.44 L608.5,1219.99 L607,1218.55 L605.5,1217.12 L604,1215.69 L602.5,1214.27 L601,1212.85 L599.5,1211.44 L598,1210.03 L596.5,1208.62 L595,1207.22 L593.5,1205.82 L592,1204.43 L590.5,1203.04 L589,1201.65 L587.5,1200.26 L586,1198.88 L584.5,1197.49 L583,1196.11 L581.5,1194.73 L580,1193.35 L578.5,1191.97 L577,1190.59 L575.5,1189.21 L574,1187.83 L572.5,1186.44 L571,1185.06 L569.5,1183.68 L568,1182.29 L566.5,1180.9 L565,1179.51 L563.5,1178.11 L562,1176.71 L560.5,1175.31 L559,1173.91 L557.5,1172.5 L556,1171.08 L554.5,1169.67 L553,1168.24 L551.5,1166.81 L550,1165.38 L548.5,1163.94 L547,1162.49 L545.5,1161.04 L544,1159.58 L542.5,1158.11 L541,1156.63 L539.5,1155.15 L538,1153.66 L536.5,1152.16 L535,1150.65 L533.5,1149.13 L532,1147.61 L530.5,1146.08 L529,1144.55 L527.5,1143.01 L526,1141.47 L524.5,1139.92 L523,1138.37 L521.5,1136.82 L520,1135.27 L518.5,1133.72 L517,1132.17 L515.5,1130.62 L514,1129.07 L512.5,1127.52 L511,1125.97 L509.5,1124.43 L508,1122.89 L506.5,1121.35 L505,1119.82 L503.5,1118.3 L502,1116.78 L500.5,1115.27 L499,1113.76 L497.5,1112.27 L496,1110.78 L494.5,1109.29 L493,1107.82 L491.5,1106.35 L490,1104.89 L488.5,1103.44 L487,1101.99 L485.5,1100.55 L484,1099.12 L482.5,1097.7 L481,1096.28 L479.5,1094.87 L478,1093.47 L476.5,1092.08 L475,1090.69 L473.5,1089.31 L472,1087.94 L470.5,1086.58 L469,1085.22 L467.5,1083.87 L466,1082.53 L464.5,1081.2 L463,1079.87 L461.5,1078.55 L460,1077.24 L458.5,1075.94 L457,1074.65 L455.5,1073.36 L454,1072.08 L452.5,1070.81 L451,1069.55 L449.5,1068.29 L448,1067.04 L446.5,1065.8 L445,1064.57 L443.5,1063.35 L442,1062.13 L440.5,1060.92 L439,1059.72 L437.5,1058.53 L436,1057.35 L434.5,1056.17 L433,1055 L431.5,1053.85 L430,1052.69 L428.5,1051.55 L427,1050.42 L425.5,1049.29 L424,1048.17 L422.5,1047.06 L421,1045.96 L419.5,1044.87 L418,1043.78 L416.5,1042.71 L415,1041.64 L413.5,1040.58 L412,1039.53 L410.5,1038.48 L409,1037.45 L407.5,1036.42 L406,1035.41 L404.5,1034.4 L403,1033.4 L401.5,1032.41 L400,1031.42 L398.5,1030.45 L397,1029.48 L395.5,1028.53 L394,1027.58 L392.5,1026.64 L391,1025.71 L389.5,1024.79 L388,1023.88 L386.5,1022.97 L385,1022.08 L383.5,1021.19 L382,1020.32 L380.5,1019.45 L379,1018.59 L377.5,1017.74 L376,1016.9 L374.5,1016.06 L373,1015.24 L371.5,1014.43 L370,1013.62 L368.5,1012.83 L367,1012.04 L365.5,1011.26 L364,1010.5 L362.5,1009.74 L361,1008.99 L359.5,1008.25 L358,1007.52 L356.5,1006.79 L355,1006.08 L353.5,1005.38 L352,1004.69 L350.5,1004 L349,1003.33 L347.5,1002.66 L346,1002.01 L344.5,1001.36 L343,1000.72 L341.5,1000.1 L340,999.48 L338.5,998.87 L337,998.27 L335.5,997.69 L334,997.11 L332.5,996.54 L331,995.98 L329.5,995.43 L328,994.89 L326.5,994.36 L325,993.84 L323.5,993.33 L322,992.83 L320.5,992.34 L319,991.86 L317.5,991.39 L316,990.93 L314.5,990.48 L313,990.04 L311.5,989.61 L310,989.19 L308.5,988.78 L307,988.38 L305.5,987.99 L304,987.61 L302.5,987.24 L301,986.88 L299.5,986.53 L298,986.19 L296.5,985.86 L295,985.54 L293.5,985.23 L292,984.94 L290.5,984.65 L289,984.37 L287.5,984.1 L286,983.85 L284.5,983.61 L283,983.37 L281.5,983.15 L280,982.94 L278.5,982.75 L277,982.56 L275.5,982.39 L274,982.24 L272.5,982.09 L271,981.96 L269.5,981.85 L268,981.75 L266.5,981.66 L265,981.59 L263.5,981.54 L262,981.5 L260.5,981.48 L259,981.47 L257.5,981.48 L256,981.51 L254.5,981.55 L253,981.62 L251.5,981.7 L250,981.8 L248.5,981.91 L247,982.05 L245.5,982.21 L244,982.38 L242.5,982.58 L241,982.79 L239.5,983.03 L238,983.28 L236.5,983.56 L235,983.86 L233.5,984.18 L232,984.52 L230.5,984.89 L229,985.28 L227.5,985.69 L226,986.12 L224.5,986.58 L223,987.06 L221.5,987.57 L220,988.1 L218.5,988.65 L217,989.23 L215.5,989.83 L214,990.46 L212.5,991.12 L211,991.8 L209.5,992.51 L208,993.25 L206.5,994.01 L205,994.81 L203.5,995.62 L202,996.47 L200.5,997.35 L199,998.25 L197.5,999.18 L196,1000.15 L194.5,1001.14 L193,1002.16 L191.5,1003.22 L190,1004.3 L188.5,1005.41 L187,1006.56 L185.5,1007.74 L184,1008.95 L182.5,1010.19 L181,1011.46 L179.5,1012.77 L178,1014.11 L176.5,1015.48 L175,1016.89 L173.5,1018.33 L172,1019.8 L170.5,1021.31 L169,1022.85 L167.5,1024.43 L166,1026.05 Z" fill="#008000" fill-opacity="0.5"/>
<path class="eg" d="M123.6,1095.5V1109.5"/><circle class="mg" cx="123.6" cy="1102.5" r="4.3"/><path class="eg" d="M116.5,826.5V862.1"/><circle class="mg" cx="116.5" cy="844.3" r="4.3"/><path class="eg" d="M148.7,807.4V850.8"/><circle class="mg" cx="148.7" cy="829.1" r="4.3"/><path class="eg" d="M159.3,852.4V883.6"/><circle class="mg" cx="159.3" cy="868.0" r="4.3"/><path class="eg" d="M201.6,853.9V887.9"/><circle class="mg" cx="201.6" cy="870.9" r="4.3"/><path class="eg" d="M219.4,851.2V886.8"/><circle class="mg" cx="219.4" cy="869.0" r="4.3"/><path class="eg" d="M215.8,824.0V840.0"/><circle class="mg" cx="215.8" cy="832.0" r="4.3"/><path class="eg" d="M226.5,828.0V841.0"/><circle class="mg" cx="226.5" cy="834.5" r="4.3"/><path class="eg" d="M237.1,846.6V858.6"/><circle class="mg" cx="237.1" cy="852.6" r="4.3"/><path class="eg" d="M241.2,868.0V954.0"/><circle class="mg" cx="241.2" cy="911.0" r="4.3"/><path class="eg" d="M255.2,876.5V890.5"/><circle class="mg" cx="255.2" cy="883.5" r="4.3"/><path class="eg" d="M271.9,884.4V896.4"/><circle class="mg" cx="271.9" cy="890.4" r="4.3"/><path class="eg" d="M258.1,893.7V903.7"/><circle class="mg" cx="258.1" cy="898.7" r="4.3"/><path class="eg" d="M262.5,890.2V904.2"/><circle class="mg" cx="262.5" cy="897.2" r="4.3"/><path class="eg" d="M266.1,892.0V904.0"/><circle class="mg" cx="266.1" cy="898.0" r="4.3"/><path class="eg" d="M285.7,889.6V904.8"/><circle class="mg" cx="285.7" cy="897.2" r="4.3"/><path class="eg" d="M307.4,893.2V901.2"/><circle class="mg" cx="307.4" cy="897.2" r="4.3"/><path class="eg" d="M314.6,900.5V908.5"/><circle class="mg" cx="314.6" cy="904.5" r="4.3"/><path class="eg" d="M318.3,903.4V911.4"/><circle class="mg" cx="318.3" cy="907.4" r="4.3"/><path class="eg" d="M329.1,910.6V918.6"/><circle class="mg" cx="329.1" cy="914.6" r="4.3"/><path class="eg" d="M349.4,913.5V921.5"/><circle class="mg" cx="349.4" cy="917.5" r="4.3"/><path class="eg" d="M353.8,918.6V926.6"/><circle class="mg" cx="353.8" cy="922.6" r="4.3"/><path class="eg" d="M357.4,909.3V937.3"/><circle class="mg" cx="357.4" cy="923.3" r="4.3"/><path class="eg" d="M360.3,927.8V937.8"/><circle class="mg" cx="360.3" cy="932.8" r="4.3"/><path class="eg" d="M382.8,942.2V952.2"/><circle class="mg" cx="382.8" cy="947.2" r="4.3"/><path class="eg" d="M257.4,904.6V914.6"/><circle class="mg" cx="257.4" cy="909.6" r="4.3"/><path class="eg" d="M242.2,909.6V919.6"/><circle class="mg" cx="242.2" cy="914.6" r="4.3"/><path class="eg" d="M266.1,894.9V932.9"/><circle class="mg" cx="266.1" cy="913.9" r="4.3"/><path class="eg" d="M283.5,914.1V936.1"/><circle class="mg" cx="283.5" cy="925.1" r="4.3"/><path class="eg" d="M230.6,913.2V926.2"/><circle class="mg" cx="230.6" cy="919.7" r="4.3"/><path class="eg" d="M221.2,921.9V937.9"/><circle class="mg" cx="221.2" cy="929.9" r="4.3"/><path class="eg" d="M221.2,932.6V944.6"/><circle class="mg" cx="221.2" cy="938.6" r="4.3"/><path class="eg" d="M219.7,928.6V958.6"/><circle class="mg" cx="219.7" cy="943.6" r="4.3"/><path class="eg" d="M237.8,936.0V944.0"/><circle class="mg" cx="237.8" cy="940.0" r="4.3"/><path class="eg" d="M237.8,943.2V951.2"/><circle class="mg" cx="237.8" cy="947.2" r="4.3"/><path class="eg" d="M227.0,944.0V952.0"/><circle class="mg" cx="227.0" cy="948.0" r="4.3"/><path class="eg" d="M227.0,953.7V959.7"/><circle class="mg" cx="227.0" cy="956.7" r="4.3"/><path class="eg" d="M251.6,949.3V955.3"/><circle class="mg" cx="251.6" cy="952.3" r="4.3"/><path class="eg" d="M163.1,941.0V945.0"/><circle class="mg" cx="163.1" cy="943.0" r="4.3"/><path class="eg" d="M177.1,939.4V943.4"/><circle class="mg" cx="177.1" cy="941.4" r="4.3"/><path class="eg" d="M184.2,963.9V976.9"/><circle class="mg" cx="184.2" cy="970.4" r="4.3"/><path class="eg" d="M220.6,927.9V935.9"/><circle class="mg" cx="220.6" cy="931.9" r="4.3"/><path class="eg" d="M223.5,935.7V943.7"/><circle class="mg" cx="223.5" cy="939.7" r="4.3"/><path class="eg" d="M241.4,930.0V954.0"/><circle class="mg" cx="241.4" cy="942.0" r="4.3"/><path class="eg" d="M284.4,972.4V978.4"/><circle class="mg" cx="284.4" cy="975.4" r="4.3"/><path class="eg" d="M305.2,926.2V958.2"/><circle class="mg" cx="305.2" cy="942.2" r="4.3"/><path class="eg" d="M315.4,946.5V988.5"/><circle class="mg" cx="315.4" cy="967.5" r="4.3"/><path class="eg" d="M323.3,934.9V992.9"/><circle class="mg" cx="323.3" cy="963.9" r="4.3"/><path class="eg" d="M334.2,941.8V975.8"/><circle class="mg" cx="334.2" cy="958.8" r="4.3"/><path class="eg" d="M323.3,979.2V989.2"/><circle class="mg" cx="323.3" cy="984.2" r="4.3"/><path class="eg" d="M322.6,989.3V999.3"/><circle class="mg" cx="322.6" cy="994.3" r="4.3"/><path class="eg" d="M325.5,995.1V1005.1"/><circle class="mg" cx="325.5" cy="1000.1" r="4.3"/><path class="eg" d="M351.6,970.4V1002.4"/><circle class="mg" cx="351.6" cy="986.4" r="4.3"/><path class="eg" d="M372.6,980.1V1010.1"/><circle class="mg" cx="372.6" cy="995.1" r="4.3"/><path class="eg" d="M284.2,972.5V978.5"/><circle class="mg" cx="284.2" cy="975.5" r="4.3"/><path class="eg" d="M283.5,978.3V984.3"/><circle class="mg" cx="283.5" cy="981.3" r="4.3"/><path class="eg" d="M284.2,982.7V988.7"/><circle class="mg" cx="284.2" cy="985.7" r="4.3"/><path class="eg" d="M288.6,985.6V991.6"/><circle class="mg" cx="288.6" cy="988.6" r="4.3"/><path class="eg" d="M292.9,988.4V994.4"/><circle class="mg" cx="292.9" cy="991.4" r="4.3"/><path class="eg" d="M297.2,984.1V990.1"/><circle class="mg" cx="297.2" cy="987.1" r="4.3"/><path class="eg" d="M295.8,992.8V998.8"/><circle class="mg" cx="295.8" cy="995.8" r="4.3"/><path class="eg" d="M301.6,991.3V997.3"/><circle class="mg" cx="301.6" cy="994.3" r="4.3"/><path class="eg" d="M305.9,995.7V1001.7"/><circle class="mg" cx="305.9" cy="998.7" r="4.3"/><path class="eg" d="M305.2,970.8V994.8"/><circle class="mg" cx="305.2" cy="982.8" r="4.3"/><path class="eg" d="M315.4,902.1V908.1"/><circle class="mg" cx="315.4" cy="905.1" r="4.3"/><path class="eg" d="M349.4,914.4V920.4"/><circle class="mg" cx="349.4" cy="917.4" r="4.3"/><path class="eg" d="M353.8,920.2V926.2"/><circle class="mg" cx="353.8" cy="923.2" r="4.3"/><path class="eg" d="M361.0,926.6V938.6"/><circle class="mg" cx="361.0" cy="932.6" r="4.3"/><path class="eg" d="M315.4,948.1V988.1"/><circle class="mg" cx="315.4" cy="968.1" r="4.3"/><path class="eg" d="M322.6,1002.2V1012.2"/><circle class="mg" cx="322.6" cy="1007.2" r="4.3"/><path class="eg" d="M326.2,995.0V1005.0"/><circle class="mg" cx="326.2" cy="1000.0" r="4.3"/><path class="eg" d="M326.2,1010.2V1020.2"/><circle class="mg" cx="326.2" cy="1015.2" r="4.3"/><path class="eg" d="M301.6,997.0V1029.0"/><circle class="mg" cx="301.6" cy="1013.0" r="4.3"/><path class="eg" d="M305.2,978.3V1020.3"/><circle class="mg" cx="305.2" cy="999.3" r="4.3"/><path class="eg" d="M292.9,983.0V991.0"/><circle class="mg" cx="292.9" cy="987.0" r="4.3"/><path class="eg" d="M297.2,981.5V989.5"/><circle class="mg" cx="297.2" cy="985.5" r="4.3"/><path class="eg" d="M294.3,991.7V999.7"/><circle class="mg" cx="294.3" cy="995.7" r="4.3"/><path class="eg" d="M300.1,990.2V998.2"/><circle class="mg" cx="300.1" cy="994.2" r="4.3"/><path class="eg" d="M304.5,994.6V1002.6"/><circle class="mg" cx="304.5" cy="998.6" r="4.3"/><path class="eg" d="M351.6,970.2V1002.2"/><circle class="mg" cx="351.6" cy="986.2" r="4.3"/><path class="eg" d="M372.6,975.9V1013.9"/><circle class="mg" cx="372.6" cy="994.9" r="4.3"/><path class="eg" d="M390.7,979.1V1031.1"/><circle class="mg" cx="390.7" cy="1005.1" r="4.3"/><path class="eg" d="M400.1,964.1V972.1"/><circle class="mg" cx="400.1" cy="968.1" r="4.3"/><path class="eg" d="M413.9,963.3V977.3"/><circle class="mg" cx="413.9" cy="970.3" r="4.3"/><path class="eg" d="M424.8,1000.8V1010.8"/><circle class="mg" cx="424.8" cy="1005.8" r="4.3"/><path class="eg" d="M416.1,1006.2V1040.2"/><circle class="mg" cx="416.1" cy="1023.2" r="4.3"/><path class="eg" d="M424.1,1020.0V1054.0"/><circle class="mg" cx="424.1" cy="1037.0" r="4.3"/><path class="eg" d="M427.0,1035.6V1045.6"/><circle class="mg" cx="427.0" cy="1040.6" r="4.3"/><path class="eg" d="M441.4,1026.2V1062.2"/><circle class="mg" cx="441.4" cy="1044.2" r="4.3"/><path class="eg" d="M443.6,1007.5V1021.5"/><circle class="mg" cx="443.6" cy="1014.5" r="4.3"/><path class="eg" d="M453.0,1020.8V1032.8"/><circle class="mg" cx="453.0" cy="1026.8" r="4.3"/><path class="eg" d="M461.0,1048.3V1060.3"/><circle class="mg" cx="461.0" cy="1054.3" r="4.3"/><path class="eg" d="M478.4,1049.3V1117.3"/><circle class="mg" cx="478.4" cy="1083.3" r="4.3"/><path class="eg" d="M485.7,1085.6V1095.6"/><circle class="mg" cx="485.7" cy="1090.6" r="4.3"/><path class="eg" d="M484.2,1097.9V1107.9"/><circle class="mg" cx="484.2" cy="1102.9" r="4.3"/><path class="eg" d="M508.8,1080.6V1116.6"/><circle class="mg" cx="508.8" cy="1098.6" r="4.3"/><path class="eg" d="M508.8,1099.3V1109.3"/><circle class="mg" cx="508.8" cy="1104.3" r="4.3"/><path class="eg" d="M498.7,1100.8V1110.8"/><circle class="mg" cx="498.7" cy="1105.8" r="4.3"/><path class="eg" d="M545.1,1072.2V1116.2"/><circle class="mg" cx="545.1" cy="1094.2" r="4.3"/><path class="eg" d="M555.2,1077.3V1121.3"/><circle class="mg" cx="555.2" cy="1099.3" r="4.3"/><path class="eg" d="M463.9,1088.8V1096.8"/><circle class="mg" cx="463.9" cy="1092.8" r="4.3"/><path class="eg" d="M468.3,1083.9V1095.9"/><circle class="mg" cx="468.3" cy="1089.9" r="4.3"/><path class="eg" d="M462.5,1096.0V1104.0"/><circle class="mg" cx="462.5" cy="1100.0" r="4.3"/><path class="eg" d="M462.5,1104.7V1112.7"/><circle class="mg" cx="462.5" cy="1108.7" r="4.3"/><path class="eg" d="M340.7,1009.0V1017.0"/><circle class="mg" cx="340.7" cy="1013.0" r="4.3"/><path class="eg" d="M342.2,1013.4V1021.4"/><circle class="mg" cx="342.2" cy="1017.4" r="4.3"/><path class="eg" d="M346.5,1014.3V1026.3"/><circle class="mg" cx="346.5" cy="1020.3" r="4.3"/><path class="eg" d="M350.9,1014.8V1022.8"/><circle class="mg" cx="350.9" cy="1018.8" r="4.3"/><path class="eg" d="M352.3,1020.6V1028.6"/><circle class="mg" cx="352.3" cy="1024.6" r="4.3"/><path class="eg" d="M348.0,1022.1V1030.1"/><circle class="mg" cx="348.0" cy="1026.1" r="4.3"/><path class="eg" d="M350.9,1026.4V1034.4"/><circle class="mg" cx="350.9" cy="1030.4" r="4.3"/><path class="eg" d="M351.6,1028.2V1044.2"/><circle class="mg" cx="351.6" cy="1036.2" r="4.3"/><path class="eg" d="M377.0,1023.3V1033.3"/><circle class="mg" cx="377.0" cy="1028.3" r="4.3"/><path class="eg" d="M369.7,1033.7V1041.7"/><circle class="mg" cx="369.7" cy="1037.7" r="4.3"/><path class="eg" d="M369.0,1045.3V1053.3"/><circle class="mg" cx="369.0" cy="1049.3" r="4.3"/><path class="eg" d="M374.1,1035.1V1043.1"/><circle class="mg" cx="374.1" cy="1039.1" r="4.3"/><path class="eg" d="M379.9,1043.8V1051.8"/><circle class="mg" cx="379.9" cy="1047.8" r="4.3"/><path class="eg" d="M382.8,1049.6V1057.6"/><circle class="mg" cx="382.8" cy="1053.6" r="4.3"/><path class="eg" d="M388.6,1045.3V1053.3"/><circle class="mg" cx="388.6" cy="1049.3" r="4.3"/><path class="eg" d="M391.4,1049.6V1057.6"/><circle class="mg" cx="391.4" cy="1053.6" r="4.3"/><path class="eg" d="M397.2,1034.6V1046.6"/><circle class="mg" cx="397.2" cy="1040.6" r="4.3"/><path class="eg" d="M379.9,1049.4V1069.4"/><circle class="mg" cx="379.9" cy="1059.4" r="4.3"/><path class="eg" d="M394.3,1042.1V1094.1"/><circle class="mg" cx="394.3" cy="1068.1" r="4.3"/><path class="eg" d="M402.3,1046.5V1066.5"/><circle class="mg" cx="402.3" cy="1056.5" r="4.3"/><path class="eg" d="M410.3,1033.5V1079.5"/><circle class="mg" cx="410.3" cy="1056.5" r="4.3"/><path class="eg" d="M408.8,1066.2V1096.2"/><circle class="mg" cx="408.8" cy="1081.2" r="4.3"/><path class="eg" d="M413.2,1071.8V1081.8"/><circle class="mg" cx="413.2" cy="1076.8" r="4.3"/><path class="eg" d="M419.0,1062.8V1090.8"/><circle class="mg" cx="419.0" cy="1076.8" r="4.3"/><path class="eg" d="M426.2,1058.8V1068.8"/><circle class="mg" cx="426.2" cy="1063.8" r="4.3"/><path class="eg" d="M429.1,1066.0V1076.0"/><circle class="mg" cx="429.1" cy="1071.0" r="4.3"/><path class="eg" d="M432.0,1071.8V1081.8"/><circle class="mg" cx="432.0" cy="1076.8" r="4.3"/><path class="eg" d="M434.9,1076.2V1086.2"/><circle class="mg" cx="434.9" cy="1081.2" r="4.3"/><path class="eg" d="M440.7,1074.7V1084.7"/><circle class="mg" cx="440.7" cy="1079.7" r="4.3"/><path class="eg" d="M440.7,1083.4V1093.4"/><circle class="mg" cx="440.7" cy="1088.4" r="4.3"/><path class="eg" d="M437.1,1089.9V1099.9"/><circle class="mg" cx="437.1" cy="1094.9" r="4.3"/><path class="eg" d="M426.2,1077.6V1087.6"/><circle class="mg" cx="426.2" cy="1082.6" r="4.3"/><path class="eg" d="M485.8,1087.2V1095.2"/><circle class="mg" cx="485.8" cy="1091.2" r="4.3"/><path class="eg" d="M484.3,1100.2V1108.2"/><circle class="mg" cx="484.3" cy="1104.2" r="4.3"/><path class="eg" d="M483.6,1112.5V1120.5"/><circle class="mg" cx="483.6" cy="1116.5" r="4.3"/><path class="eg" d="M498.8,1100.7V1110.7"/><circle class="mg" cx="498.8" cy="1105.7" r="4.3"/><path class="eg" d="M500.3,1105.7V1115.7"/><circle class="mg" cx="500.3" cy="1110.7" r="4.3"/><path class="eg" d="M498.1,1103.7V1133.7"/><circle class="mg" cx="498.1" cy="1118.7" r="4.3"/><path class="eg" d="M509.0,1077.4V1119.4"/><circle class="mg" cx="509.0" cy="1098.4" r="4.3"/><path class="eg" d="M509.0,1096.0V1112.0"/><circle class="mg" cx="509.0" cy="1104.0" r="4.3"/><path class="eg" d="M544.5,1073.8V1115.8"/><circle class="mg" cx="544.5" cy="1094.8" r="4.3"/><path class="eg" d="M555.4,1074.9V1124.9"/><circle class="mg" cx="555.4" cy="1099.9" r="4.3"/><path class="eg" d="M507.5,1129.9V1145.1"/><circle class="mg" cx="507.5" cy="1137.5" r="4.3"/><path class="eg" d="M525.7,1138.2V1154.2"/><circle class="mg" cx="525.7" cy="1146.2" r="4.3"/><path class="eg" d="M527.8,1142.0V1162.0"/><circle class="mg" cx="527.8" cy="1152.0" r="4.3"/><path class="eg" d="M540.9,1136.1V1153.5"/><circle class="mg" cx="540.9" cy="1144.8" r="4.3"/><path class="eg" d="M546.7,1153.7V1183.7"/><circle class="mg" cx="546.7" cy="1168.7" r="4.3"/><path class="eg" d="M569.9,1158.2V1179.2"/><circle class="mg" cx="569.9" cy="1168.7" r="4.3"/><path class="eg" d="M576.4,1150.7V1170.7"/><circle class="mg" cx="576.4" cy="1160.7" r="4.3"/><path class="eg" d="M576.4,1168.6V1190.6"/><circle class="mg" cx="576.4" cy="1179.6" r="4.3"/><path class="eg" d="M576.4,1194.4V1219.8"/><circle class="mg" cx="576.4" cy="1207.1" r="4.3"/><path class="eg" d="M598.1,1167.6V1201.6"/><circle class="mg" cx="598.1" cy="1184.6" r="4.3"/><path class="eg" d="M626.4,1160.7V1199.9"/><circle class="mg" cx="626.4" cy="1180.3" r="4.3"/><path class="eg" d="M680.0,1231.8V1273.8"/><circle class="mg" cx="680.0" cy="1252.8" r="4.3"/><path class="eg" d="M355.6,1026.1V1034.5"/><circle class="mg" cx="355.6" cy="1030.3" r="4.3"/><path class="eg" d="M392.5,1046.5V1056.3"/><circle class="mg" cx="392.5" cy="1051.4" r="4.3"/><path class="eg" d="M421.2,1066.5V1079.9"/><circle class="mg" cx="421.2" cy="1073.2" r="4.3"/><path class="eg" d="M373.4,1034.3V1043.5"/><circle class="mg" cx="373.4" cy="1038.9" r="4.3"/><path class="eg" d="M381.8,1045.1V1058.2"/><circle class="mg" cx="381.8" cy="1051.6" r="4.3"/><path class="eg" d="M421.4,1066.3V1080.6"/><circle class="mg" cx="421.4" cy="1073.5" r="4.3"/><path class="eg" d="M395.8,1041.4V1052.7"/><circle class="mg" cx="395.8" cy="1047.1" r="4.3"/><path class="eg" d="M386.4,1034.6V1045.9"/><circle class="mg" cx="386.4" cy="1040.2" r="4.3"/><path class="eg" d="M384.5,1042.9V1058.5"/><circle class="mg" cx="384.5" cy="1050.7" r="4.3"/><path class="eg" d="M389.7,1056.8V1069.5"/><circle class="mg" cx="389.7" cy="1063.1" r="4.3"/><path class="eg" d="M388.5,1040.1V1051.9"/><circle class="mg" cx="388.5" cy="1046.0" r="4.3"/><path class="eg" d="M377.5,1031.1V1046.8"/><circle class="mg" cx="377.5" cy="1039.0" r="4.3"/><path class="eg" d="M369.7,1038.2V1048.2"/><circle class="mg" cx="369.7" cy="1043.2" r="4.3"/><path class="eg" d="M437.4,1052.7V1091.7"/><circle class="mg" cx="437.4" cy="1072.2" r="4.3"/><path class="eg" d="M376.9,1046.0V1058.8"/><circle class="mg" cx="376.9" cy="1052.4" r="4.3"/><path class="eg" d="M421.0,1055.5V1063.8"/><circle class="mg" cx="421.0" cy="1059.6" r="4.3"/><path class="eg" d="M398.7,1052.1V1063.4"/><circle class="mg" cx="398.7" cy="1057.7" r="4.3"/><path class="eg" d="M360.0,1028.8V1035.4"/><circle class="mg" cx="360.0" cy="1032.1" r="4.3"/><path class="eg" d="M402.1,1051.7V1061.1"/><circle class="mg" cx="402.1" cy="1056.4" r="4.3"/><path class="eg" d="M403.0,1036.8V1080.7"/><circle class="mg" cx="403.0" cy="1058.7" r="4.3"/><path class="eg" d="M389.7,1052.3V1077.9"/><circle class="mg" cx="389.7" cy="1065.1" r="4.3"/><path class="eg" d="M384.6,1040.5V1081.6"/><circle class="mg" cx="384.6" cy="1061.1" r="4.3"/><path class="eg" d="M346.3,1018.0V1027.3"/><circle class="mg" cx="346.3" cy="1022.7" r="4.3"/><path class="eg" d="M386.3,1044.1V1059.6"/><circle class="mg" cx="386.3" cy="1051.8" r="4.3"/><path class="eg" d="M375.7,1040.8V1046.8"/><circle class="mg" cx="375.7" cy="1043.8" r="4.3"/><path class="eg" d="M388.7,1021.6V1067.2"/><circle class="mg" cx="388.7" cy="1044.4" r="4.3"/><path class="eg" d="M392.9,1055.2V1069.0"/><circle class="mg" cx="392.9" cy="1062.1" r="4.3"/><path class="eg" d="M358.9,1039.1V1054.8"/><circle class="mg" cx="358.9" cy="1047.0" r="4.3"/><path class="eg" d="M397.1,1040.4V1085.8"/><circle class="mg" cx="397.1" cy="1063.1" r="4.3"/><path class="eg" d="M396.1,1052.5V1063.9"/><circle class="mg" cx="396.1" cy="1058.2" r="4.3"/><path class="eg" d="M304.2,987.5V998.2"/><circle class="mg" cx="304.2" cy="992.9" r="4.3"/><path class="eg" d="M299.6,988.9V1000.8"/><circle class="mg" cx="299.6" cy="994.8" r="4.3"/><path class="eg" d="M302.5,992.6V1004.2"/><circle class="mg" cx="302.5" cy="998.4" r="4.3"/><path class="eg" d="M322.5,995.4V1002.6"/><circle class="mg" cx="322.5" cy="999.0" r="4.3"/><path class="eg" d="M295.6,981.2V989.0"/><circle class="mg" cx="295.6" cy="985.1" r="4.3"/><path class="eg" d="M292.6,988.4V995.1"/><circle class="mg" cx="292.6" cy="991.7" r="4.3"/><path class="eg" d="M300.8,987.0V998.8"/><circle class="mg" cx="300.8" cy="992.9" r="4.3"/><path class="eg" d="M315.1,997.6V1007.3"/><circle class="mg" cx="315.1" cy="1002.4" r="4.3"/><path class="eg" d="M319.5,988.9V996.7"/><circle class="mg" cx="319.5" cy="992.8" r="4.3"/><path class="eg" d="M320.3,997.5V1006.7"/><circle class="mg" cx="320.3" cy="1002.1" r="4.3"/><path class="eg" d="M308.4,991.6V1002.0"/><circle class="mg" cx="308.4" cy="996.8" r="4.3"/><path class="eg" d="M294.1,989.5V997.1"/><circle class="mg" cx="294.1" cy="993.3" r="4.3"/>
<path d="M165,974.71 L166.5,973.82 L168,972.94 L169.5,972.07 L171,971.21 L172.5,970.36 L174,969.52 L175.5,968.69 L177,967.87 L178.5,967.06 L180,966.26 L181.5,965.47 L183,964.69 L184.5,963.92 L186,963.16 L187.5,962.41 L189,961.67 L190.5,960.95 L192,960.23 L193.5,959.52 L195,958.83 L196.5,958.15 L198,957.47 L199.5,956.81 L201,956.16 L202.5,955.52 L204,954.89 L205.5,954.28 L207,953.67 L208.5,953.08 L210,952.5 L211.5,951.93 L213,951.37 L214.5,950.83 L216,950.29 L217.5,949.77 L219,949.26 L220.5,948.76 L222,948.28 L223.5,947.8 L225,947.34 L226.5,946.9 L228,946.46 L229.5,946.04 L231,945.63 L232.5,945.23 L234,944.85 L235.5,944.48 L237,944.12 L238.5,943.77 L240,943.44 L241.5,943.12 L243,942.82 L244.5,942.53 L246,942.25 L247.5,941.98 L249,941.73 L250.5,941.5 L252,941.27 L253.5,941.06 L255,940.87 L256.5,940.69 L258,940.52 L259.5,940.37 L261,940.23 L262.5,940.11 L264,940 L265.5,939.9 L267,939.82 L268.5,939.76 L270,939.7 L271.5,939.67 L273,939.65 L274.5,939.64 L276,939.65 L277.5,939.67 L279,939.71 L280.5,939.77 L282,939.84 L283.5,939.92 L285,940.02 L286.5,940.14 L288,940.27 L289.5,940.42 L291,940.59 L292.5,940.77 L294,940.96 L295.5,941.17 L297,941.4 L298.5,941.65 L300,941.9 L301.5,942.18 L303,942.47 L304.5,942.77 L306,943.09 L307.5,943.43 L309,943.78 L310.5,944.14 L312,944.51 L313.5,944.9 L315,945.31 L316.5,945.72 L318,946.15 L319.5,946.59 L321,947.05 L322.5,947.51 L324,947.99 L325.5,948.48 L327,948.98 L328.5,949.49 L330,950.02 L331.5,950.55 L333,951.1 L334.5,951.65 L336,952.22 L337.5,952.79 L339,953.38 L340.5,953.97 L342,954.57 L343.5,955.19 L345,955.81 L346.5,956.44 L348,957.07 L349.5,957.72 L351,958.38 L352.5,959.04 L354,959.71 L355.5,960.39 L357,961.07 L358.5,961.77 L360,962.47 L361.5,963.18 L363,963.9 L364.5,964.63 L366,965.37 L367.5,966.11 L369,966.87 L370.5,967.63 L372,968.4 L373.5,969.18 L375,969.96 L376.5,970.76 L378,971.56 L379.5,972.38 L381,973.2 L382.5,974.03 L384,974.87 L385.5,975.71 L387,976.57 L388.5,977.43 L390,978.31 L391.5,979.19 L393,980.08 L394.5,980.98 L396,981.89 L397.5,982.81 L399,983.74 L400.5,984.67 L402,985.62 L403.5,986.57 L405,987.53 L406.5,988.5 L408,989.49 L409.5,990.48 L411,991.47 L412.5,992.48 L414,993.5 L415.5,994.52 L417,995.56 L418.5,996.6 L420,997.65 L421.5,998.71 L423,999.78 L424.5,1000.86 L426,1001.94 L427.5,1003.04 L429,1004.14 L430.5,1005.25 L432,1006.36 L433.5,1007.49 L435,1008.62 L436.5,1009.77 L438,1010.92 L439.5,1012.07 L441,1013.24 L442.5,1014.41 L444,1015.59 L445.5,1016.78 L447,1017.98 L448.5,1019.18 L450,1020.39 L451.5,1021.61 L453,1022.84 L454.5,1024.07 L456,1025.31 L457.5,1026.56 L459,1027.81 L460.5,1029.07 L462,1030.34 L463.5,1031.62 L465,1032.9 L466.5,1034.19 L468,1035.48 L469.5,1036.78 L471,1038.09 L472.5,1039.41 L474,1040.73 L475.5,1042.06 L477,1043.39 L478.5,1044.73 L480,1046.08 L481.5,1047.43 L483,1048.79 L484.5,1050.16 L486,1051.53 L487.5,1052.91 L489,1054.29 L490.5,1055.68 L492,1057.08 L493.5,1058.48 L495,1059.88 L496.5,1061.3 L498,1062.71 L499.5,1064.14 L501,1065.57 L502.5,1067 L504,1068.44 L505.5,1069.89 L507,1071.34 L508.5,1072.79 L510,1074.25 L511.5,1075.72 L513,1077.19 L514.5,1078.66 L516,1080.14 L517.5,1081.63 L519,1083.12 L520.5,1084.61 L522,1086.11 L523.5,1087.62 L525,1089.12 L526.5,1090.64 L528,1092.15 L529.5,1093.67 L531,1095.2 L532.5,1096.73 L534,1098.26 L535.5,1099.8 L537,1101.34 L538.5,1102.88 L540,1104.43 L541.5,1105.98 L543,1107.54 L544.5,1109.09 L546,1110.65 L547.5,1112.22 L549,1113.79 L550.5,1115.35 L552,1116.93 L553.5,1118.5 L555,1120.08 L556.5,1121.66 L558,1123.24 L559.5,1124.83 L561,1126.41 L562.5,1128 L564,1129.59 L565.5,1131.19 L567,1132.78 L568.5,1134.38 L570,1135.98 L571.5,1137.57 L573,1139.18 L574.5,1140.78 L576,1142.38 L577.5,1143.99 L579,1145.59 L580.5,1147.2 L582,1148.8 L583.5,1150.41 L585,1152.02 L586.5,1153.63 L588,1155.24 L589.5,1156.85 L591,1158.46 L592.5,1160.07 L594,1161.68 L595.5,1163.29 L597,1164.9 L598.5,1166.51 L600,1168.12 L601.5,1169.73 L603,1171.34 L604.5,1172.94 L606,1174.55 L607.5,1176.16 L609,1177.76 L610.5,1179.37 L612,1180.97 L613.5,1182.57 L615,1184.17 L616.5,1185.77 L618,1187.37 L619.5,1188.97 L621,1190.56 L622.5,1192.16 L624,1193.75 L625.5,1195.34 L627,1196.92 L628.5,1198.51 L630,1200.09 L631.5,1201.67 L633,1203.25 L634.5,1204.83 L636,1206.4 L637.5,1207.97 L639,1209.54 L640.5,1211.11 L642,1212.67 L643.5,1214.24 L645,1215.8 L646.5,1217.35 L648,1218.91 L649.5,1220.46 L651,1222.01 L652.5,1223.56 L654,1225.11 L655.5,1226.65 L657,1228.19 L658.5,1229.73 L660,1231.26 L661.5,1232.79 L663,1234.32 L664.5,1235.85 L666,1237.37 L667.5,1238.89 L669,1240.41 L670.5,1241.93 L672,1243.44 L673.5,1244.95 L675,1246.45 L676.5,1247.96 L678,1249.46 L679.5,1250.95 L681,1252.45 L682.5,1253.94 L684,1255.43 L685.5,1256.91 L687,1258.39 L688.5,1259.87 L690,1261.34 L691.5,1262.82 L693,1264.28 L694.5,1265.75 L696,1267.21 L697.5,1268.67 L699,1270.12 L700.5,1271.57 L702,1273.02 L703.5,1274.46 L705,1275.9 L706.5,1277.34 L708,1278.77 L709.5,1280.2 L711,1281.63 L712.5,1283.05 L714,1284.47 L715.5,1285.88 L717,1287.3 L718.5,1288.7 L720,1290.1 L721.5,1291.5 L723,1292.9 L724.5,1294.29 L726,1295.68 L727.5,1297.06 L729,1298.44 L730.5,1299.82 L732,1301.19 L733.5,1302.55 L735,1303.92 L736.5,1305.27 L738,1306.63 L739.5,1307.98 L741,1309.32 L742.5,1310.67 L744,1312 L745.5,1313.34 L747,1314.66 L748.5,1315.99 L750,1317.31 L751.5,1318.62 L753,1319.93 L754.5,1321.24 L756,1322.54 L757.5,1323.84 L759,1325.13 L760.5,1326.42 L762,1327.7 L763.5,1328.98 L765,1330.25 L766.5,1331.52 L768,1332.78 L769.5,1334.04 L771,1335.3 L772.5,1336.55 L774,1337.79 L775.5,1339.03 L777,1340.27 L778.5,1341.5 L780,1342.72 L781.5,1343.94 L783,1345.16 L784.5,1346.37 L786,1347.57 L787.5,1348.78 L789,1349.97 L790.5,1351.17 L792,1352.35 L793.5,1353.54 L795,1354.71 L796.5,1355.89 L798,1357.06 L799.5,1358.22 L801,1359.38 L802.5,1360.53 L804,1361.68 L805.5,1362.83 L807,1363.97 L808.5,1365.11 L810,1366.24 L811.5,1367.36 L813,1368.49 L814.5,1369.6 L816,1370.72 L817.5,1371.82 L819,1372.93 L820.5,1374.03 L822,1375.12 L823.5,1376.21 L825,1377.3 L826.5,1378.38 L828,1379.45 L829.5,1380.52 L831,1381.59 L832.5,1382.65 L834,1383.71 L835.5,1384.76 L837,1385.81 L838.5,1386.86 L840,1387.9 L841.5,1388.93 L843,1389.96 L844.5,1390.99 L846,1392.01 L847.5,1393.03 L849,1394.04 L850.5,1395.05 L852,1396.05 L853.5,1397.05 L855,1398.04 L856.5,1399.03 L858,1400.02 L859.5,1401 L861,1401.98 L862.5,1402.95 L864,1403.92 L865.5,1404.88 L867,1405.84 L868.5,1406.79 L870,1407.75 L871.5,1408.69 L873,1409.63 L874.5,1410.57 L876,1411.5 L877.5,1412.43 L879,1413.35 L880.5,1414.27 L882,1415.19 L883.5,1416.1 L885,1417.01 L886.5,1417.91 L888,1418.81 L889.5,1419.7 L891,1420.59 L892.5,1421.47 L894,1422.35 L895.5,1423.23 L897,1424.1 L898.5,1424.97 L900,1425.83 L901.5,1426.69 L903,1427.55 L904.5,1428.4 L906,1429.24 L907.5,1430.09 L909,1430.92 L910.5,1431.76 L912,1432.59 L913.5,1433.41 L915,1434.23 L916.5,1435.05 L918,1435.86 L919.5,1436.67 L921,1437.47 L922.5,1438.27 L924,1439.07 L925.5,1439.86 L927,1440.65 L928.5,1441.43 L930,1442.21 L931.5,1442.98 L933,1443.75 L934.3,1444.42" fill="none" stroke="#008000" stroke-width="3.7" stroke-linejoin="round"/>
</g>
<g clip-path="url(#c4)">
<path d="M1246.8,856.55 L1248.3,855.12 L1249.8,853.7 L1251.3,852.31 L1252.8,850.94 L1254.3,849.6 L1255.8,848.27 L1257.3,846.97 L1258.8,845.69 L1260.3,844.44 L1261.8,843.2 L1263.3,841.99 L1264.8,840.8 L1266.3,839.63 L1267.8,838.49 L1269.3,837.37 L1270.8,836.27 L1272.3,835.19 L1273.8,834.14 L1275.3,833.11 L1276.8,832.1 L1278.3,831.12 L1279.8,830.16 L1281.3,829.22 L1282.8,828.3 L1284.3,827.41 L1285.8,826.54 L1287.3,825.69 L1288.8,824.86 L1290.3,824.06 L1291.8,823.29 L1293.3,822.53 L1294.8,821.8 L1296.3,821.09 L1297.8,820.4 L1299.3,819.74 L1300.8,819.1 L1302.3,818.49 L1303.8,817.89 L1305.3,817.32 L1306.8,816.78 L1308.3,816.25 L1309.8,815.76 L1311.3,815.28 L1312.8,814.83 L1314.3,814.4 L1315.8,813.99 L1317.3,813.61 L1318.8,813.25 L1320.3,812.92 L1321.8,812.61 L1323.3,812.32 L1324.8,812.06 L1326.3,811.82 L1327.8,811.6 L1329.3,811.41 L1330.8,811.24 L1332.3,811.09 L1333.8,810.97 L1335.3,810.87 L1336.8,810.8 L1338.3,810.75 L1339.8,810.73 L1341.3,810.72 L1342.8,810.75 L1344.3,810.79 L1345.8,810.86 L1347.3,810.96 L1348.8,811.08 L1350.3,811.22 L1351.8,811.38 L1353.3,811.57 L1354.8,811.78 L1356.3,812.01 L1357.8,812.26 L1359.3,812.54 L1360.8,812.84 L1362.3,813.15 L1363.8,813.49 L1365.3,813.85 L1366.8,814.23 L1368.3,814.63 L1369.8,815.06 L1371.3,815.5 L1372.8,815.96 L1374.3,816.44 L1375.8,816.94 L1377.3,817.45 L1378.8,817.99 L1380.3,818.54 L1381.8,819.12 L1383.3,819.71 L1384.8,820.32 L1386.3,820.94 L1387.8,821.58 L1389.3,822.24 L1390.8,822.92 L1392.3,823.61 L1393.8,824.32 L1395.3,825.05 L1396.8,825.79 L1398.3,826.54 L1399.8,827.31 L1401.3,828.1 L1402.8,828.9 L1404.3,829.71 L1405.8,830.54 L1407.3,831.39 L1408.8,832.24 L1410.3,833.11 L1411.8,834 L1413.3,834.89 L1414.8,835.8 L1416.3,836.72 L1417.8,837.66 L1419.3,838.6 L1420.8,839.56 L1422.3,840.53 L1423.8,841.51 L1425.3,842.5 L1426.8,843.5 L1428.3,844.51 L1429.8,845.54 L1431.3,846.57 L1432.8,847.61 L1434.3,848.66 L1435.8,849.72 L1437.3,850.79 L1438.8,851.87 L1440.3,852.95 L1441.8,854.04 L1443.3,855.14 L1444.8,856.25 L1446.3,857.36 L1447.8,858.47 L1449.3,859.59 L1450.8,860.72 L1452.3,861.85 L1453.8,862.98 L1455.3,864.11 L1456.8,865.25 L1458.3,866.39 L1459.8,867.54 L1461.3,868.68 L1462.8,869.83 L1464.3,870.97 L1465.8,872.12 L1467.3,873.27 L1468.8,874.41 L1470.3,875.56 L1471.8,876.7 L1473.3,877.84 L1474.8,878.98 L1476.3,880.12 L1477.8,881.25 L1479.3,882.38 L1480.8,883.5 L1482.3,884.62 L1483.8,885.74 L1485.3,886.85 L1486.8,887.96 L1488.3,889.05 L1489.8,890.15 L1491.3,891.24 L1492.8,892.32 L1494.3,893.39 L1495.8,894.46 L1497.3,895.52 L1498.8,896.58 L1500.3,897.63 L1501.8,898.67 L1503.3,899.7 L1504.8,900.73 L1506.3,901.75 L1507.8,902.76 L1509.3,903.76 L1510.8,904.76 L1512.3,905.74 L1513.8,906.72 L1515.3,907.69 L1516.8,908.66 L1518.3,909.61 L1519.8,910.55 L1521.3,911.49 L1522.8,912.42 L1524.3,913.33 L1525.8,914.24 L1527.3,915.14 L1528.8,916.02 L1530.3,916.9 L1531.8,917.77 L1533.3,918.63 L1534.8,919.47 L1536.3,920.31 L1537.8,921.13 L1539.3,921.95 L1540.8,922.75 L1542.3,923.54 L1543.8,924.32 L1545.3,925.09 L1546.8,925.85 L1548.3,926.6 L1549.8,927.33 L1551.3,928.06 L1552.8,928.77 L1554.3,929.48 L1555.8,930.17 L1557.3,930.85 L1558.8,931.53 L1560.3,932.19 L1561.8,932.84 L1563.3,933.48 L1564.8,934.12 L1566.3,934.74 L1567.8,935.35 L1569.3,935.96 L1570.8,936.55 L1572.3,937.13 L1573.8,937.71 L1575.3,938.28 L1576.8,938.83 L1578.3,939.38 L1579.8,939.92 L1581.3,940.45 L1582.8,940.97 L1584.3,941.48 L1585.8,941.99 L1587.3,942.48 L1588.8,942.97 L1590.3,943.45 L1591.8,943.92 L1593.3,944.38 L1594.8,944.83 L1596.3,945.28 L1597.8,945.72 L1599.3,946.15 L1600.8,946.57 L1602.3,946.99 L1603.8,947.4 L1605.3,947.8 L1606.8,948.19 L1608.3,948.58 L1609.8,948.96 L1611.3,949.33 L1612.8,949.7 L1614.3,950.06 L1615.8,950.41 L1617.3,950.76 L1618.8,951.1 L1620.3,951.43 L1621.8,951.76 L1623.3,952.08 L1624.8,952.39 L1626.3,952.7 L1627.8,953.01 L1629.3,953.3 L1630.8,953.6 L1632.3,953.88 L1633.8,954.16 L1635.3,954.44 L1636.8,954.71 L1638.3,954.98 L1639.8,955.24 L1641.3,955.5 L1642.8,955.76 L1644.3,956.01 L1645.8,956.26 L1647.3,956.5 L1648.8,956.75 L1650.3,956.98 L1651.8,957.22 L1653.3,957.46 L1654.8,957.69 L1656.3,957.92 L1657.8,958.15 L1659.3,958.38 L1660.8,958.6 L1662.3,958.83 L1663.8,959.06 L1665.3,959.28 L1666.8,959.51 L1668.3,959.73 L1669.8,959.95 L1671.3,960.18 L1672.8,960.41 L1674.3,960.63 L1675.8,960.86 L1677.3,961.09 L1678.8,961.32 L1680.3,961.55 L1681.8,961.78 L1683.3,962.02 L1684.8,962.26 L1686.3,962.5 L1687.8,962.75 L1689.3,962.99 L1690.8,963.24 L1692.3,963.5 L1693.8,963.75 L1695.3,964.02 L1696.8,964.28 L1698.3,964.55 L1699.8,964.83 L1701.3,965.11 L1702.8,965.39 L1704.3,965.68 L1705.8,965.98 L1707.3,966.28 L1708.8,966.59 L1710.3,966.9 L1711.8,967.22 L1713.3,967.55 L1714.8,967.88 L1716.3,968.22 L1717.8,968.57 L1719.3,968.92 L1720.8,969.28 L1722.3,969.65 L1723.8,970.03 L1725.3,970.42 L1726.8,970.82 L1728.3,971.22 L1729.8,971.64 L1731.3,972.06 L1732.8,972.49 L1734.3,972.93 L1735.8,973.39 L1737.3,973.85 L1738.8,974.32 L1740.3,974.8 L1741.8,975.3 L1743.3,975.8 L1744.8,976.32 L1746.3,976.84 L1747.8,977.38 L1749.3,977.93 L1750.8,978.49 L1752.3,979.06 L1753.8,979.63 L1755.3,980.22 L1756.8,980.82 L1758.3,981.43 L1759.8,982.05 L1761.3,982.69 L1762.8,983.33 L1764.3,983.98 L1765.8,984.64 L1767.3,985.31 L1768.8,986 L1770.3,986.69 L1771.8,987.39 L1773.3,988.1 L1774.8,988.83 L1776.3,989.56 L1777.8,990.3 L1779.3,991.05 L1780.8,991.82 L1782.3,992.59 L1783.8,993.37 L1785.3,994.16 L1786.8,994.96 L1788.3,995.77 L1789.8,996.6 L1791.3,997.43 L1792.8,998.27 L1794.3,999.12 L1795.8,999.98 L1797.3,1000.84 L1798.8,1001.72 L1800.3,1002.61 L1801.8,1003.51 L1803.3,1004.42 L1804.8,1005.33 L1806.3,1006.26 L1807.8,1007.19 L1809.3,1008.14 L1810.8,1009.09 L1812.3,1010.05 L1813.8,1011.02 L1815.3,1012 L1816.8,1012.99 L1818.3,1013.99 L1819.8,1015 L1821.3,1016.02 L1822.8,1017.04 L1824.3,1018.08 L1825.8,1019.12 L1827.3,1020.17 L1828.8,1021.23 L1830.3,1022.3 L1831.8,1023.38 L1833.3,1024.47 L1834.8,1025.56 L1836.3,1026.66 L1837.8,1027.77 L1839.3,1028.88 L1840.8,1030 L1842.3,1031.12 L1843.8,1032.25 L1845.3,1033.39 L1846.8,1034.53 L1848.3,1035.67 L1849.8,1036.82 L1851.3,1037.97 L1852.8,1039.12 L1854.3,1040.28 L1855.8,1041.44 L1857.3,1042.61 L1858.8,1043.77 L1860.3,1044.94 L1861.8,1046.1 L1863.3,1047.27 L1864.8,1048.44 L1866.3,1049.61 L1867.8,1050.78 L1869.3,1051.95 L1870.8,1053.12 L1872.3,1054.28 L1873.8,1055.45 L1875.3,1056.61 L1876.8,1057.77 L1878.3,1058.93 L1879.8,1060.09 L1881.3,1061.24 L1882.8,1062.39 L1884.3,1063.53 L1885.8,1064.67 L1887.3,1065.81 L1888.8,1066.94 L1890.3,1068.07 L1891.8,1069.19 L1893.3,1070.3 L1894.8,1071.41 L1896.3,1072.51 L1897.8,1073.61 L1899.3,1074.69 L1900.8,1075.77 L1902.3,1076.85 L1903.8,1077.91 L1905.3,1078.97 L1906.8,1080.01 L1908.3,1081.05 L1909.8,1082.08 L1911.3,1083.09 L1912.8,1084.1 L1914.3,1085.09 L1915.8,1086.08 L1917.3,1087.05 L1918.8,1088.01 L1920.3,1088.96 L1921.8,1089.9 L1923.3,1090.83 L1924.8,1091.74 L1926.3,1092.64 L1927.8,1093.52 L1929.3,1094.39 L1930.8,1095.25 L1932.3,1096.09 L1933.8,1096.91 L1935.3,1097.72 L1936.8,1098.52 L1938.3,1099.3 L1939.8,1100.06 L1941.3,1100.8 L1942.8,1101.53 L1944.3,1102.24 L1945.8,1102.93 L1947.3,1103.61 L1948.8,1104.26 L1950.3,1104.9 L1951.8,1105.52 L1953.3,1106.11 L1954.8,1106.69 L1956.3,1107.25 L1957.8,1107.79 L1959.3,1108.3 L1960.8,1108.8 L1962.3,1109.27 L1963.8,1109.72 L1965.3,1110.15 L1966.8,1110.56 L1968.3,1110.94 L1969.8,1111.3 L1971.3,1111.64 L1972.8,1111.95 L1974.3,1112.24 L1975.8,1112.5 L1977.3,1112.74 L1978.8,1112.95 L1980.3,1113.14 L1981.8,1113.3 L1983.3,1113.43 L1984.8,1113.54 L1986.3,1113.62 L1987.3,1113.66 L1987.3,1286.21 L1986.3,1285 L1984.8,1283.19 L1983.3,1281.38 L1981.8,1279.58 L1980.3,1277.78 L1978.8,1275.98 L1977.3,1274.18 L1975.8,1272.39 L1974.3,1270.6 L1972.8,1268.82 L1971.3,1267.03 L1969.8,1265.25 L1968.3,1263.48 L1966.8,1261.7 L1965.3,1259.93 L1963.8,1258.17 L1962.3,1256.41 L1960.8,1254.65 L1959.3,1252.89 L1957.8,1251.14 L1956.3,1249.39 L1954.8,1247.65 L1953.3,1245.91 L1951.8,1244.18 L1950.3,1242.44 L1948.8,1240.72 L1947.3,1239 L1945.8,1237.28 L1944.3,1235.56 L1942.8,1233.86 L1941.3,1232.15 L1939.8,1230.45 L1938.3,1228.76 L1936.8,1227.07 L1935.3,1225.38 L1933.8,1223.7 L1932.3,1222.03 L1930.8,1220.36 L1929.3,1218.69 L1927.8,1217.03 L1926.3,1215.38 L1924.8,1213.73 L1923.3,1212.09 L1921.8,1210.45 L1920.3,1208.82 L1918.8,1207.19 L1917.3,1205.57 L1915.8,1203.96 L1914.3,1202.35 L1912.8,1200.75 L1911.3,1199.15 L1909.8,1197.56 L1908.3,1195.98 L1906.8,1194.4 L1905.3,1192.83 L1903.8,1191.26 L1902.3,1189.71 L1900.8,1188.15 L1899.3,1186.61 L1897.8,1185.07 L1896.3,1183.54 L1894.8,1182.02 L1893.3,1180.5 L1891.8,1178.99 L1890.3,1177.48 L1888.8,1175.99 L1887.3,1174.5 L1885.8,1173.02 L1884.3,1171.54 L1882.8,1170.08 L1881.3,1168.62 L1879.8,1167.17 L1878.3,1165.72 L1876.8,1164.29 L1875.3,1162.86 L1873.8,1161.44 L1872.3,1160.03 L1870.8,1158.62 L1869.3,1157.23 L1867.8,1155.84 L1866.3,1154.46 L1864.8,1153.09 L1863.3,1151.72 L1861.8,1150.37 L1860.3,1149.02 L1858.8,1147.69 L1857.3,1146.36 L1855.8,1145.04 L1854.3,1143.73 L1852.8,1142.43 L1851.3,1141.13 L1849.8,1139.85 L1848.3,1138.58 L1846.8,1137.31 L1845.3,1136.05 L1843.8,1134.81 L1842.3,1133.57 L1840.8,1132.34 L1839.3,1131.12 L1837.8,1129.92 L1836.3,1128.72 L1834.8,1127.53 L1833.3,1126.35 L1831.8,1125.18 L1830.3,1124.02 L1828.8,1122.87 L1827.3,1121.73 L1825.8,1120.61 L1824.3,1119.49 L1822.8,1118.38 L1821.3,1117.28 L1819.8,1116.2 L1818.3,1115.12 L1816.8,1114.06 L1815.3,1113 L1813.8,1111.96 L1812.3,1110.92 L1810.8,1109.9 L1809.3,1108.89 L1807.8,1107.89 L1806.3,1106.91 L1804.8,1105.93 L1803.3,1104.96 L1801.8,1104.01 L1800.3,1103.07 L1798.8,1102.14 L1797.3,1101.22 L1795.8,1100.31 L1794.3,1099.42 L1792.8,1098.53 L1791.3,1097.66 L1789.8,1096.8 L1788.3,1095.96 L1786.8,1095.12 L1785.3,1094.3 L1783.8,1093.49 L1782.3,1092.69 L1780.8,1091.91 L1779.3,1091.14 L1777.8,1090.38 L1776.3,1089.63 L1774.8,1088.9 L1773.3,1088.18 L1771.8,1087.47 L1770.3,1086.78 L1768.8,1086.09 L1767.3,1085.43 L1765.8,1084.77 L1764.3,1084.13 L1762.8,1083.5 L1761.3,1082.89 L1759.8,1082.29 L1758.3,1081.7 L1756.8,1081.13 L1755.3,1080.57 L1753.8,1080.02 L1752.3,1079.49 L1750.8,1078.97 L1749.3,1078.47 L1747.8,1077.98 L1746.3,1077.51 L1744.8,1077.05 L1743.3,1076.6 L1741.8,1076.17 L1740.3,1075.74 L1738.8,1075.33 L1737.3,1074.94 L1735.8,1074.55 L1734.3,1074.18 L1732.8,1073.81 L1731.3,1073.46 L1729.8,1073.12 L1728.3,1072.79 L1726.8,1072.46 L1725.3,1072.15 L1723.8,1071.84 L1722.3,1071.54 L1720.8,1071.25 L1719.3,1070.97 L1717.8,1070.7 L1716.3,1070.43 L1714.8,1070.17 L1713.3,1069.91 L1711.8,1069.66 L1710.3,1069.42 L1708.8,1069.18 L1707.3,1068.95 L1705.8,1068.72 L1704.3,1068.49 L1702.8,1068.27 L1701.3,1068.05 L1699.8,1067.83 L1698.3,1067.62 L1696.8,1067.41 L1695.3,1067.2 L1693.8,1066.99 L1692.3,1066.78 L1690.8,1066.57 L1689.3,1066.37 L1687.8,1066.16 L1686.3,1065.95 L1684.8,1065.74 L1683.3,1065.53 L1681.8,1065.32 L1680.3,1065.11 L1678.8,1064.9 L1677.3,1064.68 L1675.8,1064.46 L1674.3,1064.24 L1672.8,1064.01 L1671.3,1063.78 L1669.8,1063.54 L1668.3,1063.3 L1666.8,1063.06 L1665.3,1062.8 L1663.8,1062.55 L1662.3,1062.28 L1660.8,1062.01 L1659.3,1061.74 L1657.8,1061.45 L1656.3,1061.16 L1654.8,1060.86 L1653.3,1060.55 L1651.8,1060.23 L1650.3,1059.91 L1648.8,1059.57 L1647.3,1059.22 L1645.8,1058.87 L1644.3,1058.5 L1642.8,1058.12 L1641.3,1057.73 L1639.8,1057.33 L1638.3,1056.92 L1636.8,1056.5 L1635.3,1056.07 L1633.8,1055.62 L1632.3,1055.17 L1630.8,1054.7 L1629.3,1054.22 L1627.8,1053.73 L1626.3,1053.23 L1624.8,1052.72 L1623.3,1052.2 L1621.8,1051.67 L1620.3,1051.13 L1618.8,1050.58 L1617.3,1050.01 L1615.8,1049.44 L1614.3,1048.86 L1612.8,1048.26 L1611.3,1047.66 L1609.8,1047.04 L1608.3,1046.42 L1606.8,1045.78 L1605.3,1045.14 L1603.8,1044.49 L1602.3,1043.82 L1600.8,1043.15 L1599.3,1042.46 L1597.8,1041.77 L1596.3,1041.07 L1594.8,1040.35 L1593.3,1039.63 L1591.8,1038.9 L1590.3,1038.16 L1588.8,1037.41 L1587.3,1036.65 L1585.8,1035.88 L1584.3,1035.1 L1582.8,1034.31 L1581.3,1033.51 L1579.8,1032.71 L1578.3,1031.89 L1576.8,1031.07 L1575.3,1030.23 L1573.8,1029.39 L1572.3,1028.54 L1570.8,1027.68 L1569.3,1026.81 L1567.8,1025.94 L1566.3,1025.05 L1564.8,1024.16 L1563.3,1023.26 L1561.8,1022.35 L1560.3,1021.43 L1558.8,1020.5 L1557.3,1019.56 L1555.8,1018.62 L1554.3,1017.67 L1552.8,1016.71 L1551.3,1015.74 L1549.8,1014.76 L1548.3,1013.78 L1546.8,1012.79 L1545.3,1011.79 L1543.8,1010.78 L1542.3,1009.77 L1540.8,1008.74 L1539.3,1007.71 L1537.8,1006.68 L1536.3,1005.63 L1534.8,1004.58 L1533.3,1003.52 L1531.8,1002.45 L1530.3,1001.38 L1528.8,1000.29 L1527.3,999.21 L1525.8,998.11 L1524.3,997.01 L1522.8,995.9 L1521.3,994.78 L1519.8,993.66 L1518.3,992.53 L1516.8,991.39 L1515.3,990.24 L1513.8,989.09 L1512.3,987.94 L1510.8,986.77 L1509.3,985.6 L1507.8,984.43 L1506.3,983.24 L1504.8,982.05 L1503.3,980.86 L1501.8,979.66 L1500.3,978.45 L1498.8,977.23 L1497.3,976.01 L1495.8,974.79 L1494.3,973.56 L1492.8,972.32 L1491.3,971.07 L1489.8,969.82 L1488.3,968.57 L1486.8,967.31 L1485.3,966.04 L1483.8,964.77 L1482.3,963.49 L1480.8,962.21 L1479.3,960.92 L1477.8,959.63 L1476.3,958.33 L1474.8,957.02 L1473.3,955.72 L1471.8,954.4 L1470.3,953.08 L1468.8,951.76 L1467.3,950.43 L1465.8,949.09 L1464.3,947.75 L1462.8,946.41 L1461.3,945.06 L1459.8,943.71 L1458.3,942.35 L1456.8,940.99 L1455.3,939.62 L1453.8,938.25 L1452.3,936.88 L1450.8,935.5 L1449.3,934.11 L1447.8,932.72 L1446.3,931.33 L1444.8,929.93 L1443.3,928.53 L1441.8,927.13 L1440.3,925.72 L1438.8,924.31 L1437.3,922.89 L1435.8,921.47 L1434.3,920.06 L1432.8,918.64 L1431.3,917.22 L1429.8,915.81 L1428.3,914.41 L1426.8,913 L1425.3,911.61 L1423.8,910.22 L1422.3,908.85 L1420.8,907.48 L1419.3,906.12 L1417.8,904.78 L1416.3,903.45 L1414.8,902.14 L1413.3,900.85 L1411.8,899.56 L1410.3,898.3 L1408.8,897.05 L1407.3,895.83 L1405.8,894.61 L1404.3,893.42 L1402.8,892.25 L1401.3,891.09 L1399.8,889.96 L1398.3,888.84 L1396.8,887.74 L1395.3,886.67 L1393.8,885.62 L1392.3,884.58 L1390.8,883.57 L1389.3,882.59 L1387.8,881.62 L1386.3,880.68 L1384.8,879.76 L1383.3,878.87 L1381.8,878 L1380.3,877.16 L1378.8,876.34 L1377.3,875.54 L1375.8,874.78 L1374.3,874.04 L1372.8,873.32 L1371.3,872.64 L1369.8,871.98 L1368.3,871.35 L1366.8,870.74 L1365.3,870.17 L1363.8,869.63 L1362.3,869.12 L1360.8,868.63 L1359.3,868.18 L1357.8,867.76 L1356.3,867.37 L1354.8,867.01 L1353.3,866.68 L1351.8,866.38 L1350.3,866.12 L1348.8,865.88 L1347.3,865.67 L1345.8,865.49 L1344.3,865.34 L1342.8,865.22 L1341.3,865.13 L1339.8,865.06 L1338.3,865.03 L1336.8,865.02 L1335.3,865.03 L1333.8,865.08 L1332.3,865.15 L1330.8,865.25 L1329.3,865.38 L1327.8,865.53 L1326.3,865.7 L1324.8,865.9 L1323.3,866.13 L1321.8,866.38 L1320.3,866.66 L1318.8,866.96 L1317.3,867.28 L1315.8,867.63 L1314.3,868 L1312.8,868.4 L1311.3,868.82 L1309.8,869.26 L1308.3,869.72 L1306.8,870.21 L1305.3,870.71 L1303.8,871.24 L1302.3,871.79 L1300.8,872.36 L1299.3,872.95 L1297.8,873.56 L1296.3,874.19 L1294.8,874.84 L1293.3,875.51 L1291.8,876.2 L1290.3,876.91 L1288.8,877.64 L1287.3,878.39 L1285.8,879.15 L1284.3,879.93 L1282.8,880.73 L1281.3,881.55 L1279.8,882.39 L1278.3,883.24 L1276.8,884.1 L1275.3,884.99 L1273.8,885.89 L1272.3,886.8 L1270.8,887.73 L1269.3,888.68 L1267.8,889.64 L1266.3,890.61 L1264.8,891.6 L1263.3,892.61 L1261.8,893.62 L1260.3,894.65 L1258.8,895.7 L1257.3,896.75 L1255.8,897.82 L1254.3,898.9 L1252.8,900 L1251.3,901.1 L1249.8,902.22 L1248.3,903.35 L1246.8,904.49 Z" fill="#ff0000" fill-opacity="0.5"/>
<path class="er" d="M1196.8,852.7V868.7"/><circle class="mr" cx="1196.8" cy="860.7" r="4.3"/><path class="er" d="M1195.8,1039.0V1055.0"/><circle class="mr" cx="1195.8" cy="1047.0" r="4.3"/><path class="er" d="M1199.5,1030.0V1046.0"/><circle class="mr" cx="1199.5" cy="1038.0" r="4.3"/><path class="er" d="M1200.4,846.0V874.0"/><circle class="mr" cx="1200.4" cy="860.0" r="4.3"/><path class="er" d="M1213.5,911.5V921.5"/><circle class="mr" cx="1213.5" cy="916.5" r="4.3"/><path class="er" d="M1207.0,957.9V967.9"/><circle class="mr" cx="1207.0" cy="962.9" r="4.3"/><path class="er" d="M1258.4,812.9V828.9"/><circle class="mr" cx="1258.4" cy="820.9" r="4.3"/><path class="er" d="M1250.4,846.7V864.7"/><circle class="mr" cx="1250.4" cy="855.7" r="4.3"/><path class="er" d="M1250.4,857.9V867.9"/><circle class="mr" cx="1250.4" cy="862.9" r="4.3"/><path class="er" d="M1264.9,883.5V891.5"/><circle class="mr" cx="1264.9" cy="887.5" r="4.3"/><path class="er" d="M1299.7,813.3V947.3"/><circle class="mr" cx="1299.7" cy="880.3" r="4.3"/><path class="er" d="M1299.0,769.0V855.0"/><circle class="mr" cx="1299.0" cy="812.0" r="4.3"/><path class="er" d="M1274.3,808.9V832.9"/><circle class="mr" cx="1274.3" cy="820.9" r="4.3"/><path class="er" d="M1283.0,799.3V819.3"/><circle class="mr" cx="1283.0" cy="809.3" r="4.3"/><path class="er" d="M1285.9,815.2V835.2"/><circle class="mr" cx="1285.9" cy="825.2" r="4.3"/><path class="er" d="M1277.2,817.5V847.5"/><circle class="mr" cx="1277.2" cy="832.5" r="4.3"/><path class="er" d="M1271.4,827.7V851.7"/><circle class="mr" cx="1271.4" cy="839.7" r="4.3"/><path class="er" d="M1278.7,832.0V862.0"/><circle class="mr" cx="1278.7" cy="847.0" r="4.3"/><path class="er" d="M1290.3,810.9V830.9"/><circle class="mr" cx="1290.3" cy="820.9" r="4.3"/><path class="er" d="M1296.1,803.6V823.6"/><circle class="mr" cx="1296.1" cy="813.6" r="4.3"/><path class="er" d="M1304.8,800.1V830.1"/><circle class="mr" cx="1304.8" cy="815.1" r="4.3"/><path class="er" d="M1309.1,808.9V832.9"/><circle class="mr" cx="1309.1" cy="820.9" r="4.3"/><path class="er" d="M1314.9,815.2V835.2"/><circle class="mr" cx="1314.9" cy="825.2" r="4.3"/><path class="er" d="M1309.1,825.4V845.4"/><circle class="mr" cx="1309.1" cy="835.4" r="4.3"/><path class="er" d="M1314.9,831.2V851.2"/><circle class="mr" cx="1314.9" cy="841.2" r="4.3"/><path class="er" d="M1322.2,837.0V857.0"/><circle class="mr" cx="1322.2" cy="847.0" r="4.3"/><path class="er" d="M1329.4,831.2V851.2"/><circle class="mr" cx="1329.4" cy="841.2" r="4.3"/><path class="er" d="M1336.7,835.0V859.0"/><circle class="mr" cx="1336.7" cy="847.0" r="4.3"/><path class="er" d="M1343.9,821.7V831.7"/><circle class="mr" cx="1343.9" cy="826.7" r="4.3"/><path class="er" d="M1354.1,827.4V843.4"/><circle class="mr" cx="1354.1" cy="835.4" r="4.3"/><path class="er" d="M1351.2,841.3V861.3"/><circle class="mr" cx="1351.2" cy="851.3" r="4.3"/><path class="er" d="M1358.4,848.6V868.6"/><circle class="mr" cx="1358.4" cy="858.6" r="4.3"/><path class="er" d="M1365.7,839.9V859.9"/><circle class="mr" cx="1365.7" cy="849.9" r="4.3"/><path class="er" d="M1375.8,841.9V857.9"/><circle class="mr" cx="1375.8" cy="849.9" r="4.3"/><path class="er" d="M1384.5,837.5V853.5"/><circle class="mr" cx="1384.5" cy="845.5" r="4.3"/><path class="er" d="M1390.3,825.4V845.4"/><circle class="mr" cx="1390.3" cy="835.4" r="4.3"/><path class="er" d="M1394.6,837.0V857.0"/><circle class="mr" cx="1394.6" cy="847.0" r="4.3"/><path class="er" d="M1404.8,837.0V857.0"/><circle class="mr" cx="1404.8" cy="847.0" r="4.3"/><path class="er" d="M1409.1,826.8V846.8"/><circle class="mr" cx="1409.1" cy="836.8" r="4.3"/><path class="er" d="M1416.4,844.2V864.2"/><circle class="mr" cx="1416.4" cy="854.2" r="4.3"/><path class="er" d="M1423.6,848.6V868.6"/><circle class="mr" cx="1423.6" cy="858.6" r="4.3"/><path class="er" d="M1433.8,845.7V865.7"/><circle class="mr" cx="1433.8" cy="855.7" r="4.3"/><path class="er" d="M1428.0,858.7V878.7"/><circle class="mr" cx="1428.0" cy="868.7" r="4.3"/><path class="er" d="M1442.5,869.4V885.4"/><circle class="mr" cx="1442.5" cy="877.4" r="4.3"/><path class="er" d="M1452.6,867.9V883.9"/><circle class="mr" cx="1452.6" cy="875.9" r="4.3"/><path class="er" d="M1464.2,873.7V889.7"/><circle class="mr" cx="1464.2" cy="881.7" r="4.3"/><path class="er" d="M1445.4,875.2V891.2"/><circle class="mr" cx="1445.4" cy="883.2" r="4.3"/><path class="er" d="M1457.0,878.1V894.1"/><circle class="mr" cx="1457.0" cy="886.1" r="4.3"/><path class="er" d="M1310.6,856.3V872.3"/><circle class="mr" cx="1310.6" cy="864.3" r="4.3"/><path class="er" d="M1322.2,850.0V870.0"/><circle class="mr" cx="1322.2" cy="860.0" r="4.3"/><path class="er" d="M1336.7,870.8V886.8"/><circle class="mr" cx="1336.7" cy="878.8" r="4.3"/><path class="er" d="M1343.9,870.3V890.3"/><circle class="mr" cx="1343.9" cy="880.3" r="4.3"/><path class="er" d="M1351.2,857.2V877.2"/><circle class="mr" cx="1351.2" cy="867.2" r="4.3"/><path class="er" d="M1361.3,866.5V882.5"/><circle class="mr" cx="1361.3" cy="874.5" r="4.3"/><path class="er" d="M1362.8,875.7V887.7"/><circle class="mr" cx="1362.8" cy="881.7" r="4.3"/><path class="er" d="M1368.6,871.4V883.4"/><circle class="mr" cx="1368.6" cy="877.4" r="4.3"/><path class="er" d="M1374.3,862.7V874.7"/><circle class="mr" cx="1374.3" cy="868.7" r="4.3"/><path class="er" d="M1385.9,869.4V885.4"/><circle class="mr" cx="1385.9" cy="877.4" r="4.3"/><path class="er" d="M1391.7,876.6V892.6"/><circle class="mr" cx="1391.7" cy="884.6" r="4.3"/><path class="er" d="M1403.3,887.3V899.3"/><circle class="mr" cx="1403.3" cy="893.3" r="4.3"/><path class="er" d="M1412.0,885.9V897.9"/><circle class="mr" cx="1412.0" cy="891.9" r="4.3"/><path class="er" d="M1412.0,893.1V905.1"/><circle class="mr" cx="1412.0" cy="899.1" r="4.3"/><path class="er" d="M1430.9,878.1V894.1"/><circle class="mr" cx="1430.9" cy="886.1" r="4.3"/><path class="er" d="M1436.7,882.4V898.4"/><circle class="mr" cx="1436.7" cy="890.4" r="4.3"/><path class="er" d="M1327.2,793.7V881.7"/><circle class="mr" cx="1327.2" cy="837.7" r="4.3"/><path class="er" d="M1336.7,817.4V903.4"/><circle class="mr" cx="1336.7" cy="860.4" r="4.3"/><path class="er" d="M1349.7,813.8V895.8"/><circle class="mr" cx="1349.7" cy="854.8" r="4.3"/><path class="er" d="M1361.3,802.4V886.4"/><circle class="mr" cx="1361.3" cy="844.4" r="4.3"/><path class="er" d="M1391.0,807.3V897.3"/><circle class="mr" cx="1391.0" cy="852.3" r="4.3"/><path class="er" d="M1409.1,806.5V906.5"/><circle class="mr" cx="1409.1" cy="856.5" r="4.3"/><path class="er" d="M1403.3,814.4V908.4"/><circle class="mr" cx="1403.3" cy="861.4" r="4.3"/><path class="er" d="M1385.9,814.4V906.4"/><circle class="mr" cx="1385.9" cy="860.4" r="4.3"/><path class="er" d="M1309.9,811.6V909.6"/><circle class="mr" cx="1309.9" cy="860.6" r="4.3"/><path class="er" d="M1322.2,779.3V839.3"/><circle class="mr" cx="1322.2" cy="809.3" r="4.3"/><path class="er" d="M1280.0,810.0V850.0"/><circle class="mr" cx="1280.0" cy="830.0" r="4.3"/><path class="er" d="M1290.0,825.0V855.0"/><circle class="mr" cx="1290.0" cy="840.0" r="4.3"/><path class="er" d="M1296.0,816.0V840.0"/><circle class="mr" cx="1296.0" cy="828.0" r="4.3"/><path class="er" d="M1318.0,818.0V842.0"/><circle class="mr" cx="1318.0" cy="830.0" r="4.3"/><path class="er" d="M1330.0,843.0V867.0"/><circle class="mr" cx="1330.0" cy="855.0" r="4.3"/><path class="er" d="M1340.0,823.0V847.0"/><circle class="mr" cx="1340.0" cy="835.0" r="4.3"/><path class="er" d="M1345.0,850.0V870.0"/><circle class="mr" cx="1345.0" cy="860.0" r="4.3"/><path class="er" d="M1370.0,850.0V870.0"/><circle class="mr" cx="1370.0" cy="860.0" r="4.3"/><path class="er" d="M1380.0,828.0V848.0"/><circle class="mr" cx="1380.0" cy="838.0" r="4.3"/><path class="er" d="M1398.0,848.0V868.0"/><circle class="mr" cx="1398.0" cy="858.0" r="4.3"/><path class="er" d="M1418.0,835.0V855.0"/><circle class="mr" cx="1418.0" cy="845.0" r="4.3"/><path class="er" d="M1425.0,865.0V881.0"/><circle class="mr" cx="1425.0" cy="873.0" r="4.3"/><path class="er" d="M1438.0,858.0V874.0"/><circle class="mr" cx="1438.0" cy="866.0" r="4.3"/><path class="er" d="M1432.3,896.8V908.8"/><circle class="mr" cx="1432.3" cy="902.8" r="4.3"/><path class="er" d="M1430.9,907.5V941.5"/><circle class="mr" cx="1430.9" cy="924.5" r="4.3"/><path class="er" d="M1441.7,899.5V933.5"/><circle class="mr" cx="1441.7" cy="916.5" r="4.3"/><path class="er" d="M1451.9,900.2V934.2"/><circle class="mr" cx="1451.9" cy="917.2" r="4.3"/><path class="er" d="M1461.3,900.7V936.7"/><circle class="mr" cx="1461.3" cy="918.7" r="4.3"/><path class="er" d="M1401.9,925.0V937.0"/><circle class="mr" cx="1401.9" cy="931.0" r="4.3"/><path class="er" d="M1453.3,965.0V981.0"/><circle class="mr" cx="1453.3" cy="973.0" r="4.3"/><path class="er" d="M1465.7,961.2V973.2"/><circle class="mr" cx="1465.7" cy="967.2" r="4.3"/><path class="er" d="M1442.9,866.5V882.5"/><circle class="mr" cx="1442.9" cy="874.5" r="4.3"/><path class="er" d="M1451.6,869.4V885.4"/><circle class="mr" cx="1451.6" cy="877.4" r="4.3"/><path class="er" d="M1457.4,867.9V883.9"/><circle class="mr" cx="1457.4" cy="875.9" r="4.3"/><path class="er" d="M1463.2,875.2V891.2"/><circle class="mr" cx="1463.2" cy="883.2" r="4.3"/><path class="er" d="M1471.9,869.4V885.4"/><circle class="mr" cx="1471.9" cy="877.4" r="4.3"/><path class="er" d="M1474.8,875.2V891.2"/><circle class="mr" cx="1474.8" cy="883.2" r="4.3"/><path class="er" d="M1464.6,886.8V902.8"/><circle class="mr" cx="1464.6" cy="894.8" r="4.3"/><path class="er" d="M1471.9,889.7V905.7"/><circle class="mr" cx="1471.9" cy="897.7" r="4.3"/><path class="er" d="M1480.6,881.0V897.0"/><circle class="mr" cx="1480.6" cy="889.0" r="4.3"/><path class="er" d="M1486.4,876.1V896.1"/><circle class="mr" cx="1486.4" cy="886.1" r="4.3"/><path class="er" d="M1489.3,883.3V903.3"/><circle class="mr" cx="1489.3" cy="893.3" r="4.3"/><path class="er" d="M1484.9,893.5V913.5"/><circle class="mr" cx="1484.9" cy="903.5" r="4.3"/><path class="er" d="M1487.8,902.7V918.7"/><circle class="mr" cx="1487.8" cy="910.7" r="4.3"/><path class="er" d="M1496.5,904.2V920.2"/><circle class="mr" cx="1496.5" cy="912.2" r="4.3"/><path class="er" d="M1499.4,891.1V907.1"/><circle class="mr" cx="1499.4" cy="899.1" r="4.3"/><path class="er" d="M1503.8,891.7V903.7"/><circle class="mr" cx="1503.8" cy="897.7" r="4.3"/><path class="er" d="M1506.7,896.0V908.0"/><circle class="mr" cx="1506.7" cy="902.0" r="4.3"/><path class="er" d="M1511.0,900.4V912.4"/><circle class="mr" cx="1511.0" cy="906.4" r="4.3"/><path class="er" d="M1512.5,910.5V922.5"/><circle class="mr" cx="1512.5" cy="916.5" r="4.3"/><path class="er" d="M1519.7,906.7V914.7"/><circle class="mr" cx="1519.7" cy="910.7" r="4.3"/><path class="er" d="M1529.9,905.3V913.3"/><circle class="mr" cx="1529.9" cy="909.3" r="4.3"/><path class="er" d="M1532.8,912.5V920.5"/><circle class="mr" cx="1532.8" cy="916.5" r="4.3"/><path class="er" d="M1538.6,908.2V916.2"/><circle class="mr" cx="1538.6" cy="912.2" r="4.3"/><path class="er" d="M1540.0,914.0V922.0"/><circle class="mr" cx="1540.0" cy="918.0" r="4.3"/><path class="er" d="M1553.0,916.9V924.9"/><circle class="mr" cx="1553.0" cy="920.9" r="4.3"/><path class="er" d="M1553.8,924.1V932.1"/><circle class="mr" cx="1553.8" cy="928.1" r="4.3"/><path class="er" d="M1566.1,908.2V916.2"/><circle class="mr" cx="1566.1" cy="912.2" r="4.3"/><path class="er" d="M1569.0,914.0V922.0"/><circle class="mr" cx="1569.0" cy="918.0" r="4.3"/><path class="er" d="M1571.9,916.9V924.9"/><circle class="mr" cx="1571.9" cy="920.9" r="4.3"/><path class="er" d="M1577.7,924.1V932.1"/><circle class="mr" cx="1577.7" cy="928.1" r="4.3"/><path class="er" d="M1608.8,932.1V938.1"/><circle class="mr" cx="1608.8" cy="935.1" r="4.3"/><path class="er" d="M1608.8,942.5V948.5"/><circle class="mr" cx="1608.8" cy="945.5" r="4.3"/><path class="er" d="M1621.9,947.6V953.6"/><circle class="mr" cx="1621.9" cy="950.6" r="4.3"/><path class="er" d="M1632.8,952.7V958.7"/><circle class="mr" cx="1632.8" cy="955.7" r="4.3"/><path class="er" d="M1635.7,957.0V963.0"/><circle class="mr" cx="1635.7" cy="960.0" r="4.3"/><path class="er" d="M1642.9,957.0V963.0"/><circle class="mr" cx="1642.9" cy="960.0" r="4.3"/><path class="er" d="M1642.9,964.2V970.2"/><circle class="mr" cx="1642.9" cy="967.2" r="4.3"/><path class="er" d="M1653.0,966.5V982.5"/><circle class="mr" cx="1653.0" cy="974.5" r="4.3"/><path class="er" d="M1653.0,968.5V996.5"/><circle class="mr" cx="1653.0" cy="982.5" r="4.3"/><path class="er" d="M1663.2,971.5V977.5"/><circle class="mr" cx="1663.2" cy="974.5" r="4.3"/><path class="er" d="M1673.3,970.0V976.0"/><circle class="mr" cx="1673.3" cy="973.0" r="4.3"/><path class="er" d="M1680.6,972.9V978.9"/><circle class="mr" cx="1680.6" cy="975.9" r="4.3"/><path class="er" d="M1684.9,975.8V981.8"/><circle class="mr" cx="1684.9" cy="978.8" r="4.3"/><path class="er" d="M1680.6,977.3V983.3"/><circle class="mr" cx="1680.6" cy="980.3" r="4.3"/><path class="er" d="M1689.3,981.6V987.6"/><circle class="mr" cx="1689.3" cy="984.6" r="4.3"/><path class="er" d="M1686.4,991.8V997.8"/><circle class="mr" cx="1686.4" cy="994.8" r="4.3"/><path class="er" d="M1693.6,987.4V993.4"/><circle class="mr" cx="1693.6" cy="990.4" r="4.3"/><path class="er" d="M1696.5,993.2V999.2"/><circle class="mr" cx="1696.5" cy="996.2" r="4.3"/><path class="er" d="M1699.4,997.6V1003.6"/><circle class="mr" cx="1699.4" cy="1000.6" r="4.3"/><path class="er" d="M1700.9,1001.9V1007.9"/><circle class="mr" cx="1700.9" cy="1004.9" r="4.3"/><path class="er" d="M1708.8,979.2V1013.2"/><circle class="mr" cx="1708.8" cy="996.2" r="4.3"/><path class="er" d="M1708.8,997.0V1013.0"/><circle class="mr" cx="1708.8" cy="1005.0" r="4.3"/><path class="er" d="M1719.0,972.0V1022.0"/><circle class="mr" cx="1719.0" cy="997.0" r="4.3"/><path class="er" d="M1718.3,1018.0V1028.0"/><circle class="mr" cx="1718.3" cy="1023.0" r="4.3"/><path class="er" d="M1728.4,1015.9V1025.9"/><circle class="mr" cx="1728.4" cy="1020.9" r="4.3"/><path class="er" d="M1442.9,899.5V933.5"/><circle class="mr" cx="1442.9" cy="916.5" r="4.3"/><path class="er" d="M1451.6,900.2V934.2"/><circle class="mr" cx="1451.6" cy="917.2" r="4.3"/><path class="er" d="M1461.7,901.7V935.7"/><circle class="mr" cx="1461.7" cy="918.7" r="4.3"/><path class="er" d="M1473.3,914.3V930.3"/><circle class="mr" cx="1473.3" cy="922.3" r="4.3"/><path class="er" d="M1473.3,934.0V944.0"/><circle class="mr" cx="1473.3" cy="939.0" r="4.3"/><path class="er" d="M1477.7,930.5V960.5"/><circle class="mr" cx="1477.7" cy="945.5" r="4.3"/><path class="er" d="M1482.0,939.1V949.1"/><circle class="mr" cx="1482.0" cy="944.1" r="4.3"/><path class="er" d="M1489.3,919.8V953.8"/><circle class="mr" cx="1489.3" cy="936.8" r="4.3"/><path class="er" d="M1496.5,901.4V969.4"/><circle class="mr" cx="1496.5" cy="935.4" r="4.3"/><path class="er" d="M1496.5,907.2V917.2"/><circle class="mr" cx="1496.5" cy="912.2" r="4.3"/><path class="er" d="M1505.2,859.2V991.2"/><circle class="mr" cx="1505.2" cy="925.2" r="4.3"/><path class="er" d="M1512.5,934.7V944.7"/><circle class="mr" cx="1512.5" cy="939.7" r="4.3"/><path class="er" d="M1513.9,932.0V962.0"/><circle class="mr" cx="1513.9" cy="947.0" r="4.3"/><path class="er" d="M1521.9,903.4V967.4"/><circle class="mr" cx="1521.9" cy="935.4" r="4.3"/><path class="er" d="M1523.3,942.0V952.0"/><circle class="mr" cx="1523.3" cy="947.0" r="4.3"/><path class="er" d="M1527.0,947.8V957.8"/><circle class="mr" cx="1527.0" cy="952.8" r="4.3"/><path class="er" d="M1531.3,929.3V989.3"/><circle class="mr" cx="1531.3" cy="959.3" r="4.3"/><path class="er" d="M1536.4,940.2V968.2"/><circle class="mr" cx="1536.4" cy="954.2" r="4.3"/><path class="er" d="M1544.3,945.8V985.8"/><circle class="mr" cx="1544.3" cy="965.8" r="4.3"/><path class="er" d="M1548.7,943.0V1003.0"/><circle class="mr" cx="1548.7" cy="973.0" r="4.3"/><path class="er" d="M1555.2,963.3V1023.3"/><circle class="mr" cx="1555.2" cy="993.3" r="4.3"/><path class="er" d="M1577.7,944.2V980.2"/><circle class="mr" cx="1577.7" cy="962.2" r="4.3"/><path class="er" d="M1592.2,962.4V992.4"/><circle class="mr" cx="1592.2" cy="977.4" r="4.3"/><path class="er" d="M1611.7,979.5V995.5"/><circle class="mr" cx="1611.7" cy="987.5" r="4.3"/><path class="er" d="M1621.9,983.2V999.2"/><circle class="mr" cx="1621.9" cy="991.2" r="4.3"/><path class="er" d="M1632.8,980.4V1000.4"/><circle class="mr" cx="1632.8" cy="990.4" r="4.3"/><path class="er" d="M1453.8,966.8V980.8"/><circle class="mr" cx="1453.8" cy="973.8" r="4.3"/><path class="er" d="M1466.8,964.6V994.6"/><circle class="mr" cx="1466.8" cy="979.6" r="4.3"/><path class="er" d="M1481.3,984.9V1014.9"/><circle class="mr" cx="1481.3" cy="999.9" r="4.3"/><path class="er" d="M1498.0,1003.8V1027.8"/><circle class="mr" cx="1498.0" cy="1015.8" r="4.3"/><path class="er" d="M1525.5,1011.7V1051.7"/><circle class="mr" cx="1525.5" cy="1031.7" r="4.3"/><path class="er" d="M1542.9,1035.4V1045.4"/><circle class="mr" cx="1542.9" cy="1040.4" r="4.3"/><path class="er" d="M1549.4,1019.0V1043.0"/><circle class="mr" cx="1549.4" cy="1031.0" r="4.3"/><path class="er" d="M1539.3,1044.9V1054.9"/><circle class="mr" cx="1539.3" cy="1049.9" r="4.3"/><path class="er" d="M1546.5,1047.1V1067.1"/><circle class="mr" cx="1546.5" cy="1057.1" r="4.3"/><path class="er" d="M1557.4,1036.9V1046.9"/><circle class="mr" cx="1557.4" cy="1041.9" r="4.3"/><path class="er" d="M1560.3,1030.9V1052.9"/><circle class="mr" cx="1560.3" cy="1041.9" r="4.3"/><path class="er" d="M1576.2,988.7V1048.7"/><circle class="mr" cx="1576.2" cy="1018.7" r="4.3"/><path class="er" d="M1595.8,1009.7V1069.7"/><circle class="mr" cx="1595.8" cy="1039.7" r="4.3"/><path class="er" d="M1593.6,1043.4V1053.4"/><circle class="mr" cx="1593.6" cy="1048.4" r="4.3"/><path class="er" d="M1594.3,1069.5V1079.5"/><circle class="mr" cx="1594.3" cy="1074.5" r="4.3"/><path class="er" d="M1608.1,1066.5V1082.5"/><circle class="mr" cx="1608.1" cy="1074.5" r="4.3"/><path class="er" d="M1613.9,1066.0V1086.0"/><circle class="mr" cx="1613.9" cy="1076.0" r="4.3"/><path class="er" d="M1594.1,1057.2V1095.2"/><circle class="mr" cx="1594.1" cy="1076.2" r="4.3"/><path class="er" d="M1594.1,1043.0V1053.0"/><circle class="mr" cx="1594.1" cy="1048.0" r="4.3"/><path class="er" d="M1607.8,1061.4V1095.4"/><circle class="mr" cx="1607.8" cy="1078.4" r="4.3"/><path class="er" d="M1613.6,1055.8V1119.8"/><circle class="mr" cx="1613.6" cy="1087.8" r="4.3"/><path class="er" d="M1618.7,1074.9V1110.9"/><circle class="mr" cx="1618.7" cy="1092.9" r="4.3"/><path class="er" d="M1668.7,1158.3V1220.3"/><circle class="mr" cx="1668.7" cy="1189.3" r="4.3"/><path class="er" d="M1696.2,1205.4V1277.4"/><circle class="mr" cx="1696.2" cy="1241.4" r="4.3"/><path class="er" d="M1855.7,1222.3V1240.3"/><circle class="mr" cx="1855.7" cy="1231.3" r="4.3"/><path class="er" d="M1773.0,1036.4V1046.4"/><circle class="mr" cx="1773.0" cy="1041.4" r="4.3"/><path class="er" d="M1783.9,1044.9V1056.9"/><circle class="mr" cx="1783.9" cy="1050.9" r="4.3"/><path class="er" d="M1794.1,1039.5V1053.5"/><circle class="mr" cx="1794.1" cy="1046.5" r="4.3"/><path class="er" d="M1828.8,1049.2V1077.2"/><circle class="mr" cx="1828.8" cy="1063.2" r="4.3"/><path class="er" d="M1838.3,1069.6V1091.6"/><circle class="mr" cx="1838.3" cy="1080.6" r="4.3"/><path class="er" d="M1849.1,1068.8V1096.8"/><circle class="mr" cx="1849.1" cy="1082.8" r="4.3"/><path class="er" d="M1774.1,988.0V1023.4"/><circle class="mr" cx="1774.1" cy="1005.7" r="4.3"/><path class="er" d="M1742.9,1026.0V1036.0"/><circle class="mr" cx="1742.9" cy="1031.0" r="4.3"/><path class="er" d="M1753.0,1027.5V1037.5"/><circle class="mr" cx="1753.0" cy="1032.5" r="4.3"/><path class="er" d="M1773.3,1033.9V1046.9"/><circle class="mr" cx="1773.3" cy="1040.4" r="4.3"/><path class="er" d="M1783.5,1044.3V1058.3"/><circle class="mr" cx="1783.5" cy="1051.3" r="4.3"/><path class="er" d="M1794.3,1039.4V1054.6"/><circle class="mr" cx="1794.3" cy="1047.0" r="4.3"/><path class="er" d="M1828.4,1048.9V1076.9"/><circle class="mr" cx="1828.4" cy="1062.9" r="4.3"/><path class="er" d="M1838.6,1069.3V1091.3"/><circle class="mr" cx="1838.6" cy="1080.3" r="4.3"/><path class="er" d="M1849.4,1068.5V1096.5"/><circle class="mr" cx="1849.4" cy="1082.5" r="4.3"/><path class="er" d="M1873.3,1112.1V1145.5"/><circle class="mr" cx="1873.3" cy="1128.8" r="4.3"/><path class="er" d="M1884.2,1009.4V1045.4"/><circle class="mr" cx="1884.2" cy="1027.4" r="4.3"/><path class="er" d="M2014.6,1025.3V1061.3"/><circle class="mr" cx="2014.6" cy="1043.3" r="4.3"/><path class="er" d="M1944.6,1219.3V1247.3"/><circle class="mr" cx="1944.6" cy="1233.3" r="4.3"/><path class="er" d="M2007.6,1223.2V1246.2"/><circle class="mr" cx="2007.6" cy="1234.7" r="4.3"/><path class="er" d="M1278.1,805.8V835.8"/><circle class="mr" cx="1278.1" cy="820.8" r="4.3"/><path class="er" d="M1297.9,836.9V853.9"/><circle class="mr" cx="1297.9" cy="845.4" r="4.3"/><path class="er" d="M1471.9,873.2V887.8"/><circle class="mr" cx="1471.9" cy="880.5" r="4.3"/><path class="er" d="M1496.4,886.1V913.9"/><circle class="mr" cx="1496.4" cy="900.0" r="4.3"/><path class="er" d="M1392.5,835.3V861.7"/><circle class="mr" cx="1392.5" cy="848.5" r="4.3"/><path class="er" d="M1456.0,875.3V902.7"/><circle class="mr" cx="1456.0" cy="889.0" r="4.3"/><path class="er" d="M1352.6,832.6V847.9"/><circle class="mr" cx="1352.6" cy="840.3" r="4.3"/><path class="er" d="M1362.4,872.3V889.9"/><circle class="mr" cx="1362.4" cy="881.1" r="4.3"/><path class="er" d="M1515.9,901.9V913.1"/><circle class="mr" cx="1515.9" cy="907.5" r="4.3"/><path class="er" d="M1372.2,837.0V882.1"/><circle class="mr" cx="1372.2" cy="859.5" r="4.3"/><path class="er" d="M1356.6,864.0V885.0"/><circle class="mr" cx="1356.6" cy="874.5" r="4.3"/><path class="er" d="M1325.7,843.2V868.3"/><circle class="mr" cx="1325.7" cy="855.7" r="4.3"/><path class="er" d="M1360.4,859.8V882.5"/><circle class="mr" cx="1360.4" cy="871.2" r="4.3"/><path class="er" d="M1443.1,833.4V916.8"/><circle class="mr" cx="1443.1" cy="875.1" r="4.3"/><path class="er" d="M1420.5,855.7V884.1"/><circle class="mr" cx="1420.5" cy="869.9" r="4.3"/><path class="er" d="M1444.3,881.3V894.4"/><circle class="mr" cx="1444.3" cy="887.9" r="4.3"/><path class="er" d="M1455.8,878.0V893.9"/><circle class="mr" cx="1455.8" cy="885.9" r="4.3"/><path class="er" d="M1329.4,843.4V870.1"/><circle class="mr" cx="1329.4" cy="856.8" r="4.3"/><path class="er" d="M1327.9,863.6V875.9"/><circle class="mr" cx="1327.9" cy="869.8" r="4.3"/><path class="er" d="M1325.6,850.3V879.6"/><circle class="mr" cx="1325.6" cy="865.0" r="4.3"/><path class="er" d="M1531.3,911.6V921.9"/><circle class="mr" cx="1531.3" cy="916.8" r="4.3"/><path class="er" d="M1385.5,845.1V856.5"/><circle class="mr" cx="1385.5" cy="850.8" r="4.3"/><path class="er" d="M1399.9,831.8V848.6"/><circle class="mr" cx="1399.9" cy="840.2" r="4.3"/><path class="er" d="M1435.6,837.7V898.6"/><circle class="mr" cx="1435.6" cy="868.1" r="4.3"/><path class="er" d="M1327.8,824.8V839.8"/><circle class="mr" cx="1327.8" cy="832.3" r="4.3"/><path class="er" d="M1315.9,828.6V854.5"/><circle class="mr" cx="1315.9" cy="841.5" r="4.3"/><path class="er" d="M1375.1,836.3V858.3"/><circle class="mr" cx="1375.1" cy="847.3" r="4.3"/><path class="er" d="M1272.9,824.2V842.4"/><circle class="mr" cx="1272.9" cy="833.3" r="4.3"/><path class="er" d="M1492.6,888.7V903.4"/><circle class="mr" cx="1492.6" cy="896.1" r="4.3"/><path class="er" d="M1372.0,863.1V876.7"/><circle class="mr" cx="1372.0" cy="869.9" r="4.3"/><path class="er" d="M1463.8,873.3V891.1"/><circle class="mr" cx="1463.8" cy="882.2" r="4.3"/><path class="er" d="M1499.3,887.0V910.4"/><circle class="mr" cx="1499.3" cy="898.7" r="4.3"/><path class="er" d="M1294.5,810.5V822.5"/><circle class="mr" cx="1294.5" cy="816.5" r="4.3"/><path class="er" d="M1511.4,893.3V910.3"/><circle class="mr" cx="1511.4" cy="901.8" r="4.3"/><path class="er" d="M1302.2,814.6V838.4"/><circle class="mr" cx="1302.2" cy="826.5" r="4.3"/><path class="er" d="M1281.2,824.2V844.7"/><circle class="mr" cx="1281.2" cy="834.4" r="4.3"/><path class="er" d="M1429.4,851.5V876.6"/><circle class="mr" cx="1429.4" cy="864.1" r="4.3"/><path class="er" d="M1274.9,809.8V829.8"/><circle class="mr" cx="1274.9" cy="819.8" r="4.3"/><path class="er" d="M1316.2,817.4V840.5"/><circle class="mr" cx="1316.2" cy="828.9" r="4.3"/><path class="er" d="M1482.3,879.6V907.5"/><circle class="mr" cx="1482.3" cy="893.5" r="4.3"/><path class="er" d="M1347.9,842.8V856.0"/><circle class="mr" cx="1347.9" cy="849.4" r="4.3"/><path class="er" d="M1462.5,867.5V911.9"/><circle class="mr" cx="1462.5" cy="889.7" r="4.3"/><path class="er" d="M1335.4,815.9V843.0"/><circle class="mr" cx="1335.4" cy="829.4" r="4.3"/><path class="er" d="M1529.4,895.4V918.0"/><circle class="mr" cx="1529.4" cy="906.7" r="4.3"/><path class="er" d="M1387.1,833.3V865.9"/><circle class="mr" cx="1387.1" cy="849.6" r="4.3"/><path class="er" d="M1436.5,835.2V905.7"/><circle class="mr" cx="1436.5" cy="870.5" r="4.3"/><path class="er" d="M1305.3,821.9V877.5"/><circle class="mr" cx="1305.3" cy="849.7" r="4.3"/><path class="er" d="M1306.2,802.0V840.6"/><circle class="mr" cx="1306.2" cy="821.3" r="4.3"/><path class="er" d="M1302.0,820.5V838.4"/><circle class="mr" cx="1302.0" cy="829.4" r="4.3"/><path class="er" d="M1324.2,836.3V854.3"/><circle class="mr" cx="1324.2" cy="845.3" r="4.3"/><path class="er" d="M1435.3,849.8V867.1"/><circle class="mr" cx="1435.3" cy="858.4" r="4.3"/><path class="er" d="M1460.8,859.1V888.1"/><circle class="mr" cx="1460.8" cy="873.6" r="4.3"/><path class="er" d="M1494.5,885.1V897.8"/><circle class="mr" cx="1494.5" cy="891.5" r="4.3"/><path class="er" d="M1336.2,817.7V844.1"/><circle class="mr" cx="1336.2" cy="830.9" r="4.3"/><path class="er" d="M1321.0,850.4V872.5"/><circle class="mr" cx="1321.0" cy="861.5" r="4.3"/><path class="er" d="M1511.4,898.6V911.2"/><circle class="mr" cx="1511.4" cy="904.9" r="4.3"/><path class="er" d="M1481.8,850.7V906.7"/><circle class="mr" cx="1481.8" cy="878.7" r="4.3"/><path class="er" d="M1352.3,821.1V843.5"/><circle class="mr" cx="1352.3" cy="832.3" r="4.3"/><path class="er" d="M1416.2,850.6V873.0"/><circle class="mr" cx="1416.2" cy="861.8" r="4.3"/><path class="er" d="M1511.1,885.6V911.0"/><circle class="mr" cx="1511.1" cy="898.3" r="4.3"/><path class="er" d="M1460.7,879.7V890.2"/><circle class="mr" cx="1460.7" cy="884.9" r="4.3"/><path class="er" d="M1373.1,840.9V856.8"/><circle class="mr" cx="1373.1" cy="848.9" r="4.3"/><path class="er" d="M1339.4,824.5V838.6"/><circle class="mr" cx="1339.4" cy="831.6" r="4.3"/><path class="er" d="M1538.4,901.5V916.5"/><circle class="mr" cx="1538.4" cy="909.0" r="4.3"/><path class="er" d="M1310.6,821.1V840.1"/><circle class="mr" cx="1310.6" cy="830.6" r="4.3"/><path class="er" d="M1278.5,827.4V851.2"/><circle class="mr" cx="1278.5" cy="839.3" r="4.3"/><path class="er" d="M1455.2,878.3V889.5"/><circle class="mr" cx="1455.2" cy="883.9" r="4.3"/><path class="er" d="M1468.4,858.8V883.2"/><circle class="mr" cx="1468.4" cy="871.0" r="4.3"/><path class="er" d="M1299.5,816.8V835.4"/><circle class="mr" cx="1299.5" cy="826.1" r="4.3"/><path class="er" d="M1518.6,895.4V924.9"/><circle class="mr" cx="1518.6" cy="910.1" r="4.3"/><path class="er" d="M1517.8,898.8V921.1"/><circle class="mr" cx="1517.8" cy="909.9" r="4.3"/><path class="er" d="M1462.2,865.9V884.2"/><circle class="mr" cx="1462.2" cy="875.1" r="4.3"/><path class="er" d="M1360.9,851.0V879.8"/><circle class="mr" cx="1360.9" cy="865.4" r="4.3"/><path class="er" d="M1275.3,809.4V821.5"/><circle class="mr" cx="1275.3" cy="815.5" r="4.3"/><path class="er" d="M1437.5,852.4V877.3"/><circle class="mr" cx="1437.5" cy="864.8" r="4.3"/><path class="er" d="M1529.1,903.6V926.2"/><circle class="mr" cx="1529.1" cy="914.9" r="4.3"/><path class="er" d="M1500.7,891.9V906.3"/><circle class="mr" cx="1500.7" cy="899.1" r="4.3"/><path class="er" d="M1478.4,870.2V888.1"/><circle class="mr" cx="1478.4" cy="879.2" r="4.3"/><path class="er" d="M1361.7,847.7V859.3"/><circle class="mr" cx="1361.7" cy="853.5" r="4.3"/><path class="er" d="M1345.7,860.0V880.7"/><circle class="mr" cx="1345.7" cy="870.3" r="4.3"/><path class="er" d="M1485.4,875.1V894.3"/><circle class="mr" cx="1485.4" cy="884.7" r="4.3"/><path class="er" d="M1297.4,811.7V829.2"/><circle class="mr" cx="1297.4" cy="820.4" r="4.3"/><path class="er" d="M1455.2,883.2V893.4"/><circle class="mr" cx="1455.2" cy="888.3" r="4.3"/><path class="er" d="M1289.7,840.5V855.1"/><circle class="mr" cx="1289.7" cy="847.8" r="4.3"/><path class="er" d="M1319.3,840.0V868.5"/><circle class="mr" cx="1319.3" cy="854.2" r="4.3"/><path class="er" d="M1530.4,904.7V928.7"/><circle class="mr" cx="1530.4" cy="916.7" r="4.3"/><path class="er" d="M1386.9,866.1V876.5"/><circle class="mr" cx="1386.9" cy="871.3" r="4.3"/><path class="er" d="M1328.7,861.6V874.7"/><circle class="mr" cx="1328.7" cy="868.1" r="4.3"/><path class="er" d="M1310.7,849.0V864.8"/><circle class="mr" cx="1310.7" cy="856.9" r="4.3"/><path class="er" d="M1498.4,887.5V912.8"/><circle class="mr" cx="1498.4" cy="900.2" r="4.3"/><path class="er" d="M1433.5,855.2V882.7"/><circle class="mr" cx="1433.5" cy="868.9" r="4.3"/><path class="er" d="M1317.5,837.2V852.7"/><circle class="mr" cx="1317.5" cy="844.9" r="4.3"/><path class="er" d="M1525.1,905.1V924.9"/><circle class="mr" cx="1525.1" cy="915.0" r="4.3"/><path class="er" d="M1535.1,898.7V919.7"/><circle class="mr" cx="1535.1" cy="909.2" r="4.3"/><path class="er" d="M1319.4,856.0V877.4"/><circle class="mr" cx="1319.4" cy="866.7" r="4.3"/><path class="er" d="M1433.5,839.7V901.4"/><circle class="mr" cx="1433.5" cy="870.5" r="4.3"/><path class="er" d="M1486.1,883.6V902.7"/><circle class="mr" cx="1486.1" cy="893.2" r="4.3"/><path class="er" d="M1505.3,876.1V932.4"/><circle class="mr" cx="1505.3" cy="904.2" r="4.3"/><path class="er" d="M1311.2,848.7V861.4"/><circle class="mr" cx="1311.2" cy="855.1" r="4.3"/><path class="er" d="M1283.0,818.7V841.3"/><circle class="mr" cx="1283.0" cy="830.0" r="4.3"/><path class="er" d="M1387.0,857.7V868.4"/><circle class="mr" cx="1387.0" cy="863.0" r="4.3"/><path class="er" d="M1281.5,828.7V843.1"/><circle class="mr" cx="1281.5" cy="835.9" r="4.3"/><path class="er" d="M1383.2,844.5V863.2"/><circle class="mr" cx="1383.2" cy="853.9" r="4.3"/><path class="er" d="M1526.6,900.5V930.1"/><circle class="mr" cx="1526.6" cy="915.3" r="4.3"/><path class="er" d="M1402.0,825.9V855.3"/><circle class="mr" cx="1402.0" cy="840.6" r="4.3"/><path class="er" d="M1364.3,837.5V866.9"/><circle class="mr" cx="1364.3" cy="852.2" r="4.3"/><path class="er" d="M1519.2,903.7V923.8"/><circle class="mr" cx="1519.2" cy="913.7" r="4.3"/><path class="er" d="M1347.6,832.7V856.5"/><circle class="mr" cx="1347.6" cy="844.6" r="4.3"/><path class="er" d="M1457.3,878.5V897.0"/><circle class="mr" cx="1457.3" cy="887.7" r="4.3"/><path class="er" d="M1540.6,906.9V923.1"/><circle class="mr" cx="1540.6" cy="915.0" r="4.3"/><path class="er" d="M1478.3,869.5V898.3"/><circle class="mr" cx="1478.3" cy="883.9" r="4.3"/><path class="er" d="M1479.7,874.7V904.0"/><circle class="mr" cx="1479.7" cy="889.3" r="4.3"/><path class="er" d="M1413.5,844.2V862.7"/><circle class="mr" cx="1413.5" cy="853.4" r="4.3"/><path class="er" d="M1375.0,841.8V894.8"/><circle class="mr" cx="1375.0" cy="868.3" r="4.3"/><path class="er" d="M1482.3,868.1V891.8"/><circle class="mr" cx="1482.3" cy="879.9" r="4.3"/><path class="er" d="M1475.1,867.9V881.6"/><circle class="mr" cx="1475.1" cy="874.7" r="4.3"/><path class="er" d="M1463.8,869.4V891.7"/><circle class="mr" cx="1463.8" cy="880.6" r="4.3"/><path class="er" d="M1430.0,849.5V870.1"/><circle class="mr" cx="1430.0" cy="859.8" r="4.3"/><path class="er" d="M1440.7,846.9V913.7"/><circle class="mr" cx="1440.7" cy="880.3" r="4.3"/><path class="er" d="M1528.0,903.6V925.8"/><circle class="mr" cx="1528.0" cy="914.7" r="4.3"/><path class="er" d="M1478.3,875.2V890.5"/><circle class="mr" cx="1478.3" cy="882.9" r="4.3"/><path class="er" d="M1324.7,834.6V859.7"/><circle class="mr" cx="1324.7" cy="847.2" r="4.3"/><path class="er" d="M1465.0,872.3V901.7"/><circle class="mr" cx="1465.0" cy="887.0" r="4.3"/><path class="er" d="M1290.1,815.3V859.2"/><circle class="mr" cx="1290.1" cy="837.3" r="4.3"/><path class="er" d="M1502.5,883.0V909.1"/><circle class="mr" cx="1502.5" cy="896.1" r="4.3"/><path class="er" d="M1376.0,841.2V859.4"/><circle class="mr" cx="1376.0" cy="850.3" r="4.3"/><path class="er" d="M1533.7,907.2V920.1"/><circle class="mr" cx="1533.7" cy="913.6" r="4.3"/><path class="er" d="M1284.9,840.4V853.0"/><circle class="mr" cx="1284.9" cy="846.7" r="4.3"/><path class="er" d="M1499.6,874.2V918.4"/><circle class="mr" cx="1499.6" cy="896.3" r="4.3"/><path class="er" d="M1443.3,877.0V890.5"/><circle class="mr" cx="1443.3" cy="883.8" r="4.3"/><path class="er" d="M1373.4,854.9V866.4"/><circle class="mr" cx="1373.4" cy="860.7" r="4.3"/><path class="er" d="M1358.8,832.4V850.4"/><circle class="mr" cx="1358.8" cy="841.4" r="4.3"/><path class="er" d="M1384.5,834.6V846.9"/><circle class="mr" cx="1384.5" cy="840.7" r="4.3"/><path class="er" d="M1441.6,865.9V895.3"/><circle class="mr" cx="1441.6" cy="880.6" r="4.3"/><path class="er" d="M1465.8,833.6V909.8"/><circle class="mr" cx="1465.8" cy="871.7" r="4.3"/><path class="er" d="M1520.0,895.3V916.6"/><circle class="mr" cx="1520.0" cy="905.9" r="4.3"/><path class="er" d="M1306.6,805.3V835.0"/><circle class="mr" cx="1306.6" cy="820.1" r="4.3"/><path class="er" d="M1432.9,854.0V878.8"/><circle class="mr" cx="1432.9" cy="866.4" r="4.3"/><path class="er" d="M1285.4,834.1V844.4"/><circle class="mr" cx="1285.4" cy="839.2" r="4.3"/><path class="er" d="M1320.4,841.2V852.8"/><circle class="mr" cx="1320.4" cy="847.0" r="4.3"/><path class="er" d="M1383.2,837.2V862.1"/><circle class="mr" cx="1383.2" cy="849.7" r="4.3"/><path class="er" d="M1328.8,834.0V845.8"/><circle class="mr" cx="1328.8" cy="839.9" r="4.3"/><path class="er" d="M1378.2,866.1V878.3"/><circle class="mr" cx="1378.2" cy="872.2" r="4.3"/><path class="er" d="M1356.4,854.0V881.6"/><circle class="mr" cx="1356.4" cy="867.8" r="4.3"/><path class="er" d="M1437.8,856.0V877.5"/><circle class="mr" cx="1437.8" cy="866.8" r="4.3"/><path class="er" d="M1309.0,846.3V861.4"/><circle class="mr" cx="1309.0" cy="853.8" r="4.3"/><path class="er" d="M1377.6,840.9V851.3"/><circle class="mr" cx="1377.6" cy="846.1" r="4.3"/><path class="er" d="M1328.2,840.5V864.6"/><circle class="mr" cx="1328.2" cy="852.5" r="4.3"/><path class="er" d="M1511.5,892.1V920.6"/><circle class="mr" cx="1511.5" cy="906.4" r="4.3"/><path class="er" d="M1374.9,842.4V908.6"/><circle class="mr" cx="1374.9" cy="875.5" r="4.3"/><path class="er" d="M1419.7,855.8V881.7"/><circle class="mr" cx="1419.7" cy="868.7" r="4.3"/><path class="er" d="M1522.7,902.5V919.6"/><circle class="mr" cx="1522.7" cy="911.0" r="4.3"/><path class="er" d="M1375.3,862.6V877.5"/><circle class="mr" cx="1375.3" cy="870.0" r="4.3"/><path class="er" d="M1378.3,837.0V847.3"/><circle class="mr" cx="1378.3" cy="842.1" r="4.3"/><path class="er" d="M1287.3,819.4V846.8"/><circle class="mr" cx="1287.3" cy="833.1" r="4.3"/><path class="er" d="M1472.2,843.9V910.7"/><circle class="mr" cx="1472.2" cy="877.3" r="4.3"/><path class="er" d="M1304.7,818.4V835.1"/><circle class="mr" cx="1304.7" cy="826.8" r="4.3"/><path class="er" d="M1274.7,821.7V835.2"/><circle class="mr" cx="1274.7" cy="828.5" r="4.3"/><path class="er" d="M1274.0,832.8V854.3"/><circle class="mr" cx="1274.0" cy="843.5" r="4.3"/><path class="er" d="M1427.8,830.3V889.5"/><circle class="mr" cx="1427.8" cy="859.9" r="4.3"/><path class="er" d="M1312.7,842.6V867.0"/><circle class="mr" cx="1312.7" cy="854.8" r="4.3"/><path class="er" d="M1414.7,836.3V886.2"/><circle class="mr" cx="1414.7" cy="861.3" r="4.3"/><path class="er" d="M1386.2,846.9V869.1"/><circle class="mr" cx="1386.2" cy="858.0" r="4.3"/><path class="er" d="M1539.6,905.9V934.7"/><circle class="mr" cx="1539.6" cy="920.3" r="4.3"/><path class="er" d="M1513.5,888.4V918.3"/><circle class="mr" cx="1513.5" cy="903.3" r="4.3"/><path class="er" d="M1298.5,808.0V828.7"/><circle class="mr" cx="1298.5" cy="818.4" r="4.3"/><path class="er" d="M1387.0,832.0V861.7"/><circle class="mr" cx="1387.0" cy="846.9" r="4.3"/><path class="er" d="M1399.9,836.9V851.7"/><circle class="mr" cx="1399.9" cy="844.3" r="4.3"/><path class="er" d="M1399.9,844.6V868.2"/><circle class="mr" cx="1399.9" cy="856.4" r="4.3"/><path class="er" d="M1428.7,846.6V867.7"/><circle class="mr" cx="1428.7" cy="857.2" r="4.3"/><path class="er" d="M1482.9,887.4V901.7"/><circle class="mr" cx="1482.9" cy="894.6" r="4.3"/><path class="er" d="M1318.8,845.2V873.4"/><circle class="mr" cx="1318.8" cy="859.3" r="4.3"/><path class="er" d="M1490.5,885.0V902.4"/><circle class="mr" cx="1490.5" cy="893.7" r="4.3"/><path class="er" d="M1424.6,852.6V866.2"/><circle class="mr" cx="1424.6" cy="859.4" r="4.3"/><path class="er" d="M1449.9,860.9V882.7"/><circle class="mr" cx="1449.9" cy="871.8" r="4.3"/><path class="er" d="M1501.8,894.8V911.8"/><circle class="mr" cx="1501.8" cy="903.3" r="4.3"/><path class="er" d="M1494.5,880.1V902.4"/><circle class="mr" cx="1494.5" cy="891.2" r="4.3"/><path class="er" d="M1361.8,842.3V856.1"/><circle class="mr" cx="1361.8" cy="849.2" r="4.3"/><path class="er" d="M1439.7,862.0V880.0"/><circle class="mr" cx="1439.7" cy="871.0" r="4.3"/><path class="er" d="M1334.5,841.4V854.5"/><circle class="mr" cx="1334.5" cy="848.0" r="4.3"/><path class="er" d="M1448.6,866.3V881.1"/><circle class="mr" cx="1448.6" cy="873.7" r="4.3"/><path class="er" d="M1484.0,891.0V902.4"/><circle class="mr" cx="1484.0" cy="896.7" r="4.3"/><path class="er" d="M1355.6,860.3V887.8"/><circle class="mr" cx="1355.6" cy="874.0" r="4.3"/><path class="er" d="M1534.7,901.4V916.6"/><circle class="mr" cx="1534.7" cy="909.0" r="4.3"/><path class="er" d="M1530.0,905.9V924.8"/><circle class="mr" cx="1530.0" cy="915.3" r="4.3"/><path class="er" d="M1381.1,842.8V862.7"/><circle class="mr" cx="1381.1" cy="852.8" r="4.3"/><path class="er" d="M1290.3,823.3V849.4"/><circle class="mr" cx="1290.3" cy="836.3" r="4.3"/><path class="er" d="M1310.1,838.2V865.1"/><circle class="mr" cx="1310.1" cy="851.6" r="4.3"/><path class="er" d="M1346.2,819.2V844.6"/><circle class="mr" cx="1346.2" cy="831.9" r="4.3"/><path class="er" d="M1377.8,835.4V862.5"/><circle class="mr" cx="1377.8" cy="849.0" r="4.3"/>
<path d="M1246.8,887.15 L1248.3,885.4 L1249.8,883.69 L1251.3,882.02 L1252.8,880.38 L1254.3,878.78 L1255.8,877.21 L1257.3,875.68 L1258.8,874.19 L1260.3,872.73 L1261.8,871.31 L1263.3,869.92 L1264.8,868.56 L1266.3,867.24 L1267.8,865.95 L1269.3,864.7 L1270.8,863.48 L1272.3,862.3 L1273.8,861.15 L1275.3,860.03 L1276.8,858.94 L1278.3,857.89 L1279.8,856.87 L1281.3,855.88 L1282.8,854.92 L1284.3,853.99 L1285.8,853.1 L1287.3,852.24 L1288.8,851.41 L1290.3,850.6 L1291.8,849.83 L1293.3,849.09 L1294.8,848.38 L1296.3,847.7 L1297.8,847.05 L1299.3,846.43 L1300.8,845.84 L1302.3,845.28 L1303.8,844.74 L1305.3,844.24 L1306.8,843.76 L1308.3,843.31 L1309.8,842.89 L1311.3,842.5 L1312.8,842.13 L1314.3,841.79 L1315.8,841.48 L1317.3,841.19 L1318.8,840.94 L1320.3,840.7 L1321.8,840.5 L1323.3,840.32 L1324.8,840.16 L1326.3,840.03 L1327.8,839.93 L1329.3,839.85 L1330.8,839.79 L1332.3,839.76 L1333.8,839.76 L1335.3,839.77 L1336.8,839.82 L1338.3,839.88 L1339.8,839.97 L1341.3,840.08 L1342.8,840.22 L1344.3,840.37 L1345.8,840.56 L1347.3,840.76 L1348.8,840.98 L1350.3,841.23 L1351.8,841.5 L1353.3,841.79 L1354.8,842.1 L1356.3,842.43 L1357.8,842.78 L1359.3,843.15 L1360.8,843.54 L1362.3,843.96 L1363.8,844.39 L1365.3,844.84 L1366.8,845.31 L1368.3,845.8 L1369.8,846.31 L1371.3,846.84 L1372.8,847.39 L1374.3,847.95 L1375.8,848.53 L1377.3,849.13 L1378.8,849.75 L1380.3,850.39 L1381.8,851.04 L1383.3,851.71 L1384.8,852.39 L1386.3,853.1 L1387.8,853.81 L1389.3,854.55 L1390.8,855.3 L1392.3,856.07 L1393.8,856.85 L1395.3,857.64 L1396.8,858.45 L1398.3,859.28 L1399.8,860.12 L1401.3,860.97 L1402.8,861.84 L1404.3,862.72 L1405.8,863.62 L1407.3,864.53 L1408.8,865.45 L1410.3,866.38 L1411.8,867.33 L1413.3,868.29 L1414.8,869.26 L1416.3,870.25 L1417.8,871.24 L1419.3,872.25 L1420.8,873.27 L1422.3,874.29 L1423.8,875.33 L1425.3,876.39 L1426.8,877.45 L1428.3,878.52 L1429.8,879.6 L1431.3,880.69 L1432.8,881.79 L1434.3,882.9 L1435.8,884.02 L1437.3,885.14 L1438.8,886.28 L1440.3,887.42 L1441.8,888.58 L1443.3,889.74 L1444.8,890.9 L1446.3,892.08 L1447.8,893.26 L1449.3,894.45 L1450.8,895.64 L1452.3,896.84 L1453.8,898.05 L1455.3,899.26 L1456.8,900.47 L1458.3,901.7 L1459.8,902.92 L1461.3,904.15 L1462.8,905.38 L1464.3,906.62 L1465.8,907.86 L1467.3,909.1 L1468.8,910.34 L1470.3,911.59 L1471.8,912.84 L1473.3,914.09 L1474.8,915.34 L1476.3,916.59 L1477.8,917.85 L1479.3,919.1 L1480.8,920.35 L1482.3,921.6 L1483.8,922.86 L1485.3,924.11 L1486.8,925.36 L1488.3,926.61 L1489.8,927.85 L1491.3,929.1 L1492.8,930.34 L1494.3,931.58 L1495.8,932.81 L1497.3,934.04 L1498.8,935.27 L1500.3,936.5 L1501.8,937.72 L1503.3,938.93 L1504.8,940.14 L1506.3,941.35 L1507.8,942.55 L1509.3,943.74 L1510.8,944.93 L1512.3,946.11 L1513.8,947.28 L1515.3,948.44 L1516.8,949.6 L1518.3,950.75 L1519.8,951.9 L1521.3,953.03 L1522.8,954.16 L1524.3,955.27 L1525.8,956.38 L1527.3,957.48 L1528.8,958.56 L1530.3,959.64 L1531.8,960.7 L1533.3,961.76 L1534.8,962.8 L1536.3,963.84 L1537.8,964.86 L1539.3,965.86 L1540.8,966.86 L1542.3,967.84 L1543.8,968.81 L1545.3,969.77 L1546.8,970.71 L1548.3,971.64 L1549.8,972.55 L1551.3,973.45 L1552.8,974.33 L1554.3,975.2 L1555.8,976.05 L1557.3,976.89 L1558.8,977.71 L1560.3,978.52 L1561.8,979.31 L1563.3,980.08 L1564.8,980.84 L1566.3,981.59 L1567.8,982.32 L1569.3,983.03 L1570.8,983.74 L1572.3,984.43 L1573.8,985.1 L1575.3,985.76 L1576.8,986.41 L1578.3,987.05 L1579.8,987.67 L1581.3,988.28 L1582.8,988.88 L1584.3,989.47 L1585.8,990.04 L1587.3,990.61 L1588.8,991.16 L1590.3,991.7 L1591.8,992.23 L1593.3,992.75 L1594.8,993.26 L1596.3,993.76 L1597.8,994.25 L1599.3,994.73 L1600.8,995.2 L1602.3,995.67 L1603.8,996.12 L1605.3,996.56 L1606.8,997 L1608.3,997.43 L1609.8,997.84 L1611.3,998.26 L1612.8,998.66 L1614.3,999.05 L1615.8,999.44 L1617.3,999.83 L1618.8,1000.2 L1620.3,1000.57 L1621.8,1000.93 L1623.3,1001.29 L1624.8,1001.64 L1626.3,1001.98 L1627.8,1002.32 L1629.3,1002.66 L1630.8,1002.99 L1632.3,1003.31 L1633.8,1003.63 L1635.3,1003.95 L1636.8,1004.26 L1638.3,1004.57 L1639.8,1004.88 L1641.3,1005.18 L1642.8,1005.48 L1644.3,1005.77 L1645.8,1006.07 L1647.3,1006.36 L1648.8,1006.65 L1650.3,1006.93 L1651.8,1007.22 L1653.3,1007.5 L1654.8,1007.78 L1656.3,1008.06 L1657.8,1008.33 L1659.3,1008.61 L1660.8,1008.88 L1662.3,1009.15 L1663.8,1009.43 L1665.3,1009.7 L1666.8,1009.97 L1668.3,1010.24 L1669.8,1010.51 L1671.3,1010.78 L1672.8,1011.05 L1674.3,1011.32 L1675.8,1011.59 L1677.3,1011.86 L1678.8,1012.13 L1680.3,1012.4 L1681.8,1012.67 L1683.3,1012.95 L1684.8,1013.22 L1686.3,1013.5 L1687.8,1013.77 L1689.3,1014.05 L1690.8,1014.33 L1692.3,1014.61 L1693.8,1014.9 L1695.3,1015.18 L1696.8,1015.47 L1698.3,1015.76 L1699.8,1016.06 L1701.3,1016.35 L1702.8,1016.65 L1704.3,1016.95 L1705.8,1017.26 L1707.3,1017.57 L1708.8,1017.88 L1710.3,1018.2 L1711.8,1018.51 L1713.3,1018.84 L1714.8,1019.16 L1716.3,1019.5 L1717.8,1019.83 L1719.3,1020.17 L1720.8,1020.52 L1722.3,1020.87 L1723.8,1021.22 L1725.3,1021.58 L1726.8,1021.95 L1728.3,1022.32 L1729.8,1022.69 L1731.3,1023.07 L1732.8,1023.46 L1734.3,1023.85 L1735.8,1024.25 L1737.3,1024.66 L1738.8,1025.07 L1740.3,1025.49 L1741.8,1025.91 L1743.3,1026.34 L1744.8,1026.78 L1746.3,1027.23 L1747.8,1027.68 L1749.3,1028.14 L1750.8,1028.61 L1752.3,1029.09 L1753.8,1029.57 L1755.3,1030.06 L1756.8,1030.56 L1758.3,1031.07 L1759.8,1031.59 L1761.3,1032.11 L1762.8,1032.64 L1764.3,1033.19 L1765.8,1033.74 L1767.3,1034.3 L1768.8,1034.87 L1770.3,1035.45 L1771.8,1036.04 L1773.3,1036.64 L1774.8,1037.25 L1776.3,1037.87 L1777.8,1038.49 L1779.3,1039.13 L1780.8,1039.78 L1782.3,1040.44 L1783.8,1041.12 L1785.3,1041.8 L1786.8,1042.49 L1788.3,1043.2 L1789.8,1043.91 L1791.3,1044.64 L1792.8,1045.38 L1794.3,1046.13 L1795.8,1046.89 L1797.3,1047.67 L1798.8,1048.45 L1800.3,1049.25 L1801.8,1050.07 L1803.3,1050.89 L1804.8,1051.73 L1806.3,1052.58 L1807.8,1053.44 L1809.3,1054.32 L1810.8,1055.21 L1812.3,1056.11 L1813.8,1057.03 L1815.3,1057.96 L1816.8,1058.91 L1818.3,1059.87 L1819.8,1060.84 L1821.3,1061.83 L1822.8,1062.83 L1824.3,1063.85 L1825.8,1064.88 L1827.3,1065.93 L1828.8,1066.99 L1830.3,1068.07 L1831.8,1069.16 L1833.3,1070.27 L1834.8,1071.39 L1836.3,1072.52 L1837.8,1073.67 L1839.3,1074.83 L1840.8,1076 L1842.3,1077.18 L1843.8,1078.38 L1845.3,1079.59 L1846.8,1080.8 L1848.3,1082.03 L1849.8,1083.27 L1851.3,1084.53 L1852.8,1085.79 L1854.3,1087.06 L1855.8,1088.34 L1857.3,1089.62 L1858.8,1090.92 L1860.3,1092.23 L1861.8,1093.54 L1863.3,1094.86 L1864.8,1096.19 L1866.3,1097.53 L1867.8,1098.87 L1869.3,1100.22 L1870.8,1101.57 L1872.3,1102.93 L1873.8,1104.3 L1875.3,1105.67 L1876.8,1107.05 L1878.3,1108.43 L1879.8,1109.81 L1881.3,1111.2 L1882.8,1112.6 L1884.3,1113.99 L1885.8,1115.39 L1887.3,1116.79 L1888.8,1118.2 L1890.3,1119.6 L1891.8,1121.01 L1893.3,1122.42 L1894.8,1123.83 L1896.3,1125.24 L1897.8,1126.65 L1899.3,1128.06 L1900.8,1129.47 L1902.3,1130.88 L1903.8,1132.29 L1905.3,1133.7 L1906.8,1135.11 L1908.3,1136.51 L1909.8,1137.91 L1911.3,1139.31 L1912.8,1140.71 L1914.3,1142.1 L1915.8,1143.49 L1917.3,1144.88 L1918.8,1146.26 L1920.3,1147.64 L1921.8,1149.02 L1923.3,1150.38 L1924.8,1151.75 L1926.3,1153.11 L1927.8,1154.46 L1929.3,1155.8 L1930.8,1157.14 L1932.3,1158.47 L1933.8,1159.8 L1935.3,1161.11 L1936.8,1162.42 L1938.3,1163.72 L1939.8,1165.01 L1941.3,1166.3 L1942.8,1167.57 L1944.3,1168.84 L1945.8,1170.09 L1947.3,1171.34 L1948.8,1172.57 L1950.3,1173.79 L1951.8,1175 L1953.3,1176.21 L1954.8,1177.39 L1956.3,1178.57 L1957.8,1179.74 L1959.3,1180.89 L1960.8,1182.03 L1962.3,1183.15 L1963.8,1184.26 L1965.3,1185.36 L1966.8,1186.44 L1968.3,1187.51 L1969.8,1188.57 L1971.3,1189.6 L1972.8,1190.63 L1974.3,1191.63 L1975.8,1192.62 L1977.3,1193.6 L1978.8,1194.56 L1980.3,1195.5 L1981.8,1196.42 L1983.3,1197.32 L1984.8,1198.21 L1986.3,1199.08 L1987.8,1199.93 L1988.7,1200.43" fill="none" stroke="#ff0000" stroke-width="3.7" stroke-linejoin="round"/>
</g>
<line x1="174" y1="657.2" x2="174" y2="645.2" stroke="#000" stroke-width="3.4"/>
<text transform="translate(0,676.71) scale(1,1.06) translate(0,-676.71)" x="174" y="688.17" font-size="31.5" text-anchor="middle">0</text>
<line x1="364.2" y1="657.2" x2="364.2" y2="645.2" stroke="#000" stroke-width="3.4"/>
<text transform="translate(0,676.71) scale(1,1.06) translate(0,-676.71)" x="364.2" y="688.17" font-size="31.5" text-anchor="middle">50</text>
<line x1="554.4" y1="657.2" x2="554.4" y2="645.2" stroke="#000" stroke-width="3.4"/>
<text transform="translate(0,676.71) scale(1,1.06) translate(0,-676.71)" x="554.4" y="688.17" font-size="31.5" text-anchor="middle">100</text>
<line x1="744.6" y1="657.2" x2="744.6" y2="645.2" stroke="#000" stroke-width="3.4"/>
<text transform="translate(0,676.71) scale(1,1.06) translate(0,-676.71)" x="744.6" y="688.17" font-size="31.5" text-anchor="middle">150</text>
<line x1="934.8" y1="657.2" x2="934.8" y2="645.2" stroke="#000" stroke-width="3.4"/>
<text transform="translate(0,676.71) scale(1,1.06) translate(0,-676.71)" x="934.8" y="688.17" font-size="31.5" text-anchor="middle">200</text>
<line x1="75.6" y1="63.57" x2="87.6" y2="63.57" stroke="#000" stroke-width="3.4"/>
<text transform="translate(0,63.57) scale(1,1.06) translate(0,-63.57)" x="69.1" y="75.74" font-size="31.5" text-anchor="end">0</text>
<line x1="75.6" y1="162.51" x2="87.6" y2="162.51" stroke="#000" stroke-width="3.4"/>
<text transform="translate(0,162.51) scale(1,1.06) translate(0,-162.51)" x="69.1" y="174.67" font-size="31.5" text-anchor="end">1</text>
<line x1="75.6" y1="261.45" x2="87.6" y2="261.45" stroke="#000" stroke-width="3.4"/>
<text transform="translate(0,261.45) scale(1,1.06) translate(0,-261.45)" x="69.1" y="273.61" font-size="31.5" text-anchor="end">2</text>
<line x1="75.6" y1="360.38" x2="87.6" y2="360.38" stroke="#000" stroke-width="3.4"/>
<text transform="translate(0,360.38) scale(1,1.06) translate(0,-360.38)" x="69.1" y="372.55" font-size="31.5" text-anchor="end">3</text>
<line x1="75.6" y1="459.32" x2="87.6" y2="459.32" stroke="#000" stroke-width="3.4"/>
<text transform="translate(0,459.32) scale(1,1.06) translate(0,-459.32)" x="69.1" y="471.49" font-size="31.5" text-anchor="end">4</text>
<line x1="75.6" y1="558.26" x2="87.6" y2="558.26" stroke="#000" stroke-width="3.4"/>
<text transform="translate(0,558.26) scale(1,1.06) translate(0,-558.26)" x="69.1" y="570.43" font-size="31.5" text-anchor="end">5</text>
<line x1="75.6" y1="657.2" x2="87.6" y2="657.2" stroke="#000" stroke-width="3.4"/>
<text transform="translate(0,657.2) scale(1,1.06) translate(0,-657.2)" x="69.1" y="669.37" font-size="31.5" text-anchor="end">6</text>
<rect x="75.6" y="14.1" width="900.1" height="643.1" fill="none" stroke="#000" stroke-width="2.8" stroke-linejoin="miter"/>
<text x="525.65" y="724.2" font-size="27.7" text-anchor="middle" stroke="#000" stroke-width="0.35">Days since peak</text>
<text transform="translate(35.2,335.65) rotate(-90)" x="0" y="0" font-size="27.7" text-anchor="middle" stroke="#000" stroke-width="0.35">Magnitudes below peak</text>
<line x1="1252.7" y1="657.2" x2="1252.7" y2="645.2" stroke="#000" stroke-width="3.4"/>
<text transform="translate(0,676.71) scale(1,1.06) translate(0,-676.71)" x="1252.7" y="688.17" font-size="31.5" text-anchor="middle">0</text>
<line x1="1439.1" y1="657.2" x2="1439.1" y2="645.2" stroke="#000" stroke-width="3.4"/>
<text transform="translate(0,676.71) scale(1,1.06) translate(0,-676.71)" x="1439.1" y="688.17" font-size="31.5" text-anchor="middle">50</text>
<line x1="1625.5" y1="657.2" x2="1625.5" y2="645.2" stroke="#000" stroke-width="3.4"/>
<text transform="translate(0,676.71) scale(1,1.06) translate(0,-676.71)" x="1625.5" y="688.17" font-size="31.5" text-anchor="middle">100</text>
<line x1="1811.9" y1="657.2" x2="1811.9" y2="645.2" stroke="#000" stroke-width="3.4"/>
<text transform="translate(0,676.71) scale(1,1.06) translate(0,-676.71)" x="1811.9" y="688.17" font-size="31.5" text-anchor="middle">150</text>
<line x1="1998.3" y1="657.2" x2="1998.3" y2="645.2" stroke="#000" stroke-width="3.4"/>
<text transform="translate(0,676.71) scale(1,1.06) translate(0,-676.71)" x="1998.3" y="688.17" font-size="31.5" text-anchor="middle">200</text>
<line x1="1155.7" y1="63.57" x2="1167.7" y2="63.57" stroke="#000" stroke-width="3.4"/>
<text transform="translate(0,63.57) scale(1,1.06) translate(0,-63.57)" x="1149.2" y="75.74" font-size="31.5" text-anchor="end">0</text>
<line x1="1155.7" y1="162.51" x2="1167.7" y2="162.51" stroke="#000" stroke-width="3.4"/>
<text transform="translate(0,162.51) scale(1,1.06) translate(0,-162.51)" x="1149.2" y="174.67" font-size="31.5" text-anchor="end">1</text>
<line x1="1155.7" y1="261.45" x2="1167.7" y2="261.45" stroke="#000" stroke-width="3.4"/>
<text transform="translate(0,261.45) scale(1,1.06) translate(0,-261.45)" x="1149.2" y="273.61" font-size="31.5" text-anchor="end">2</text>
<line x1="1155.7" y1="360.38" x2="1167.7" y2="360.38" stroke="#000" stroke-width="3.4"/>
<text transform="translate(0,360.38) scale(1,1.06) translate(0,-360.38)" x="1149.2" y="372.55" font-size="31.5" text-anchor="end">3</text>
<line x1="1155.7" y1="459.32" x2="1167.7" y2="459.32" stroke="#000" stroke-width="3.4"/>
<text transform="translate(0,459.32) scale(1,1.06) translate(0,-459.32)" x="1149.2" y="471.49" font-size="31.5" text-anchor="end">4</text>
<line x1="1155.7" y1="558.26" x2="1167.7" y2="558.26" stroke="#000" stroke-width="3.4"/>
<text transform="translate(0,558.26) scale(1,1.06) translate(0,-558.26)" x="1149.2" y="570.43" font-size="31.5" text-anchor="end">5</text>
<line x1="1155.7" y1="657.2" x2="1167.7" y2="657.2" stroke="#000" stroke-width="3.4"/>
<text transform="translate(0,657.2) scale(1,1.06) translate(0,-657.2)" x="1149.2" y="669.37" font-size="31.5" text-anchor="end">6</text>
<rect x="1155.7" y="14.1" width="900.1" height="643.1" fill="none" stroke="#000" stroke-width="2.8" stroke-linejoin="miter"/>
<text x="1605.75" y="724.2" font-size="27.7" text-anchor="middle" stroke="#000" stroke-width="0.35">Days since peak</text>
<text transform="translate(1115.3,335.65) rotate(-90)" x="0" y="0" font-size="27.7" text-anchor="middle" stroke="#000" stroke-width="0.35">Magnitudes below peak</text>
<line x1="219.5" y1="1404.6" x2="219.5" y2="1392.6" stroke="#000" stroke-width="3.4"/>
<text transform="translate(0,1424.11) scale(1,1.06) translate(0,-1424.11)" x="219.5" y="1435.57" font-size="31.5" text-anchor="middle">0</text>
<line x1="398.25" y1="1404.6" x2="398.25" y2="1392.6" stroke="#000" stroke-width="3.4"/>
<text transform="translate(0,1424.11) scale(1,1.06) translate(0,-1424.11)" x="398.25" y="1435.57" font-size="31.5" text-anchor="middle">50</text>
<line x1="577" y1="1404.6" x2="577" y2="1392.6" stroke="#000" stroke-width="3.4"/>
<text transform="translate(0,1424.11) scale(1,1.06) translate(0,-1424.11)" x="577" y="1435.57" font-size="31.5" text-anchor="middle">100</text>
<line x1="755.75" y1="1404.6" x2="755.75" y2="1392.6" stroke="#000" stroke-width="3.4"/>
<text transform="translate(0,1424.11) scale(1,1.06) translate(0,-1424.11)" x="755.75" y="1435.57" font-size="31.5" text-anchor="middle">150</text>
<line x1="934.5" y1="1404.6" x2="934.5" y2="1392.6" stroke="#000" stroke-width="3.4"/>
<text transform="translate(0,1424.11) scale(1,1.06) translate(0,-1424.11)" x="934.5" y="1435.57" font-size="31.5" text-anchor="middle">200</text>
<line x1="75.6" y1="810.88" x2="87.6" y2="810.88" stroke="#000" stroke-width="3.4"/>
<text transform="translate(0,810.88) scale(1,1.06) translate(0,-810.88)" x="69.1" y="823.04" font-size="31.5" text-anchor="end">0</text>
<line x1="75.6" y1="909.83" x2="87.6" y2="909.83" stroke="#000" stroke-width="3.4"/>
<text transform="translate(0,909.83) scale(1,1.06) translate(0,-909.83)" x="69.1" y="922" font-size="31.5" text-anchor="end">1</text>
<line x1="75.6" y1="1008.78" x2="87.6" y2="1008.78" stroke="#000" stroke-width="3.4"/>
<text transform="translate(0,1008.78) scale(1,1.06) translate(0,-1008.78)" x="69.1" y="1020.95" font-size="31.5" text-anchor="end">2</text>
<line x1="75.6" y1="1107.74" x2="87.6" y2="1107.74" stroke="#000" stroke-width="3.4"/>
<text transform="translate(0,1107.74) scale(1,1.06) translate(0,-1107.74)" x="69.1" y="1119.9" font-size="31.5" text-anchor="end">3</text>
<line x1="75.6" y1="1206.69" x2="87.6" y2="1206.69" stroke="#000" stroke-width="3.4"/>
<text transform="translate(0,1206.69) scale(1,1.06) translate(0,-1206.69)" x="69.1" y="1218.86" font-size="31.5" text-anchor="end">4</text>
<line x1="75.6" y1="1305.65" x2="87.6" y2="1305.65" stroke="#000" stroke-width="3.4"/>
<text transform="translate(0,1305.65) scale(1,1.06) translate(0,-1305.65)" x="69.1" y="1317.81" font-size="31.5" text-anchor="end">5</text>
<line x1="75.6" y1="1404.6" x2="87.6" y2="1404.6" stroke="#000" stroke-width="3.4"/>
<text transform="translate(0,1404.6) scale(1,1.06) translate(0,-1404.6)" x="69.1" y="1416.77" font-size="31.5" text-anchor="end">6</text>
<rect x="75.6" y="761.4" width="900.1" height="643.2" fill="none" stroke="#000" stroke-width="2.8" stroke-linejoin="miter"/>
<text x="525.65" y="1471.6" font-size="27.7" text-anchor="middle" stroke="#000" stroke-width="0.35">Days since peak</text>
<text transform="translate(35.2,1083) rotate(-90)" x="0" y="0" font-size="27.7" text-anchor="middle" stroke="#000" stroke-width="0.35">Magnitudes below peak</text>
<line x1="1299.5" y1="1404.6" x2="1299.5" y2="1392.6" stroke="#000" stroke-width="3.4"/>
<text transform="translate(0,1424.11) scale(1,1.06) translate(0,-1424.11)" x="1299.5" y="1435.57" font-size="31.5" text-anchor="middle">0</text>
<line x1="1471.35" y1="1404.6" x2="1471.35" y2="1392.6" stroke="#000" stroke-width="3.4"/>
<text transform="translate(0,1424.11) scale(1,1.06) translate(0,-1424.11)" x="1471.35" y="1435.57" font-size="31.5" text-anchor="middle">50</text>
<line x1="1643.2" y1="1404.6" x2="1643.2" y2="1392.6" stroke="#000" stroke-width="3.4"/>
<text transform="translate(0,1424.11) scale(1,1.06) translate(0,-1424.11)" x="1643.2" y="1435.57" font-size="31.5" text-anchor="middle">100</text>
<line x1="1815.05" y1="1404.6" x2="1815.05" y2="1392.6" stroke="#000" stroke-width="3.4"/>
<text transform="translate(0,1424.11) scale(1,1.06) translate(0,-1424.11)" x="1815.05" y="1435.57" font-size="31.5" text-anchor="middle">150</text>
<line x1="1986.9" y1="1404.6" x2="1986.9" y2="1392.6" stroke="#000" stroke-width="3.4"/>
<text transform="translate(0,1424.11) scale(1,1.06) translate(0,-1424.11)" x="1986.9" y="1435.57" font-size="31.5" text-anchor="middle">200</text>
<line x1="1155.7" y1="810.88" x2="1167.7" y2="810.88" stroke="#000" stroke-width="3.4"/>
<text transform="translate(0,810.88) scale(1,1.06) translate(0,-810.88)" x="1149.2" y="823.04" font-size="31.5" text-anchor="end">0</text>
<line x1="1155.7" y1="909.83" x2="1167.7" y2="909.83" stroke="#000" stroke-width="3.4"/>
<text transform="translate(0,909.83) scale(1,1.06) translate(0,-909.83)" x="1149.2" y="922" font-size="31.5" text-anchor="end">1</text>
<line x1="1155.7" y1="1008.78" x2="1167.7" y2="1008.78" stroke="#000" stroke-width="3.4"/>
<text transform="translate(0,1008.78) scale(1,1.06) translate(0,-1008.78)" x="1149.2" y="1020.95" font-size="31.5" text-anchor="end">2</text>
<line x1="1155.7" y1="1107.74" x2="1167.7" y2="1107.74" stroke="#000" stroke-width="3.4"/>
<text transform="translate(0,1107.74) scale(1,1.06) translate(0,-1107.74)" x="1149.2" y="1119.9" font-size="31.5" text-anchor="end">3</text>
<line x1="1155.7" y1="1206.69" x2="1167.7" y2="1206.69" stroke="#000" stroke-width="3.4"/>
<text transform="translate(0,1206.69) scale(1,1.06) translate(0,-1206.69)" x="1149.2" y="1218.86" font-size="31.5" text-anchor="end">4</text>
<line x1="1155.7" y1="1305.65" x2="1167.7" y2="1305.65" stroke="#000" stroke-width="3.4"/>
<text transform="translate(0,1305.65) scale(1,1.06) translate(0,-1305.65)" x="1149.2" y="1317.81" font-size="31.5" text-anchor="end">5</text>
<line x1="1155.7" y1="1404.6" x2="1167.7" y2="1404.6" stroke="#000" stroke-width="3.4"/>
<text transform="translate(0,1404.6) scale(1,1.06) translate(0,-1404.6)" x="1149.2" y="1416.77" font-size="31.5" text-anchor="end">6</text>
<rect x="1155.7" y="761.4" width="900.1" height="643.2" fill="none" stroke="#000" stroke-width="2.8" stroke-linejoin="miter"/>
<text x="1605.75" y="1471.6" font-size="27.7" text-anchor="middle" stroke="#000" stroke-width="0.35">Days since peak</text>
<text transform="translate(1115.3,1083) rotate(-90)" x="0" y="0" font-size="27.7" text-anchor="middle" stroke="#000" stroke-width="0.35">Magnitudes below peak</text>
</svg>
</body></html>
